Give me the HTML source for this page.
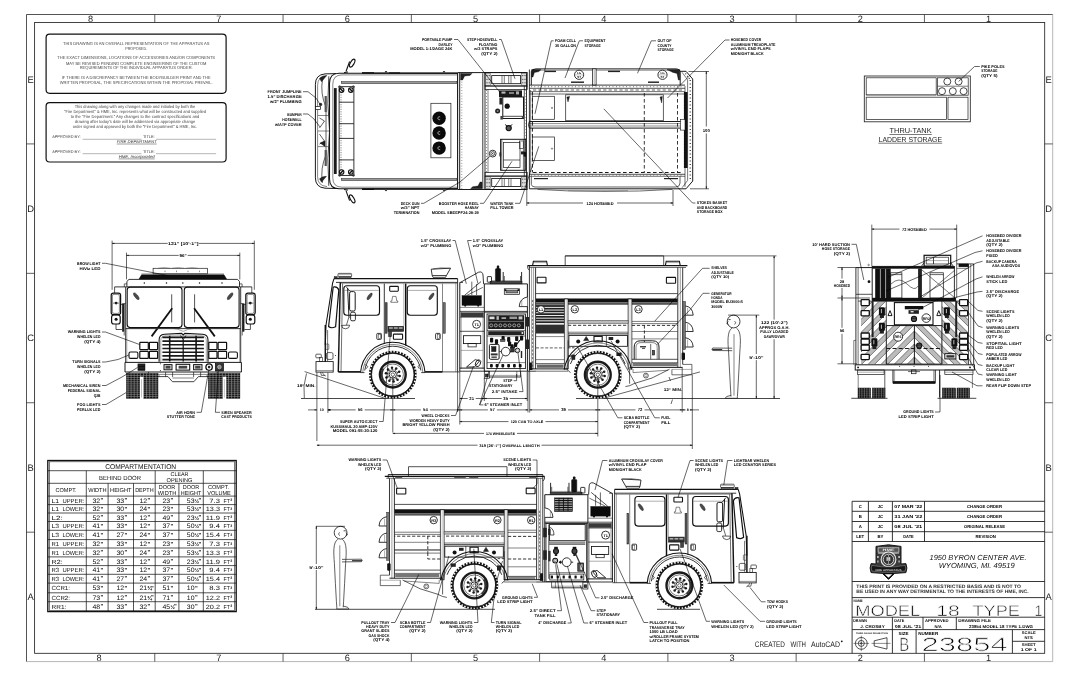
<!DOCTYPE html>
<html><head><meta charset="utf-8"><title>Model 18 Type 1</title>
<style>
html,body{margin:0;padding:0;background:#fff;}
body{width:1080px;height:675px;overflow:hidden;}
svg{display:block;font-family:"Liberation Sans",sans-serif;text-rendering:geometricPrecision;filter:grayscale(1);}
svg path,svg rect,svg circle,svg ellipse{vector-effect:none}
</style></head><body>
<svg width="1080" height="675" viewBox="0 0 1080 675">
<g>
<g id="frame">
<path d="M26.50 14.50L1052.70 14.50" stroke="#333" stroke-width="0.84"/>
<path d="M26.50 14.50L26.50 661.60" stroke="#333" stroke-width="0.84"/>
<path d="M1052.70 14.50L1052.70 661.60" stroke="#999" stroke-width="0.72"/>
<path d="M26.50 661.60L1052.70 661.60" stroke="#999" stroke-width="0.72"/>
<rect x="34.60" y="22.50" width="1010.10" height="630.80" stroke="#222" stroke-width="0.84" fill="none"/>
<path d="M154.78 14.50L154.78 22.50" stroke="#222" stroke-width="0.72"/>
<path d="M154.78 653.30L154.78 661.60" stroke="#222" stroke-width="0.72"/>
<path d="M283.05 14.50L283.05 22.50" stroke="#222" stroke-width="0.72"/>
<path d="M283.05 653.30L283.05 661.60" stroke="#222" stroke-width="0.72"/>
<path d="M411.33 14.50L411.33 22.50" stroke="#222" stroke-width="0.72"/>
<path d="M411.33 653.30L411.33 661.60" stroke="#222" stroke-width="0.72"/>
<path d="M539.60 14.50L539.60 22.50" stroke="#222" stroke-width="0.72"/>
<path d="M539.60 653.30L539.60 661.60" stroke="#222" stroke-width="0.72"/>
<path d="M667.88 14.50L667.88 22.50" stroke="#222" stroke-width="0.72"/>
<path d="M667.88 653.30L667.88 661.60" stroke="#222" stroke-width="0.72"/>
<path d="M796.15 14.50L796.15 22.50" stroke="#222" stroke-width="0.72"/>
<path d="M796.15 653.30L796.15 661.60" stroke="#222" stroke-width="0.72"/>
<path d="M924.43 14.50L924.43 22.50" stroke="#222" stroke-width="0.72"/>
<path d="M924.43 653.30L924.43 661.60" stroke="#222" stroke-width="0.72"/>
<path d="M26.50 143.92L34.60 143.92" stroke="#222" stroke-width="0.72"/>
<path d="M1044.70 143.92L1052.70 143.92" stroke="#222" stroke-width="0.72"/>
<path d="M26.50 273.34L34.60 273.34" stroke="#222" stroke-width="0.72"/>
<path d="M1044.70 273.34L1052.70 273.34" stroke="#222" stroke-width="0.72"/>
<path d="M26.50 402.76L34.60 402.76" stroke="#222" stroke-width="0.72"/>
<path d="M1044.70 402.76L1052.70 402.76" stroke="#222" stroke-width="0.72"/>
<path d="M26.50 532.18L34.60 532.18" stroke="#222" stroke-width="0.72"/>
<path d="M1044.70 532.18L1052.70 532.18" stroke="#222" stroke-width="0.72"/>
<text x="90.64" y="21.80" font-size="9.2" text-anchor="middle" fill="#222">8</text>
<text x="99.04" y="660.80" font-size="9.2" text-anchor="middle" fill="#222">8</text>
<text x="218.91" y="21.80" font-size="9.2" text-anchor="middle" fill="#222">7</text>
<text x="218.91" y="660.80" font-size="9.2" text-anchor="middle" fill="#222">7</text>
<text x="347.19" y="21.80" font-size="9.2" text-anchor="middle" fill="#222">6</text>
<text x="347.19" y="660.80" font-size="9.2" text-anchor="middle" fill="#222">6</text>
<text x="475.46" y="21.80" font-size="9.2" text-anchor="middle" fill="#222">5</text>
<text x="475.46" y="660.80" font-size="9.2" text-anchor="middle" fill="#222">5</text>
<text x="603.74" y="21.80" font-size="9.2" text-anchor="middle" fill="#222">4</text>
<text x="603.74" y="660.80" font-size="9.2" text-anchor="middle" fill="#222">4</text>
<text x="732.01" y="21.80" font-size="9.2" text-anchor="middle" fill="#222">3</text>
<text x="732.01" y="660.80" font-size="9.2" text-anchor="middle" fill="#222">3</text>
<text x="860.29" y="21.80" font-size="9.2" text-anchor="middle" fill="#222">2</text>
<text x="860.29" y="660.80" font-size="9.2" text-anchor="middle" fill="#222">2</text>
<text x="988.56" y="21.80" font-size="9.2" text-anchor="middle" fill="#222">1</text>
<text x="988.56" y="660.80" font-size="9.2" text-anchor="middle" fill="#222">1</text>
<text x="30.60" y="82.61" font-size="9.4" text-anchor="middle" fill="#222">E</text>
<text x="1048.70" y="82.61" font-size="9.4" text-anchor="middle" fill="#222">E</text>
<text x="30.60" y="212.03" font-size="9.4" text-anchor="middle" fill="#222">D</text>
<text x="1048.70" y="212.03" font-size="9.4" text-anchor="middle" fill="#222">D</text>
<text x="30.60" y="341.45" font-size="9.4" text-anchor="middle" fill="#222">C</text>
<text x="1048.70" y="341.45" font-size="9.4" text-anchor="middle" fill="#222">C</text>
<text x="30.60" y="470.87" font-size="9.4" text-anchor="middle" fill="#222">B</text>
<text x="1048.70" y="470.87" font-size="9.4" text-anchor="middle" fill="#222">B</text>
<text x="30.60" y="600.29" font-size="9.4" text-anchor="middle" fill="#222">A</text>
<text x="1048.70" y="600.29" font-size="9.4" text-anchor="middle" fill="#222">A</text>
<text x="754.80" y="647.40" font-size="8" textLength="30.20" lengthAdjust="spacingAndGlyphs" fill="#222">CREATED</text>
<text x="790.50" y="647.40" font-size="8" textLength="15.50" lengthAdjust="spacingAndGlyphs" fill="#222">WITH</text>
<text x="811.00" y="647.40" font-size="8" textLength="29.00" lengthAdjust="spacingAndGlyphs" fill="#222">AutoCAD</text>
<circle cx="841.80" cy="641.30" r="0.90" stroke="#000" stroke-width="0.00" fill="#111"/>
</g>
<g id="notes">
<rect x="46.10" y="34.10" width="180.00" height="59.20" stroke="#111" stroke-width="1.20" fill="none" rx="3.5"/>
<rect x="46.10" y="102.70" width="180.00" height="59.30" stroke="#111" stroke-width="1.20" fill="none" rx="3.5"/>
<text x="62.95" y="44.65" font-size="4.4" textLength="146.50" lengthAdjust="spacingAndGlyphs" fill="#444">THIS DRAWING IS AN OVERALL REPRESENTATION OF THE APPARATUS AS</text>
<text x="125.20" y="49.75" font-size="4.4" textLength="22.00" lengthAdjust="spacingAndGlyphs" fill="#444">PROPOSED.</text>
<text x="57.35" y="59.45" font-size="4.4" textLength="157.70" lengthAdjust="spacingAndGlyphs" fill="#444">THE EXACT DIMENSIONS, LOCATIONS OF ACCESSORIES AND/OR COMPONENTS</text>
<text x="65.95" y="64.55" font-size="4.4" textLength="140.50" lengthAdjust="spacingAndGlyphs" fill="#444">MAY BE REVISED PENDING COMPLETE ENGINEERING OF THE CUSTOM</text>
<text x="79.70" y="69.45" font-size="4.4" textLength="113.00" lengthAdjust="spacingAndGlyphs" fill="#444">REQUIREMENTS OF THE INDIVIDUAL APPARATUS ORDER.</text>
<text x="61.70" y="79.15" font-size="4.4" textLength="149.00" lengthAdjust="spacingAndGlyphs" fill="#444">IF THERE IS A DISCREPANCY BETWEEN THE BODYBUILDER PRINT AND THE</text>
<text x="59.70" y="84.25" font-size="4.4" textLength="153.00" lengthAdjust="spacingAndGlyphs" fill="#444">WRITTEN PROPOSAL, THE SPECIFICATIONS WITHIN THE PROPOSAL PREVAIL.</text>
<text x="74.65" y="108.40" font-size="4.4" textLength="120.70" lengthAdjust="spacingAndGlyphs" fill="#444">This drawing along with any changes made and initialed by both the</text>
<text x="64.00" y="113.10" font-size="4.4" textLength="142.00" lengthAdjust="spacingAndGlyphs" fill="#444">"Fire Department" &amp; HME, Inc. represents what will be constructed and supplied</text>
<text x="70.75" y="118.20" font-size="4.4" textLength="128.50" lengthAdjust="spacingAndGlyphs" fill="#444">to the "Fire Department." Any changes to the contract specifications and</text>
<text x="74.85" y="123.30" font-size="4.4" textLength="120.30" lengthAdjust="spacingAndGlyphs" fill="#444">drawing after today's date will be addressed via appropriate change</text>
<text x="72.80" y="128.30" font-size="4.4" textLength="124.40" lengthAdjust="spacingAndGlyphs" fill="#444">order signed and approved by both the "Fire Department" &amp; HME, Inc.</text>
<text x="52.20" y="138.40" font-size="4.2" textLength="28.40" lengthAdjust="spacingAndGlyphs" fill="#444">APPROVED BY:</text>
<text x="142.90" y="138.40" font-size="4.2" textLength="11.80" lengthAdjust="spacingAndGlyphs" fill="#444">TITLE:</text>
<path d="M82.60 139.30L141.50 139.30" stroke="#666" stroke-width="0.48"/>
<path d="M156.00 139.30L216.10 139.30" stroke="#666" stroke-width="0.48"/>
<text x="52.20" y="152.80" font-size="4.2" textLength="28.40" lengthAdjust="spacingAndGlyphs" fill="#444">APPROVED BY:</text>
<text x="142.90" y="152.80" font-size="4.2" textLength="11.80" lengthAdjust="spacingAndGlyphs" fill="#444">TITLE:</text>
<path d="M82.60 153.70L141.50 153.70" stroke="#666" stroke-width="0.48"/>
<path d="M156.00 153.70L216.10 153.70" stroke="#666" stroke-width="0.48"/>
<text x="116.70" y="143.00" font-size="4.2" font-style="italic" textLength="40.00" lengthAdjust="spacingAndGlyphs" fill="#333">FIRE DEPARTMENT</text>
<path d="M116.70 144.00L156.70 144.00" stroke="#333" stroke-width="0.48"/>
<text x="118.70" y="157.90" font-size="4.2" font-style="italic" textLength="36.00" lengthAdjust="spacingAndGlyphs" fill="#333">HME, Incorporated</text>
<path d="M118.70 158.90L154.70 158.90" stroke="#333" stroke-width="0.48"/>
</g>
<g id="table">
<rect x="47.80" y="460.50" width="188.40" height="151.10" stroke="#111" stroke-width="1.32" fill="none"/>
<rect x="49.30" y="461.80" width="185.40" height="148.80" stroke="#222" stroke-width="0.60" fill="none"/>
<path d="M47.80 470.70L236.20 470.70" stroke="#111" stroke-width="0.72"/>
<path d="M47.80 483.30L236.20 483.30" stroke="#111" stroke-width="0.72"/>
<path d="M47.80 496.10L236.20 496.10" stroke="#111" stroke-width="0.72"/>
<path d="M47.80 504.60L236.20 504.60" stroke="#111" stroke-width="0.72"/>
<path d="M47.80 513.00L236.20 513.00" stroke="#111" stroke-width="0.72"/>
<path d="M47.80 521.50L236.20 521.50" stroke="#111" stroke-width="0.72"/>
<path d="M47.80 530.30L236.20 530.30" stroke="#111" stroke-width="0.72"/>
<path d="M47.80 539.60L236.20 539.60" stroke="#111" stroke-width="0.72"/>
<path d="M47.80 548.00L236.20 548.00" stroke="#111" stroke-width="0.72"/>
<path d="M47.80 556.90L236.20 556.90" stroke="#111" stroke-width="0.72"/>
<path d="M47.80 565.60L236.20 565.60" stroke="#111" stroke-width="0.72"/>
<path d="M47.80 574.30L236.20 574.30" stroke="#111" stroke-width="0.72"/>
<path d="M47.80 583.10L236.20 583.10" stroke="#111" stroke-width="0.72"/>
<path d="M47.80 592.80L236.20 592.80" stroke="#111" stroke-width="0.72"/>
<path d="M47.80 601.70L236.20 601.70" stroke="#111" stroke-width="0.72"/>
<path d="M86.30 470.70L86.30 611.60" stroke="#111" stroke-width="0.72"/>
<path d="M108.10 483.30L108.10 611.60" stroke="#111" stroke-width="0.72"/>
<path d="M133.50 483.30L133.50 611.60" stroke="#111" stroke-width="0.72"/>
<path d="M155.20 470.70L155.20 611.60" stroke="#111" stroke-width="0.72"/>
<path d="M178.90 483.30L178.90 611.60" stroke="#111" stroke-width="0.72"/>
<path d="M203.30 470.70L203.30 611.60" stroke="#111" stroke-width="0.72"/>
<text x="140.70" y="468.90" font-size="7.0" text-anchor="middle" textLength="71.00" lengthAdjust="spacingAndGlyphs" fill="#111">COMPARTMENTATION</text>
<text x="120.00" y="479.60" font-size="6.0" text-anchor="middle" textLength="42.00" lengthAdjust="spacingAndGlyphs" fill="#111">BEHIND DOOR</text>
<text x="179.50" y="476.10" font-size="5.6" text-anchor="middle" textLength="18.00" lengthAdjust="spacingAndGlyphs" fill="#111">CLEAR</text>
<text x="179.50" y="482.00" font-size="5.6" text-anchor="middle" textLength="26.00" lengthAdjust="spacingAndGlyphs" fill="#111">OPENING</text>
<text x="66.00" y="492.40" font-size="5.7" text-anchor="middle" textLength="21.00" lengthAdjust="spacingAndGlyphs" fill="#111">COMPT.</text>
<text x="97.40" y="492.40" font-size="5.7" text-anchor="middle" textLength="18.50" lengthAdjust="spacingAndGlyphs" fill="#111">WIDTH</text>
<text x="120.80" y="492.40" font-size="5.7" text-anchor="middle" textLength="21.50" lengthAdjust="spacingAndGlyphs" fill="#111">HEIGHT</text>
<text x="144.40" y="492.40" font-size="5.7" text-anchor="middle" textLength="18.50" lengthAdjust="spacingAndGlyphs" fill="#111">DEPTH</text>
<text x="167.00" y="489.00" font-size="5.7" text-anchor="middle" textLength="16.50" lengthAdjust="spacingAndGlyphs" fill="#111">DOOR</text>
<text x="167.00" y="495.20" font-size="5.7" text-anchor="middle" textLength="18.50" lengthAdjust="spacingAndGlyphs" fill="#111">WIDTH</text>
<text x="191.00" y="489.00" font-size="5.7" text-anchor="middle" textLength="16.50" lengthAdjust="spacingAndGlyphs" fill="#111">DOOR</text>
<text x="191.00" y="495.20" font-size="5.7" text-anchor="middle" textLength="20.50" lengthAdjust="spacingAndGlyphs" fill="#111">HEIGHT</text>
<text x="218.50" y="489.00" font-size="5.7" text-anchor="middle" textLength="21.00" lengthAdjust="spacingAndGlyphs" fill="#111">COMPT.</text>
<text x="219.00" y="495.20" font-size="5.7" text-anchor="middle" textLength="23.50" lengthAdjust="spacingAndGlyphs" fill="#111">VOLUME</text>
<text x="51.50" y="502.65" font-size="6.0" textLength="7.60" lengthAdjust="spacingAndGlyphs" fill="#111">L1</text>
<text x="62.40" y="502.65" font-size="6.0" textLength="22.00" lengthAdjust="spacingAndGlyphs" fill="#111">UPPER:</text>
<text x="92.40" y="502.65" font-size="6.4" textLength="7.70" lengthAdjust="spacingAndGlyphs" fill="#111">32</text>
<text x="100.50" y="502.05" font-size="5.8" font-weight="bold" fill="#111">"</text>
<text x="116.40" y="502.65" font-size="6.4" textLength="7.70" lengthAdjust="spacingAndGlyphs" fill="#111">33</text>
<text x="124.50" y="502.05" font-size="5.8" font-weight="bold" fill="#111">"</text>
<text x="139.40" y="502.65" font-size="6.4" textLength="7.70" lengthAdjust="spacingAndGlyphs" fill="#111">12</text>
<text x="147.50" y="502.05" font-size="5.8" font-weight="bold" fill="#111">"</text>
<text x="162.40" y="502.65" font-size="6.4" textLength="7.70" lengthAdjust="spacingAndGlyphs" fill="#111">23</text>
<text x="170.50" y="502.05" font-size="5.8" font-weight="bold" fill="#111">"</text>
<text x="186.80" y="502.65" font-size="6.4" textLength="7.70" lengthAdjust="spacingAndGlyphs" fill="#111">53</text>
<text x="194.60" y="502.65" font-size="5.6" font-weight="bold" fill="#111">½</text>
<text x="198.50" y="502.05" font-size="5.8" font-weight="bold" fill="#111">"</text>
<text x="220.00" y="502.65" font-size="6.2" text-anchor="end" textLength="10.65" lengthAdjust="spacingAndGlyphs" fill="#111">7.3</text>
<text x="223.60" y="502.65" font-size="5.8" textLength="6.40" lengthAdjust="spacingAndGlyphs" fill="#111">FT</text>
<text x="230.20" y="501.05" font-size="3.6" font-weight="bold" fill="#111">3</text>
<text x="51.50" y="511.10" font-size="6.0" textLength="7.60" lengthAdjust="spacingAndGlyphs" fill="#111">L1</text>
<text x="62.40" y="511.10" font-size="6.0" textLength="22.00" lengthAdjust="spacingAndGlyphs" fill="#111">LOWER:</text>
<text x="92.40" y="511.10" font-size="6.4" textLength="7.70" lengthAdjust="spacingAndGlyphs" fill="#111">32</text>
<text x="100.50" y="510.50" font-size="5.8" font-weight="bold" fill="#111">"</text>
<text x="116.40" y="511.10" font-size="6.4" textLength="7.70" lengthAdjust="spacingAndGlyphs" fill="#111">30</text>
<text x="124.50" y="510.50" font-size="5.8" font-weight="bold" fill="#111">"</text>
<text x="139.40" y="511.10" font-size="6.4" textLength="7.70" lengthAdjust="spacingAndGlyphs" fill="#111">24</text>
<text x="147.50" y="510.50" font-size="5.8" font-weight="bold" fill="#111">"</text>
<text x="162.40" y="511.10" font-size="6.4" textLength="7.70" lengthAdjust="spacingAndGlyphs" fill="#111">23</text>
<text x="170.50" y="510.50" font-size="5.8" font-weight="bold" fill="#111">"</text>
<text x="186.80" y="511.10" font-size="6.4" textLength="7.70" lengthAdjust="spacingAndGlyphs" fill="#111">53</text>
<text x="194.60" y="511.10" font-size="5.6" font-weight="bold" fill="#111">½</text>
<text x="198.50" y="510.50" font-size="5.8" font-weight="bold" fill="#111">"</text>
<text x="220.00" y="511.10" font-size="6.2" text-anchor="end" textLength="14.20" lengthAdjust="spacingAndGlyphs" fill="#111">13.3</text>
<text x="223.60" y="511.10" font-size="5.8" textLength="6.40" lengthAdjust="spacingAndGlyphs" fill="#111">FT</text>
<text x="230.20" y="509.50" font-size="3.6" font-weight="bold" fill="#111">3</text>
<text x="51.50" y="519.55" font-size="6.0" textLength="11.10" lengthAdjust="spacingAndGlyphs" fill="#111">L2:</text>
<text x="92.40" y="519.55" font-size="6.4" textLength="7.70" lengthAdjust="spacingAndGlyphs" fill="#111">52</text>
<text x="100.50" y="518.95" font-size="5.8" font-weight="bold" fill="#111">"</text>
<text x="116.40" y="519.55" font-size="6.4" textLength="7.70" lengthAdjust="spacingAndGlyphs" fill="#111">33</text>
<text x="124.50" y="518.95" font-size="5.8" font-weight="bold" fill="#111">"</text>
<text x="139.40" y="519.55" font-size="6.4" textLength="7.70" lengthAdjust="spacingAndGlyphs" fill="#111">12</text>
<text x="147.50" y="518.95" font-size="5.8" font-weight="bold" fill="#111">"</text>
<text x="162.40" y="519.55" font-size="6.4" textLength="7.70" lengthAdjust="spacingAndGlyphs" fill="#111">49</text>
<text x="170.50" y="518.95" font-size="5.8" font-weight="bold" fill="#111">"</text>
<text x="186.80" y="519.55" font-size="6.4" textLength="7.70" lengthAdjust="spacingAndGlyphs" fill="#111">23</text>
<text x="194.60" y="519.55" font-size="5.6" font-weight="bold" fill="#111">½</text>
<text x="198.50" y="518.95" font-size="5.8" font-weight="bold" fill="#111">"</text>
<text x="220.00" y="519.55" font-size="6.2" text-anchor="end" textLength="14.20" lengthAdjust="spacingAndGlyphs" fill="#111">11.9</text>
<text x="223.60" y="519.55" font-size="5.8" textLength="6.40" lengthAdjust="spacingAndGlyphs" fill="#111">FT</text>
<text x="230.20" y="517.95" font-size="3.6" font-weight="bold" fill="#111">3</text>
<text x="51.50" y="528.20" font-size="6.0" textLength="7.60" lengthAdjust="spacingAndGlyphs" fill="#111">L3</text>
<text x="62.40" y="528.20" font-size="6.0" textLength="22.00" lengthAdjust="spacingAndGlyphs" fill="#111">UPPER:</text>
<text x="92.40" y="528.20" font-size="6.4" textLength="7.70" lengthAdjust="spacingAndGlyphs" fill="#111">41</text>
<text x="100.50" y="527.60" font-size="5.8" font-weight="bold" fill="#111">"</text>
<text x="116.40" y="528.20" font-size="6.4" textLength="7.70" lengthAdjust="spacingAndGlyphs" fill="#111">33</text>
<text x="124.50" y="527.60" font-size="5.8" font-weight="bold" fill="#111">"</text>
<text x="139.40" y="528.20" font-size="6.4" textLength="7.70" lengthAdjust="spacingAndGlyphs" fill="#111">12</text>
<text x="147.50" y="527.60" font-size="5.8" font-weight="bold" fill="#111">"</text>
<text x="162.40" y="528.20" font-size="6.4" textLength="7.70" lengthAdjust="spacingAndGlyphs" fill="#111">37</text>
<text x="170.50" y="527.60" font-size="5.8" font-weight="bold" fill="#111">"</text>
<text x="186.80" y="528.20" font-size="6.4" textLength="7.70" lengthAdjust="spacingAndGlyphs" fill="#111">50</text>
<text x="194.60" y="528.20" font-size="5.6" font-weight="bold" fill="#111">½</text>
<text x="198.50" y="527.60" font-size="5.8" font-weight="bold" fill="#111">"</text>
<text x="220.00" y="528.20" font-size="6.2" text-anchor="end" textLength="10.65" lengthAdjust="spacingAndGlyphs" fill="#111">9.4</text>
<text x="223.60" y="528.20" font-size="5.8" textLength="6.40" lengthAdjust="spacingAndGlyphs" fill="#111">FT</text>
<text x="230.20" y="526.60" font-size="3.6" font-weight="bold" fill="#111">3</text>
<text x="51.50" y="537.25" font-size="6.0" textLength="7.60" lengthAdjust="spacingAndGlyphs" fill="#111">L3</text>
<text x="62.40" y="537.25" font-size="6.0" textLength="22.00" lengthAdjust="spacingAndGlyphs" fill="#111">LOWER:</text>
<text x="92.40" y="537.25" font-size="6.4" textLength="7.70" lengthAdjust="spacingAndGlyphs" fill="#111">41</text>
<text x="100.50" y="536.65" font-size="5.8" font-weight="bold" fill="#111">"</text>
<text x="116.40" y="537.25" font-size="6.4" textLength="7.70" lengthAdjust="spacingAndGlyphs" fill="#111">27</text>
<text x="124.50" y="536.65" font-size="5.8" font-weight="bold" fill="#111">"</text>
<text x="139.40" y="537.25" font-size="6.4" textLength="7.70" lengthAdjust="spacingAndGlyphs" fill="#111">24</text>
<text x="147.50" y="536.65" font-size="5.8" font-weight="bold" fill="#111">"</text>
<text x="162.40" y="537.25" font-size="6.4" textLength="7.70" lengthAdjust="spacingAndGlyphs" fill="#111">37</text>
<text x="170.50" y="536.65" font-size="5.8" font-weight="bold" fill="#111">"</text>
<text x="186.80" y="537.25" font-size="6.4" textLength="7.70" lengthAdjust="spacingAndGlyphs" fill="#111">50</text>
<text x="194.60" y="537.25" font-size="5.6" font-weight="bold" fill="#111">½</text>
<text x="198.50" y="536.65" font-size="5.8" font-weight="bold" fill="#111">"</text>
<text x="220.00" y="537.25" font-size="6.2" text-anchor="end" textLength="14.20" lengthAdjust="spacingAndGlyphs" fill="#111">15.4</text>
<text x="223.60" y="537.25" font-size="5.8" textLength="6.40" lengthAdjust="spacingAndGlyphs" fill="#111">FT</text>
<text x="230.20" y="535.65" font-size="3.6" font-weight="bold" fill="#111">3</text>
<text x="51.50" y="546.10" font-size="6.0" textLength="7.60" lengthAdjust="spacingAndGlyphs" fill="#111">R1</text>
<text x="62.40" y="546.10" font-size="6.0" textLength="22.00" lengthAdjust="spacingAndGlyphs" fill="#111">UPPER:</text>
<text x="92.40" y="546.10" font-size="6.4" textLength="7.70" lengthAdjust="spacingAndGlyphs" fill="#111">32</text>
<text x="100.50" y="545.50" font-size="5.8" font-weight="bold" fill="#111">"</text>
<text x="116.40" y="546.10" font-size="6.4" textLength="7.70" lengthAdjust="spacingAndGlyphs" fill="#111">33</text>
<text x="124.50" y="545.50" font-size="5.8" font-weight="bold" fill="#111">"</text>
<text x="139.40" y="546.10" font-size="6.4" textLength="7.70" lengthAdjust="spacingAndGlyphs" fill="#111">12</text>
<text x="147.50" y="545.50" font-size="5.8" font-weight="bold" fill="#111">"</text>
<text x="162.40" y="546.10" font-size="6.4" textLength="7.70" lengthAdjust="spacingAndGlyphs" fill="#111">23</text>
<text x="170.50" y="545.50" font-size="5.8" font-weight="bold" fill="#111">"</text>
<text x="186.80" y="546.10" font-size="6.4" textLength="7.70" lengthAdjust="spacingAndGlyphs" fill="#111">53</text>
<text x="194.60" y="546.10" font-size="5.6" font-weight="bold" fill="#111">½</text>
<text x="198.50" y="545.50" font-size="5.8" font-weight="bold" fill="#111">"</text>
<text x="220.00" y="546.10" font-size="6.2" text-anchor="end" textLength="10.65" lengthAdjust="spacingAndGlyphs" fill="#111">7.3</text>
<text x="223.60" y="546.10" font-size="5.8" textLength="6.40" lengthAdjust="spacingAndGlyphs" fill="#111">FT</text>
<text x="230.20" y="544.50" font-size="3.6" font-weight="bold" fill="#111">3</text>
<text x="51.50" y="554.75" font-size="6.0" textLength="7.60" lengthAdjust="spacingAndGlyphs" fill="#111">R1</text>
<text x="62.40" y="554.75" font-size="6.0" textLength="22.00" lengthAdjust="spacingAndGlyphs" fill="#111">LOWER:</text>
<text x="92.40" y="554.75" font-size="6.4" textLength="7.70" lengthAdjust="spacingAndGlyphs" fill="#111">32</text>
<text x="100.50" y="554.15" font-size="5.8" font-weight="bold" fill="#111">"</text>
<text x="116.40" y="554.75" font-size="6.4" textLength="7.70" lengthAdjust="spacingAndGlyphs" fill="#111">30</text>
<text x="124.50" y="554.15" font-size="5.8" font-weight="bold" fill="#111">"</text>
<text x="139.40" y="554.75" font-size="6.4" textLength="7.70" lengthAdjust="spacingAndGlyphs" fill="#111">24</text>
<text x="147.50" y="554.15" font-size="5.8" font-weight="bold" fill="#111">"</text>
<text x="162.40" y="554.75" font-size="6.4" textLength="7.70" lengthAdjust="spacingAndGlyphs" fill="#111">23</text>
<text x="170.50" y="554.15" font-size="5.8" font-weight="bold" fill="#111">"</text>
<text x="186.80" y="554.75" font-size="6.4" textLength="7.70" lengthAdjust="spacingAndGlyphs" fill="#111">53</text>
<text x="194.60" y="554.75" font-size="5.6" font-weight="bold" fill="#111">½</text>
<text x="198.50" y="554.15" font-size="5.8" font-weight="bold" fill="#111">"</text>
<text x="220.00" y="554.75" font-size="6.2" text-anchor="end" textLength="14.20" lengthAdjust="spacingAndGlyphs" fill="#111">13.3</text>
<text x="223.60" y="554.75" font-size="5.8" textLength="6.40" lengthAdjust="spacingAndGlyphs" fill="#111">FT</text>
<text x="230.20" y="553.15" font-size="3.6" font-weight="bold" fill="#111">3</text>
<text x="51.50" y="563.55" font-size="6.0" textLength="11.10" lengthAdjust="spacingAndGlyphs" fill="#111">R2:</text>
<text x="92.40" y="563.55" font-size="6.4" textLength="7.70" lengthAdjust="spacingAndGlyphs" fill="#111">52</text>
<text x="100.50" y="562.95" font-size="5.8" font-weight="bold" fill="#111">"</text>
<text x="116.40" y="563.55" font-size="6.4" textLength="7.70" lengthAdjust="spacingAndGlyphs" fill="#111">33</text>
<text x="124.50" y="562.95" font-size="5.8" font-weight="bold" fill="#111">"</text>
<text x="139.40" y="563.55" font-size="6.4" textLength="7.70" lengthAdjust="spacingAndGlyphs" fill="#111">12</text>
<text x="147.50" y="562.95" font-size="5.8" font-weight="bold" fill="#111">"</text>
<text x="162.40" y="563.55" font-size="6.4" textLength="7.70" lengthAdjust="spacingAndGlyphs" fill="#111">49</text>
<text x="170.50" y="562.95" font-size="5.8" font-weight="bold" fill="#111">"</text>
<text x="186.80" y="563.55" font-size="6.4" textLength="7.70" lengthAdjust="spacingAndGlyphs" fill="#111">23</text>
<text x="194.60" y="563.55" font-size="5.6" font-weight="bold" fill="#111">½</text>
<text x="198.50" y="562.95" font-size="5.8" font-weight="bold" fill="#111">"</text>
<text x="220.00" y="563.55" font-size="6.2" text-anchor="end" textLength="14.20" lengthAdjust="spacingAndGlyphs" fill="#111">11.9</text>
<text x="223.60" y="563.55" font-size="5.8" textLength="6.40" lengthAdjust="spacingAndGlyphs" fill="#111">FT</text>
<text x="230.20" y="561.95" font-size="3.6" font-weight="bold" fill="#111">3</text>
<text x="51.50" y="572.25" font-size="6.0" textLength="7.60" lengthAdjust="spacingAndGlyphs" fill="#111">R3</text>
<text x="62.40" y="572.25" font-size="6.0" textLength="22.00" lengthAdjust="spacingAndGlyphs" fill="#111">UPPER:</text>
<text x="92.40" y="572.25" font-size="6.4" textLength="7.70" lengthAdjust="spacingAndGlyphs" fill="#111">41</text>
<text x="100.50" y="571.65" font-size="5.8" font-weight="bold" fill="#111">"</text>
<text x="116.40" y="572.25" font-size="6.4" textLength="7.70" lengthAdjust="spacingAndGlyphs" fill="#111">33</text>
<text x="124.50" y="571.65" font-size="5.8" font-weight="bold" fill="#111">"</text>
<text x="139.40" y="572.25" font-size="6.4" textLength="7.70" lengthAdjust="spacingAndGlyphs" fill="#111">12</text>
<text x="147.50" y="571.65" font-size="5.8" font-weight="bold" fill="#111">"</text>
<text x="162.40" y="572.25" font-size="6.4" textLength="7.70" lengthAdjust="spacingAndGlyphs" fill="#111">37</text>
<text x="170.50" y="571.65" font-size="5.8" font-weight="bold" fill="#111">"</text>
<text x="186.80" y="572.25" font-size="6.4" textLength="7.70" lengthAdjust="spacingAndGlyphs" fill="#111">50</text>
<text x="194.60" y="572.25" font-size="5.6" font-weight="bold" fill="#111">½</text>
<text x="198.50" y="571.65" font-size="5.8" font-weight="bold" fill="#111">"</text>
<text x="220.00" y="572.25" font-size="6.2" text-anchor="end" textLength="10.65" lengthAdjust="spacingAndGlyphs" fill="#111">9.4</text>
<text x="223.60" y="572.25" font-size="5.8" textLength="6.40" lengthAdjust="spacingAndGlyphs" fill="#111">FT</text>
<text x="230.20" y="570.65" font-size="3.6" font-weight="bold" fill="#111">3</text>
<text x="51.50" y="581.00" font-size="6.0" textLength="7.60" lengthAdjust="spacingAndGlyphs" fill="#111">R3</text>
<text x="62.40" y="581.00" font-size="6.0" textLength="22.00" lengthAdjust="spacingAndGlyphs" fill="#111">LOWER:</text>
<text x="92.40" y="581.00" font-size="6.4" textLength="7.70" lengthAdjust="spacingAndGlyphs" fill="#111">41</text>
<text x="100.50" y="580.40" font-size="5.8" font-weight="bold" fill="#111">"</text>
<text x="116.40" y="581.00" font-size="6.4" textLength="7.70" lengthAdjust="spacingAndGlyphs" fill="#111">27</text>
<text x="124.50" y="580.40" font-size="5.8" font-weight="bold" fill="#111">"</text>
<text x="139.40" y="581.00" font-size="6.4" textLength="7.70" lengthAdjust="spacingAndGlyphs" fill="#111">24</text>
<text x="147.50" y="580.40" font-size="5.8" font-weight="bold" fill="#111">"</text>
<text x="162.40" y="581.00" font-size="6.4" textLength="7.70" lengthAdjust="spacingAndGlyphs" fill="#111">37</text>
<text x="170.50" y="580.40" font-size="5.8" font-weight="bold" fill="#111">"</text>
<text x="186.80" y="581.00" font-size="6.4" textLength="7.70" lengthAdjust="spacingAndGlyphs" fill="#111">50</text>
<text x="194.60" y="581.00" font-size="5.6" font-weight="bold" fill="#111">½</text>
<text x="198.50" y="580.40" font-size="5.8" font-weight="bold" fill="#111">"</text>
<text x="220.00" y="581.00" font-size="6.2" text-anchor="end" textLength="14.20" lengthAdjust="spacingAndGlyphs" fill="#111">15.4</text>
<text x="223.60" y="581.00" font-size="5.8" textLength="6.40" lengthAdjust="spacingAndGlyphs" fill="#111">FT</text>
<text x="230.20" y="579.40" font-size="3.6" font-weight="bold" fill="#111">3</text>
<text x="51.50" y="590.25" font-size="6.0" textLength="18.50" lengthAdjust="spacingAndGlyphs" fill="#111">CCR1:</text>
<text x="92.40" y="590.25" font-size="6.4" textLength="7.70" lengthAdjust="spacingAndGlyphs" fill="#111">53</text>
<text x="100.50" y="589.65" font-size="5.8" font-weight="bold" fill="#111">"</text>
<text x="116.40" y="590.25" font-size="6.4" textLength="7.70" lengthAdjust="spacingAndGlyphs" fill="#111">12</text>
<text x="124.50" y="589.65" font-size="5.8" font-weight="bold" fill="#111">"</text>
<text x="139.40" y="590.25" font-size="6.4" textLength="7.70" lengthAdjust="spacingAndGlyphs" fill="#111">21</text>
<text x="147.20" y="590.25" font-size="5.6" font-weight="bold" fill="#111">¾</text>
<text x="151.10" y="589.65" font-size="5.8" font-weight="bold" fill="#111">"</text>
<text x="162.40" y="590.25" font-size="6.4" textLength="7.70" lengthAdjust="spacingAndGlyphs" fill="#111">51</text>
<text x="170.50" y="589.65" font-size="5.8" font-weight="bold" fill="#111">"</text>
<text x="186.80" y="590.25" font-size="6.4" textLength="7.70" lengthAdjust="spacingAndGlyphs" fill="#111">10</text>
<text x="194.90" y="589.65" font-size="5.8" font-weight="bold" fill="#111">"</text>
<text x="220.00" y="590.25" font-size="6.2" text-anchor="end" textLength="10.65" lengthAdjust="spacingAndGlyphs" fill="#111">8.3</text>
<text x="223.60" y="590.25" font-size="5.8" textLength="6.40" lengthAdjust="spacingAndGlyphs" fill="#111">FT</text>
<text x="230.20" y="588.65" font-size="3.6" font-weight="bold" fill="#111">3</text>
<text x="51.50" y="599.55" font-size="6.0" textLength="18.50" lengthAdjust="spacingAndGlyphs" fill="#111">CCR2:</text>
<text x="92.40" y="599.55" font-size="6.4" textLength="7.70" lengthAdjust="spacingAndGlyphs" fill="#111">73</text>
<text x="100.50" y="598.95" font-size="5.8" font-weight="bold" fill="#111">"</text>
<text x="116.40" y="599.55" font-size="6.4" textLength="7.70" lengthAdjust="spacingAndGlyphs" fill="#111">12</text>
<text x="124.50" y="598.95" font-size="5.8" font-weight="bold" fill="#111">"</text>
<text x="139.40" y="599.55" font-size="6.4" textLength="7.70" lengthAdjust="spacingAndGlyphs" fill="#111">21</text>
<text x="147.20" y="599.55" font-size="5.6" font-weight="bold" fill="#111">¾</text>
<text x="151.10" y="598.95" font-size="5.8" font-weight="bold" fill="#111">"</text>
<text x="162.40" y="599.55" font-size="6.4" textLength="7.70" lengthAdjust="spacingAndGlyphs" fill="#111">71</text>
<text x="170.50" y="598.95" font-size="5.8" font-weight="bold" fill="#111">"</text>
<text x="186.80" y="599.55" font-size="6.4" textLength="7.70" lengthAdjust="spacingAndGlyphs" fill="#111">10</text>
<text x="194.90" y="598.95" font-size="5.8" font-weight="bold" fill="#111">"</text>
<text x="220.00" y="599.55" font-size="6.2" text-anchor="end" textLength="14.20" lengthAdjust="spacingAndGlyphs" fill="#111">12.2</text>
<text x="223.60" y="599.55" font-size="5.8" textLength="6.40" lengthAdjust="spacingAndGlyphs" fill="#111">FT</text>
<text x="230.20" y="597.95" font-size="3.6" font-weight="bold" fill="#111">3</text>
<text x="51.50" y="608.65" font-size="6.0" textLength="14.80" lengthAdjust="spacingAndGlyphs" fill="#111">RR1:</text>
<text x="92.40" y="608.65" font-size="6.4" textLength="7.70" lengthAdjust="spacingAndGlyphs" fill="#111">48</text>
<text x="100.50" y="608.05" font-size="5.8" font-weight="bold" fill="#111">"</text>
<text x="116.40" y="608.65" font-size="6.4" textLength="7.70" lengthAdjust="spacingAndGlyphs" fill="#111">33</text>
<text x="124.50" y="608.05" font-size="5.8" font-weight="bold" fill="#111">"</text>
<text x="139.40" y="608.65" font-size="6.4" textLength="7.70" lengthAdjust="spacingAndGlyphs" fill="#111">32</text>
<text x="147.50" y="608.05" font-size="5.8" font-weight="bold" fill="#111">"</text>
<text x="162.40" y="608.65" font-size="6.4" textLength="7.70" lengthAdjust="spacingAndGlyphs" fill="#111">45</text>
<text x="170.20" y="608.65" font-size="5.6" font-weight="bold" fill="#111">½</text>
<text x="174.10" y="608.05" font-size="5.8" font-weight="bold" fill="#111">"</text>
<text x="186.80" y="608.65" font-size="6.4" textLength="7.70" lengthAdjust="spacingAndGlyphs" fill="#111">30</text>
<text x="194.90" y="608.05" font-size="5.8" font-weight="bold" fill="#111">"</text>
<text x="220.00" y="608.65" font-size="6.2" text-anchor="end" textLength="14.20" lengthAdjust="spacingAndGlyphs" fill="#111">20.2</text>
<text x="223.60" y="608.65" font-size="5.8" textLength="6.40" lengthAdjust="spacingAndGlyphs" fill="#111">FT</text>
<text x="230.20" y="607.05" font-size="3.6" font-weight="bold" fill="#111">3</text>
</g>
<g id="title">
<path d="M852.10 501.30L852.10 653.30" stroke="#111" stroke-width="0.84"/>
<path d="M852.10 501.30L1044.70 501.30" stroke="#111" stroke-width="0.84"/>
<path d="M852.10 511.30L1044.70 511.30" stroke="#111" stroke-width="0.84"/>
<path d="M852.10 521.50L1044.70 521.50" stroke="#111" stroke-width="0.84"/>
<path d="M852.10 531.70L1044.70 531.70" stroke="#111" stroke-width="0.84"/>
<path d="M852.10 541.50L1044.70 541.50" stroke="#111" stroke-width="0.84"/>
<path d="M852.10 581.50L1044.70 581.50" stroke="#111" stroke-width="0.84"/>
<path d="M852.10 597.60L1044.70 597.60" stroke="#111" stroke-width="0.84"/>
<path d="M852.10 617.20L1044.70 617.20" stroke="#111" stroke-width="0.84"/>
<path d="M852.10 629.60L1044.70 629.60" stroke="#111" stroke-width="0.84"/>
<path d="M868.40 501.30L868.40 541.50" stroke="#111" stroke-width="0.84"/>
<path d="M892.40 501.30L892.40 541.50" stroke="#111" stroke-width="0.84"/>
<path d="M924.50 501.30L924.50 541.50" stroke="#111" stroke-width="0.84"/>
<path d="M892.40 617.20L892.40 629.60" stroke="#111" stroke-width="0.84"/>
<path d="M923.00 617.20L923.00 629.60" stroke="#111" stroke-width="0.84"/>
<path d="M956.30 617.20L956.30 629.60" stroke="#111" stroke-width="0.84"/>
<path d="M892.40 629.60L892.40 653.30" stroke="#111" stroke-width="0.84"/>
<path d="M916.10 629.60L916.10 653.30" stroke="#111" stroke-width="0.84"/>
<path d="M1012.40 629.60L1012.40 653.30" stroke="#111" stroke-width="0.84"/>
<path d="M1012.40 641.30L1044.70 641.30" stroke="#111" stroke-width="0.84"/>
<text x="860.20" y="507.70" font-size="4.3" text-anchor="middle" font-weight="bold">C</text>
<text x="880.40" y="507.70" font-size="4.3" text-anchor="middle" font-weight="bold">JC</text>
<text x="894.30" y="507.70" font-size="4.3" font-weight="bold" textLength="28.00" lengthAdjust="spacingAndGlyphs">07 MAR '22</text>
<text x="967.00" y="507.70" font-size="4.3" font-weight="bold" textLength="35.00" lengthAdjust="spacingAndGlyphs">CHANGE ORDER</text>
<text x="860.20" y="517.80" font-size="4.3" text-anchor="middle" font-weight="bold">B</text>
<text x="880.40" y="517.80" font-size="4.3" text-anchor="middle" font-weight="bold">JC</text>
<text x="894.30" y="517.80" font-size="4.3" font-weight="bold" textLength="28.00" lengthAdjust="spacingAndGlyphs">31 JAN '22</text>
<text x="967.00" y="517.80" font-size="4.3" font-weight="bold" textLength="35.00" lengthAdjust="spacingAndGlyphs">CHANGE ORDER</text>
<text x="860.20" y="528.00" font-size="4.3" text-anchor="middle" font-weight="bold">A</text>
<text x="880.40" y="528.00" font-size="4.3" text-anchor="middle" font-weight="bold">JC</text>
<text x="894.30" y="528.00" font-size="4.3" font-weight="bold" textLength="28.00" lengthAdjust="spacingAndGlyphs">08 JUL '21</text>
<text x="964.00" y="528.00" font-size="4.3" font-weight="bold" textLength="41.00" lengthAdjust="spacingAndGlyphs">ORIGINAL RELEASE</text>
<text x="860.20" y="538.00" font-size="4.3" text-anchor="middle" font-weight="bold">LET</text>
<text x="880.40" y="538.00" font-size="4.3" text-anchor="middle" font-weight="bold">BY</text>
<text x="908.50" y="538.00" font-size="4.3" text-anchor="middle" font-weight="bold" textLength="10.50" lengthAdjust="spacingAndGlyphs">DATE</text>
<text x="975.45" y="538.00" font-size="4.3" font-weight="bold" textLength="20.50" lengthAdjust="spacingAndGlyphs">REVISION</text>
<text x="929.50" y="559.90" font-size="7.4" font-style="italic" textLength="97.20" lengthAdjust="spacingAndGlyphs" fill="#111">1950 BYRON CENTER AVE.</text>
<text x="938.70" y="567.70" font-size="7.4" font-style="italic" textLength="76.00" lengthAdjust="spacingAndGlyphs" fill="#111">WYOMING, MI. 49519</text>
<text x="856.30" y="587.60" font-size="4.9" font-weight="bold" textLength="164.70" lengthAdjust="spacingAndGlyphs" opacity="0.9" fill="#111">THIS PRINT IS PROVIDED ON A RESTRICTED BASIS AND IS NOT TO</text>
<text x="856.30" y="593.00" font-size="4.9" font-weight="bold" textLength="172.30" lengthAdjust="spacingAndGlyphs" opacity="0.9" fill="#111">BE USED IN ANY WAY DETRIMENTAL TO THE INTERESTS OF HME, INC.</text>
<text x="853.40" y="602.00" font-size="3.8" font-weight="bold" textLength="9.20" lengthAdjust="spacingAndGlyphs">NAME</text>
<text x="855.20" y="616.30" font-size="15.4" textLength="65.00" lengthAdjust="spacingAndGlyphs" stroke="#fff" stroke-width="0.55">MODEL</text>
<text x="936.20" y="616.30" font-size="15.4" textLength="23.50" lengthAdjust="spacingAndGlyphs" stroke="#fff" stroke-width="0.55">18</text>
<text x="972.50" y="616.30" font-size="15.4" textLength="47.50" lengthAdjust="spacingAndGlyphs" stroke="#fff" stroke-width="0.55">TYPE</text>
<text x="1034.50" y="616.30" font-size="15.4" textLength="8.00" lengthAdjust="spacingAndGlyphs" stroke="#fff" stroke-width="0.55">1</text>
<text x="853.20" y="621.90" font-size="4.2" font-weight="bold" textLength="13.80" lengthAdjust="spacingAndGlyphs">DRAWN</text>
<text x="860.20" y="627.60" font-size="4.2" font-weight="bold" textLength="24.50" lengthAdjust="spacingAndGlyphs">J. CROSBY</text>
<text x="894.20" y="621.90" font-size="4.2" font-weight="bold" textLength="10.20" lengthAdjust="spacingAndGlyphs">DATE</text>
<text x="894.70" y="627.60" font-size="4.2" font-weight="bold" textLength="26.50" lengthAdjust="spacingAndGlyphs">08 JUL '21</text>
<text x="925.00" y="621.90" font-size="4.2" font-weight="bold" textLength="23.50" lengthAdjust="spacingAndGlyphs">APPROVED</text>
<text x="938.20" y="627.60" font-size="4.2" text-anchor="middle" font-weight="bold">N/A</text>
<text x="958.20" y="621.90" font-size="4.2" font-weight="bold" textLength="32.80" lengthAdjust="spacingAndGlyphs">DRAWING FILE</text>
<text x="969.00" y="627.90" font-size="4.2" font-weight="bold" textLength="64.00" lengthAdjust="spacingAndGlyphs">23854 MODEL 18 TYPE 1.DWG</text>
<text x="898.40" y="634.60" font-size="4.3" font-weight="bold" textLength="10.00" lengthAdjust="spacingAndGlyphs">SIZE</text>
<text x="918.20" y="634.60" font-size="4.3" font-weight="bold" textLength="20.00" lengthAdjust="spacingAndGlyphs">NUMBER</text>
<text x="1028.70" y="634.20" font-size="3.9" text-anchor="middle" font-weight="bold" textLength="14.00" lengthAdjust="spacingAndGlyphs">SCALE</text>
<text x="1028.70" y="639.40" font-size="4.2" text-anchor="middle" font-weight="bold">NTS</text>
<text x="1028.70" y="646.20" font-size="3.9" text-anchor="middle" font-weight="bold" textLength="14.00" lengthAdjust="spacingAndGlyphs">SHEET</text>
<text x="1028.70" y="651.40" font-size="4.2" text-anchor="middle" font-weight="bold" textLength="16.00" lengthAdjust="spacingAndGlyphs">1 OF 1</text>
<text x="856.00" y="634.30" font-size="2.2" font-weight="bold" textLength="32.00" lengthAdjust="spacingAndGlyphs">THIRD ANGLE PROJECTION</text>
<text x="899.20" y="651.00" font-size="19.2" textLength="10.00" lengthAdjust="spacingAndGlyphs" stroke="#fff" stroke-width="0.7">B</text>
<text x="921.60" y="651.00" font-size="19.2" textLength="86.00" lengthAdjust="spacingAndGlyphs" stroke="#fff" stroke-width="0.7">23854</text>
<circle cx="861.30" cy="643.40" r="5.90" stroke="#111" stroke-width="0.72" fill="none"/>
<circle cx="861.30" cy="643.40" r="3.00" stroke="#111" stroke-width="0.72" fill="none"/>
<circle cx="861.30" cy="643.40" r="0.80" stroke="#111" stroke-width="0.60" fill="none"/>
<path d="M853.50 643.40L869.10 643.40" stroke="#111" stroke-width="0.48"/>
<path d="M861.30 635.60L861.30 651.20" stroke="#111" stroke-width="0.48"/>
<path d="M874.20 640.80L887.00 637.70L887.00 649.10L874.20 646.00Z" stroke="#111" stroke-width="0.72" fill="none"/>
<path d="M871.50 643.40L890.50 643.40" stroke="#111" stroke-width="0.48"/>
<path d="M876.0 546.4L888.5 544.8L901.0 546.4L901.0 564.0L905.9 563.6Q907.9 568.0 905.9 572.6L894.5 573.4L888.5 579.4L882.5 573.4L871.1 572.6Q869.1 568.0 871.1 563.6L876.0 564.0Z" stroke="#111" stroke-width="0.96" fill="#3a3a3a" />
<rect x="878.10" y="547.80" width="20.80" height="4.40" stroke="#eee" stroke-width="0.60" fill="#555"/>
<text x="888.50" y="551.20" font-size="3.4" text-anchor="middle" font-weight="bold" textLength="12.00" lengthAdjust="spacingAndGlyphs" fill="#eee">HME</text>
<path d="M878.10 553.40L898.90 553.40" stroke="#ddd" stroke-width="0.60"/>
<circle cx="888.50" cy="559.40" r="7.40" stroke="#eee" stroke-width="1.08" fill="#4a4a4a"/>
<circle cx="888.50" cy="559.40" r="5.20" stroke="#ddd" stroke-width="0.84" fill="#333"/>
<text x="888.50" y="561.40" font-size="6.0" text-anchor="middle" font-weight="bold" fill="#eee">H</text>
<path d="M888.50 555.00L888.50 564.00" stroke="#ccc" stroke-width="0.60"/>
<rect x="877.20" y="556.00" width="1.40" height="2.00" stroke="#000" stroke-width="0.00" fill="#ddd"/>
<rect x="877.20" y="560.50" width="1.40" height="2.00" stroke="#000" stroke-width="0.00" fill="#bbb"/>
<rect x="898.40" y="556.00" width="1.40" height="2.00" stroke="#000" stroke-width="0.00" fill="#ddd"/>
<rect x="898.40" y="560.50" width="1.40" height="2.00" stroke="#000" stroke-width="0.00" fill="#bbb"/>
<path d="M871.9 565.4L881.5 566.8L895.5 566.8L905.1 565.4Q906.3 568.0 905.1 571.0L895.5 572.0L881.5 572.0L871.9 571.0Q870.7 568.0 871.9 565.4Z" stroke="#bbb" stroke-width="0.36" fill="#161616" />
<text x="888.50" y="570.80" font-size="2.7" text-anchor="middle" font-weight="bold" textLength="26.00" lengthAdjust="spacingAndGlyphs" fill="#ddd">FIRE APPARATUS</text>
<path d="M883.30 573.60L888.50 578.40L893.70 573.60Z" stroke="#111" stroke-width="1.08" fill="#fff"/>
</g>
<g id="topview">
<path d="M457.6 73.3L339 73.3Q329.5 73.3 329.5 83.3L329.5 178.8Q329.5 188.8 339 188.8L457.6 188.8Z" stroke="#111" stroke-width="1.08" fill="none" />
<path d="M362.00 73.10L457.60 73.10" stroke="#111" stroke-width="1.44"/>
<path d="M362.00 189.00L457.60 189.00" stroke="#111" stroke-width="1.44"/>
<path d="M457.6 74.89999999999999L342 74.89999999999999Q332.8 74.89999999999999 332.8 84.3L332.8 177.8Q332.8 187.20000000000002 342 187.20000000000002L457.6 187.20000000000002" stroke="#333" stroke-width="0.60" fill="none" />
<path d="M336 73.6L325 73.89999999999999Q315.4 74.8 315.4 84.3L315.4 177.8Q315.4 187.3 325 188.20000000000002L336 188.5" stroke="#111" stroke-width="0.96" fill="none" />
<path d="M327 75.5Q317.6 76.3 317.6 85.3L317.6 176.8Q317.6 185.8 327 186.60000000000002" stroke="#333" stroke-width="0.60" fill="none" />
<path d="M322.5 79.3Q320 93.3 326 107.3L326 154.8Q320 168.8 322.5 182.8" stroke="#222" stroke-width="0.72" fill="none" />
<path d="M328.8 76.3Q326.5 103.3 329.6 131.05Q326.5 158.8 328.8 185.8" stroke="#222" stroke-width="0.84" fill="none" />
<path d="M319.5 78.3q3-3 7-2.5l-5 6z" stroke="#111" stroke-width="0.36" fill="#222" />
<path d="M319.5 178.8q3-3 7-2.5l-5 6z" stroke="#111" stroke-width="0.36" fill="#222" />
<rect x="315.60" y="106.60" width="5.00" height="3.00" stroke="#111" stroke-width="0.72" fill="#fff"/>
<circle cx="320.60" cy="104.40" r="1.60" stroke="#000" stroke-width="0.00" fill="#333"/>
<rect x="324.60" y="96.00" width="2.20" height="16.00" stroke="#000" stroke-width="0.00" fill="#555"/>
<rect x="324.60" y="150.00" width="2.20" height="16.00" stroke="#000" stroke-width="0.00" fill="#555"/>
<path d="M319.50 118.00L324.50 121.00L319.50 128.00" stroke="#222" stroke-width="0.72" fill="none"/>
<path d="M319.50 144.10L324.50 141.10L319.50 134.10" stroke="#222" stroke-width="0.72" fill="none"/>
<path d="M320.00 143.00L325.00 146.60L325.00 141.00Z" stroke="#000" stroke-width="0.36" fill="#222"/>
<path d="M318.00 115.50L330.00 115.50" stroke="#333" stroke-width="0.60"/>
<path d="M318.00 146.60L330.00 146.60" stroke="#333" stroke-width="0.60"/>
<path d="M318.00 131.00L329.00 131.00" stroke="#333" stroke-width="0.60"/>
<rect x="341.30" y="81.50" width="115.60" height="2.20" stroke="#222" stroke-width="0.48" fill="#999"/>
<rect x="341.30" y="178.40" width="115.60" height="2.20" stroke="#222" stroke-width="0.48" fill="#999"/>
<rect x="333.90" y="88.10" width="2.80" height="85.90" stroke="#000" stroke-width="0.00" fill="#1a1a1a"/>
<rect x="339.10" y="86.70" width="14.80" height="88.70" stroke="#111" stroke-width="0.84" fill="none"/>
<path d="M341.00 92.00L341.00 170.10" stroke="#333" stroke-width="0.60" stroke-dasharray="1.2 1.2"/>
<path d="M339.10 102.20L353.90 102.20" stroke="#111" stroke-width="0.84"/>
<path d="M339.10 123.70L353.90 123.70" stroke="#111" stroke-width="0.84"/>
<path d="M339.10 138.40L353.90 138.40" stroke="#111" stroke-width="0.84"/>
<path d="M339.10 159.90L353.90 159.90" stroke="#111" stroke-width="0.84"/>
<circle cx="341.60" cy="90.10" r="2.30" stroke="#111" stroke-width="1.08" fill="none"/>
<path d="M340.0 88.3L343.20000000000005 91.5" stroke="#111" stroke-width="1.44" fill="none" />
<circle cx="350.80" cy="90.10" r="2.30" stroke="#111" stroke-width="1.08" fill="none"/>
<path d="M349.2 88.3L352.40000000000003 91.5" stroke="#111" stroke-width="1.44" fill="none" />
<circle cx="339.60" cy="86.70" r="1.00" stroke="#111" stroke-width="0.60" fill="none"/>
<circle cx="353.40" cy="86.70" r="1.00" stroke="#111" stroke-width="0.60" fill="none"/>
<circle cx="341.60" cy="172.00" r="2.30" stroke="#111" stroke-width="1.08" fill="none"/>
<path d="M340.0 173.80000000000004L343.20000000000005 170.60000000000002" stroke="#111" stroke-width="1.44" fill="none" />
<circle cx="350.80" cy="172.00" r="2.30" stroke="#111" stroke-width="1.08" fill="none"/>
<path d="M349.2 173.80000000000004L352.40000000000003 170.60000000000002" stroke="#111" stroke-width="1.44" fill="none" />
<circle cx="339.60" cy="175.40" r="1.00" stroke="#111" stroke-width="0.60" fill="none"/>
<circle cx="353.40" cy="175.40" r="1.00" stroke="#111" stroke-width="0.60" fill="none"/>
<ellipse cx="352.20" cy="63.20" rx="1.80" ry="4.40" stroke="#111" stroke-width="1.20" fill="none" transform="rotate(30 352.20 63.20)"/>
<path d="M346.00 71.50L349.60 61.50" stroke="#111" stroke-width="1.08"/>
<path d="M344.00 72.60L348.00 72.00" stroke="#111" stroke-width="0.96"/>
<ellipse cx="352.20" cy="198.90" rx="1.80" ry="4.40" stroke="#111" stroke-width="1.20" fill="none" transform="rotate(-30 352.20 198.90)"/>
<path d="M346.00 190.60L349.60 200.60" stroke="#111" stroke-width="1.08"/>
<path d="M344.00 189.50L348.00 190.10" stroke="#111" stroke-width="0.96"/>
<rect x="385.20" y="71.30" width="1.60" height="2.00" stroke="#111" stroke-width="0.48" fill="#888"/>
<rect x="385.20" y="188.80" width="1.60" height="2.00" stroke="#111" stroke-width="0.48" fill="#888"/>
<rect x="443.20" y="71.30" width="1.60" height="2.00" stroke="#111" stroke-width="0.48" fill="#888"/>
<rect x="443.20" y="188.80" width="1.60" height="2.00" stroke="#111" stroke-width="0.48" fill="#888"/>
<path d="M362.00 72.70L374.00 72.70" stroke="#000" stroke-width="0.84"/>
<path d="M389.00 72.90L400.00 72.90" stroke="#000" stroke-width="0.84"/>
<path d="M362.00 189.40L374.00 189.40" stroke="#000" stroke-width="0.84"/>
<rect x="430.90" y="103.30" width="20.00" height="54.50" stroke="#222" stroke-width="0.72" fill="none"/>
<circle cx="439.10" cy="118.20" r="6.70" stroke="#000" stroke-width="0.00" fill="#0a0a0a"/>
<path d="M440.2 117.0a1.5 1.5 0 1 0 0 2.4" stroke="#eee" stroke-width="0.60" fill="none" />
<circle cx="439.10" cy="133.00" r="6.70" stroke="#000" stroke-width="0.00" fill="#0a0a0a"/>
<path d="M440.2 131.8a1.5 1.5 0 1 0 0 2.4" stroke="#eee" stroke-width="0.60" fill="none" />
<circle cx="439.10" cy="148.10" r="6.70" stroke="#000" stroke-width="0.00" fill="#0a0a0a"/>
<path d="M440.2 146.9a1.5 1.5 0 1 0 0 2.4" stroke="#eee" stroke-width="0.60" fill="none" />
<path d="M459.70 72.60L459.70 189.50" stroke="#111" stroke-width="0.96"/>
<path d="M461.80 73.30L461.80 188.80" stroke="#222" stroke-width="0.60" stroke-dasharray="0.8 2.0"/>
<path d="M457.60 72.60L527.20 72.60" stroke="#111" stroke-width="0.96"/>
<path d="M457.60 189.50L527.20 189.50" stroke="#111" stroke-width="0.96"/>
<path d="M460.60 73.40L472.00 73.40L470.00 75.40L464.60 76.00L462.60 80.00L460.60 80.00Z" stroke="#000" stroke-width="0.36" fill="#222"/>
<path d="M482.00 188.70L470.60 188.70L472.60 186.70L478.00 186.10L480.00 182.10L482.00 182.10Z" stroke="#000" stroke-width="0.36" fill="#222"/>
<path d="M482.80 73.30L482.80 188.80" stroke="#111" stroke-width="0.84"/>
<path d="M485.00 73.30L485.00 188.80" stroke="#111" stroke-width="0.84"/>
<path d="M488.00 89.60L488.00 172.50" stroke="#333" stroke-width="0.60"/>
<path d="M486.50 90.00L486.50 172.10" stroke="#222" stroke-width="0.60" stroke-dasharray="0.8 2.2"/>
<rect x="485.00" y="72.60" width="42.20" height="13.40" stroke="#111" stroke-width="0.84" fill="none"/>
<rect x="491.70" y="75.60" width="28.90" height="8.10" stroke="#111" stroke-width="0.84" fill="none"/>
<path d="M502.00 75.60L502.00 83.70" stroke="#222" stroke-width="0.60"/>
<path d="M504.30 75.60L504.30 83.70" stroke="#222" stroke-width="0.60"/>
<path d="M508.70 75.60L508.70 83.70" stroke="#222" stroke-width="0.60"/>
<path d="M511.00 75.60L511.00 83.70" stroke="#222" stroke-width="0.60"/>
<rect x="485.60" y="73.40" width="5.00" height="11.80" stroke="#222" stroke-width="0.36" fill="#ddd"/>
<circle cx="487.00" cy="75.60" r="0.55" stroke="#000" stroke-width="0.00" fill="#111"/>
<circle cx="489.20" cy="75.60" r="0.55" stroke="#000" stroke-width="0.00" fill="#111"/>
<circle cx="487.00" cy="79.20" r="0.55" stroke="#000" stroke-width="0.00" fill="#111"/>
<circle cx="489.20" cy="79.20" r="0.55" stroke="#000" stroke-width="0.00" fill="#111"/>
<circle cx="487.00" cy="82.80" r="0.55" stroke="#000" stroke-width="0.00" fill="#111"/>
<circle cx="489.20" cy="82.80" r="0.55" stroke="#000" stroke-width="0.00" fill="#111"/>
<rect x="521.40" y="73.40" width="5.00" height="11.80" stroke="#222" stroke-width="0.36" fill="#ddd"/>
<circle cx="522.80" cy="75.60" r="0.55" stroke="#000" stroke-width="0.00" fill="#111"/>
<circle cx="525.00" cy="75.60" r="0.55" stroke="#000" stroke-width="0.00" fill="#111"/>
<circle cx="522.80" cy="79.20" r="0.55" stroke="#000" stroke-width="0.00" fill="#111"/>
<circle cx="525.00" cy="79.20" r="0.55" stroke="#000" stroke-width="0.00" fill="#111"/>
<circle cx="522.80" cy="82.80" r="0.55" stroke="#000" stroke-width="0.00" fill="#111"/>
<circle cx="525.00" cy="82.80" r="0.55" stroke="#000" stroke-width="0.00" fill="#111"/>
<rect x="485.00" y="86.00" width="42.20" height="3.60" stroke="#111" stroke-width="0.72" fill="none"/>
<rect x="485.00" y="176.10" width="42.20" height="13.40" stroke="#111" stroke-width="0.84" fill="none"/>
<rect x="491.70" y="178.40" width="28.90" height="8.10" stroke="#111" stroke-width="0.84" fill="none"/>
<path d="M502.00 178.40L502.00 186.50" stroke="#222" stroke-width="0.60"/>
<path d="M504.30 178.40L504.30 186.50" stroke="#222" stroke-width="0.60"/>
<path d="M508.70 178.40L508.70 186.50" stroke="#222" stroke-width="0.60"/>
<path d="M511.00 178.40L511.00 186.50" stroke="#222" stroke-width="0.60"/>
<rect x="485.60" y="176.90" width="5.00" height="11.80" stroke="#222" stroke-width="0.36" fill="#ddd"/>
<circle cx="487.00" cy="179.10" r="0.55" stroke="#000" stroke-width="0.00" fill="#111"/>
<circle cx="489.20" cy="179.10" r="0.55" stroke="#000" stroke-width="0.00" fill="#111"/>
<circle cx="487.00" cy="182.70" r="0.55" stroke="#000" stroke-width="0.00" fill="#111"/>
<circle cx="489.20" cy="182.70" r="0.55" stroke="#000" stroke-width="0.00" fill="#111"/>
<circle cx="487.00" cy="186.30" r="0.55" stroke="#000" stroke-width="0.00" fill="#111"/>
<circle cx="489.20" cy="186.30" r="0.55" stroke="#000" stroke-width="0.00" fill="#111"/>
<rect x="521.40" y="176.90" width="5.00" height="11.80" stroke="#222" stroke-width="0.36" fill="#ddd"/>
<circle cx="522.80" cy="179.10" r="0.55" stroke="#000" stroke-width="0.00" fill="#111"/>
<circle cx="525.00" cy="179.10" r="0.55" stroke="#000" stroke-width="0.00" fill="#111"/>
<circle cx="522.80" cy="182.70" r="0.55" stroke="#000" stroke-width="0.00" fill="#111"/>
<circle cx="525.00" cy="182.70" r="0.55" stroke="#000" stroke-width="0.00" fill="#111"/>
<circle cx="522.80" cy="186.30" r="0.55" stroke="#000" stroke-width="0.00" fill="#111"/>
<circle cx="525.00" cy="186.30" r="0.55" stroke="#000" stroke-width="0.00" fill="#111"/>
<rect x="485.00" y="172.50" width="42.20" height="3.60" stroke="#111" stroke-width="0.72" fill="none"/>
<rect x="499.00" y="90.40" width="23.00" height="6.60" stroke="#000" stroke-width="0.00" fill="#1a1a1a"/>
<rect x="501.50" y="91.60" width="4.00" height="2.00" stroke="#000" stroke-width="0.00" fill="#bbb"/>
<rect x="509.00" y="92.20" width="5.00" height="1.60" stroke="#000" stroke-width="0.00" fill="#999"/>
<rect x="516.00" y="91.40" width="3.00" height="3.00" stroke="#000" stroke-width="0.00" fill="#aaa"/>
<rect x="502.80" y="97.00" width="20.70" height="21.50" stroke="#111" stroke-width="0.96" fill="none"/>
<path d="M502.80 116.30L523.50 116.30" stroke="#111" stroke-width="0.72"/>
<rect x="499.40" y="97.50" width="3.00" height="7.00" stroke="#000" stroke-width="0.00" fill="#222"/>
<circle cx="507.20" cy="106.20" r="2.60" stroke="#000" stroke-width="0.00" fill="#111"/>
<circle cx="497.60" cy="111.10" r="2.50" stroke="#000" stroke-width="0.00" fill="#222"/>
<circle cx="497.60" cy="111.10" r="1.00" stroke="#000" stroke-width="0.00" fill="#888"/>
<rect x="500.40" y="116.00" width="2.40" height="3.60" stroke="#000" stroke-width="0.00" fill="#444"/>
<rect x="521.80" y="116.00" width="2.40" height="2.40" stroke="#000" stroke-width="0.00" fill="#444"/>
<circle cx="508.70" cy="128.10" r="2.60" stroke="#111" stroke-width="1.08" fill="#555"/>
<path d="M505 124.5l3 2M512.4 124.5l-3 2" stroke="#111" stroke-width="0.84" fill="none" />
<rect x="500.60" y="139.30" width="25.10" height="31.00" stroke="#111" stroke-width="0.96" fill="none"/>
<rect x="503.60" y="142.50" width="16.40" height="25.00" stroke="#222" stroke-width="0.72" fill="none"/>
<path d="M503.60 160.00L520.00 160.00" stroke="#000" stroke-width="0.60"/>
<path d="M501.80 139.30L501.80 170.30" stroke="#000" stroke-width="0.60"/>
<rect x="519.40" y="141.00" width="4.00" height="7.50" stroke="#111" stroke-width="0.60" fill="none"/>
<rect x="521.00" y="151.40" width="3.60" height="3.00" stroke="#000" stroke-width="0.00" fill="#222"/>
<path d="M523.40 139.30L523.40 170.30" stroke="#333" stroke-width="0.60"/>
<rect x="499.40" y="152.40" width="1.80" height="4.00" stroke="#000" stroke-width="0.00" fill="#222"/>
<circle cx="492.70" cy="153.60" r="3.40" stroke="#111" stroke-width="0.84" fill="none"/>
<circle cx="492.70" cy="153.60" r="1.90" stroke="#111" stroke-width="0.72" fill="none"/>
<circle cx="492.70" cy="153.60" r="0.60" stroke="#000" stroke-width="0.00" fill="#111"/>
<path d="M524.30 86.00L524.30 176.10" stroke="#111" stroke-width="0.72"/>
<path d="M526.50 73.30L526.50 188.80" stroke="#111" stroke-width="0.84"/>
<path d="M525.40 90.00L525.40 172.10" stroke="#333" stroke-width="0.48" stroke-dasharray="0.8 2.2"/>
<rect x="523.60" y="152.00" width="2.60" height="4.60" stroke="#000" stroke-width="0.00" fill="#111"/>
<path d="M680 71.3L686 71.3L692.7 79.0L692.7 181.10000000000002L686 188.8L529.4 188.8" stroke="#111" stroke-width="0.96" fill="none" />
<path d="M529.40 69.50L529.40 188.80" stroke="#111" stroke-width="0.84"/>
<path d="M682 72.3L687.6 79.7L687.6 180.4L682 187.8" stroke="#222" stroke-width="0.60" fill="none" />
<path d="M685.00 86.00L685.00 186.80" stroke="#111" stroke-width="0.60"/>
<path d="M690.20 80.00L690.20 179.80" stroke="#111" stroke-width="1.08" stroke-dasharray="0.9 2.6"/>
<path d="M685.50 73.50L689.50 79.00" stroke="#111" stroke-width="1.08" stroke-dasharray="0.9 2.0"/>
<rect x="683.90" y="92.00" width="3.70" height="76.00" stroke="#000" stroke-width="0.00" fill="#111"/>
<path d="M683.40 92.00L683.40 168.00" stroke="#fff" stroke-width="0.72" stroke-dasharray="1.2 1.6"/>
<path d="M531.3 85.1L531.3 71.6Q532 68.9 536 68.9L676 68.9Q680.2 69.1 680.2 73L680.2 85.1" stroke="#111" stroke-width="0.96" fill="none" />
<path d="M533.00 70.40L678.00 70.40" stroke="#444" stroke-width="0.48"/>
<rect x="592.40" y="68.90" width="3.70" height="16.20" stroke="#111" stroke-width="0.72" fill="#fff"/>
<path d="M594.20 70.00L594.20 84.00" stroke="#555" stroke-width="0.48"/>
<circle cx="579.10" cy="74.80" r="4.60" stroke="#111" stroke-width="0.84" fill="#fff"/>
<text x="579.10" y="74.40" font-size="3.0" text-anchor="middle" font-weight="bold">LG</text>
<text x="579.10" y="77.60" font-size="3.0" text-anchor="middle" font-weight="bold">ST</text>
<path d="M574.70 74.90L583.50 74.90" stroke="#555" stroke-width="0.36"/>
<circle cx="662.50" cy="74.80" r="4.60" stroke="#111" stroke-width="0.84" fill="#fff"/>
<text x="662.50" y="74.40" font-size="3.0" text-anchor="middle" font-weight="bold">LG</text>
<text x="662.50" y="77.60" font-size="3.0" text-anchor="middle" font-weight="bold">ST</text>
<path d="M658.10 74.90L666.90 74.90" stroke="#555" stroke-width="0.36"/>
<path d="M545.00 71.40L556.00 71.40" stroke="#222" stroke-width="1.44"/>
<path d="M571.00 82.20L584.00 82.20" stroke="#222" stroke-width="1.44"/>
<path d="M608.00 71.40L620.00 71.40" stroke="#222" stroke-width="1.44"/>
<path d="M648.00 82.20L659.00 82.20" stroke="#222" stroke-width="1.44"/>
<path d="M531.60 69.60L541.00 69.60L539.00 71.60L534.40 72.60L533.00 77.00L531.60 77.00Z" stroke="#000" stroke-width="0.36" fill="#222"/>
<path d="M679.80 69.60L667.00 69.60L673.00 72.40L677.00 73.40L678.40 80.00L679.80 80.00Z" stroke="#000" stroke-width="0.36" fill="#222"/>
<path d="M529.40 85.10L685.00 85.10" stroke="#111" stroke-width="0.84"/>
<path d="M529.40 88.30L685.00 88.30" stroke="#111" stroke-width="0.72"/>
<path d="M529.40 91.60L685.00 91.60" stroke="#111" stroke-width="0.60"/>
<path d="M529.40 94.00L685.00 94.00" stroke="#111" stroke-width="0.60"/>
<path d="M533.00 90.00L683.00 90.00" stroke="#222" stroke-width="0.72" stroke-dasharray="3.2 2.2"/>
<path d="M532.40 92.00L532.40 172.50" stroke="#111" stroke-width="0.96" stroke-dasharray="3.6 2.4"/>
<path d="M530.60 90.00L530.60 172.00" stroke="#333" stroke-width="0.60"/>
<path d="M529.40 121.50L685.00 121.50" stroke="#111" stroke-width="0.96"/>
<path d="M529.40 123.60L685.00 123.60" stroke="#111" stroke-width="0.48"/>
<path d="M529.40 126.00L685.00 126.00" stroke="#111" stroke-width="0.48"/>
<path d="M529.40 128.10L685.00 128.10" stroke="#111" stroke-width="0.96"/>
<path d="M529.4 121.5q-2 3.3 0 6.6" stroke="#000" stroke-width="0.72" fill="none" />
<rect x="680.50" y="119.50" width="4.50" height="10.60" stroke="#111" stroke-width="0.60" fill="#fff"/>
<rect x="532.40" y="96.30" width="22.20" height="23.00" stroke="#222" stroke-width="0.72" fill="none"/>
<circle cx="552.00" cy="107.90" r="0.70" stroke="#222" stroke-width="0.48" fill="none"/>
<rect x="532.40" y="137.00" width="22.20" height="23.50" stroke="#222" stroke-width="0.72" fill="none"/>
<circle cx="552.00" cy="148.60" r="0.70" stroke="#222" stroke-width="0.48" fill="none"/>
<rect x="565.70" y="94.80" width="97.60" height="25.90" stroke="#222" stroke-width="0.72" fill="none"/>
<path d="M566.80 97.00L569.60 96.40L568.00 102.00Z" stroke="#000" stroke-width="0.36" fill="#222"/>
<path d="M660.00 97.00L662.40 96.40L661.60 103.00Z" stroke="#000" stroke-width="0.36" fill="#222"/>
<path d="M644.30 93.00L644.30 172.50" stroke="#111" stroke-width="0.84" stroke-dasharray="3.6 2.4"/>
<path d="M677.50 93.00L677.50 172.50" stroke="#111" stroke-width="0.84" stroke-dasharray="3.6 2.4"/>
<path d="M533.00 172.50L683.00 172.50" stroke="#111" stroke-width="0.96" stroke-dasharray="3.6 2.4"/>
<path d="M529.40 174.30L685.00 174.30" stroke="#111" stroke-width="0.72"/>
<path d="M529.40 176.30L685.00 176.30" stroke="#111" stroke-width="0.60"/>
<path d="M531.00 175.30L683.00 175.30" stroke="#222" stroke-width="0.60" stroke-dasharray="0.8 2.6"/>
<path d="M531.00 86.70L683.00 86.70" stroke="#222" stroke-width="0.72" stroke-dasharray="0.8 2.6"/>
<path d="M531.3 176.3L531.3 184.5Q531.6 186.8 535 187L676 187Q680 186.8 680 183L680 176.3" stroke="#222" stroke-width="0.72" fill="none" />
<path d="M534.00 178.60L548.00 178.60" stroke="#222" stroke-width="1.20"/>
<path d="M664.00 178.60L678.00 178.60" stroke="#222" stroke-width="1.20"/>
<path d="M537.5 189.4Q570 191.6 605 191.4Q640 191.6 672.5 189.4" stroke="#333" stroke-width="0.72" fill="none" />
<path d="M568 190.6L628 190.6" stroke="#666" stroke-width="0.60" fill="none" />
<path d="M526.80 203.00L583.00 203.00" stroke="#000" stroke-width="0.60"/>
<path d="M617.00 203.00L673.00 203.00" stroke="#000" stroke-width="0.60"/>
<text x="586.47" y="204.51" font-size="4.2" font-weight="bold" textLength="27.06" lengthAdjust="spacingAndGlyphs">124 HOSEBED</text>
<path d="M526.80 203.00L529.00 202.55L529.00 203.45Z" stroke="#000" stroke-width="0.24" fill="#000"/>
<path d="M673.00 203.00L670.80 202.55L670.80 203.45Z" stroke="#000" stroke-width="0.24" fill="#000"/>
<path d="M526.80 190.00L526.80 206.00" stroke="#000" stroke-width="0.60"/>
<path d="M673.00 190.00L673.00 206.00" stroke="#000" stroke-width="0.60"/>
<path d="M688.50 71.50L709.00 71.50" stroke="#000" stroke-width="0.60"/>
<path d="M690.00 188.80L709.00 188.80" stroke="#000" stroke-width="0.60"/>
<path d="M706.30 71.50L706.30 126.50" stroke="#000" stroke-width="0.60"/>
<path d="M706.30 133.50L706.30 188.80" stroke="#000" stroke-width="0.60"/>
<text x="702.72" y="131.51" font-size="4.2" font-weight="bold" textLength="7.16" lengthAdjust="spacingAndGlyphs">100</text>
<path d="M706.30 71.50L705.85 73.70L706.75 73.70Z" stroke="#000" stroke-width="0.24" fill="#000"/>
<path d="M706.30 188.80L705.85 186.60L706.75 186.60Z" stroke="#000" stroke-width="0.24" fill="#000"/>
<text x="421.99" y="40.94" font-size="4.0" font-weight="bold" textLength="30.51" lengthAdjust="spacingAndGlyphs">PORTABLE PUMP</text>
<text x="438.57" y="45.64" font-size="4.0" font-weight="bold" textLength="13.93" lengthAdjust="spacingAndGlyphs">DARLEY</text>
<text x="410.15" y="50.34" font-size="4.0" font-weight="bold" textLength="42.35" lengthAdjust="spacingAndGlyphs">MODEL 1-1/2AGE 24K</text>
<path d="M454.00 39.50L458.00 39.50L500.00 92.50" stroke="#000" stroke-width="0.60" fill="none"/>
<text x="466.99" y="40.94" font-size="4.0" font-weight="bold" textLength="30.51" lengthAdjust="spacingAndGlyphs">STEP HOSEWELL</text>
<text x="478.84" y="45.59" font-size="4.0" font-weight="bold" textLength="18.66" lengthAdjust="spacingAndGlyphs">FLOATING</text>
<text x="474.10" y="50.24" font-size="4.0" font-weight="bold" textLength="23.40" lengthAdjust="spacingAndGlyphs">w/2 STRAPS</text>
<text x="481.21" y="54.89" font-size="4.0" font-weight="bold" textLength="16.29" lengthAdjust="spacingAndGlyphs">(QTY 2)</text>
<path d="M499.00 39.50L501.30 39.50L515.00 78.80" stroke="#000" stroke-width="0.60" fill="none"/>
<text x="555.00" y="42.24" font-size="4.0" font-weight="bold" textLength="21.03" lengthAdjust="spacingAndGlyphs">FOAM CELL</text>
<text x="555.00" y="46.74" font-size="4.0" font-weight="bold" textLength="21.03" lengthAdjust="spacingAndGlyphs">30 GALLON</text>
<path d="M553.60 40.80L551.30 40.80L535.00 113.80" stroke="#000" stroke-width="0.60" fill="none"/>
<text x="584.50" y="42.24" font-size="4.0" font-weight="bold" textLength="21.03" lengthAdjust="spacingAndGlyphs">EQUIPMENT</text>
<text x="584.50" y="46.74" font-size="4.0" font-weight="bold" textLength="16.29" lengthAdjust="spacingAndGlyphs">STORAGE</text>
<path d="M583.00 40.80L579.30 40.80L565.00 78.00" stroke="#000" stroke-width="0.60" fill="none"/>
<text x="657.50" y="42.24" font-size="4.0" font-weight="bold" textLength="13.93" lengthAdjust="spacingAndGlyphs">OUT OF</text>
<text x="657.50" y="46.74" font-size="4.0" font-weight="bold" textLength="13.93" lengthAdjust="spacingAndGlyphs">COUNTY</text>
<text x="657.50" y="51.24" font-size="4.0" font-weight="bold" textLength="16.29" lengthAdjust="spacingAndGlyphs">STORAGE</text>
<path d="M656.00 40.80L651.30 40.80L637.50 73.30" stroke="#000" stroke-width="0.60" fill="none"/>
<text x="730.80" y="41.44" font-size="4.0" font-weight="bold" textLength="30.51" lengthAdjust="spacingAndGlyphs">HOSEBED COVER</text>
<text x="730.80" y="45.94" font-size="4.0" font-weight="bold" textLength="44.72" lengthAdjust="spacingAndGlyphs">ALUMINUM TREADPLATE</text>
<text x="730.80" y="50.44" font-size="4.0" font-weight="bold" textLength="39.98" lengthAdjust="spacingAndGlyphs">w/VINYL END FLAPS</text>
<text x="730.80" y="54.94" font-size="4.0" font-weight="bold" textLength="32.87" lengthAdjust="spacingAndGlyphs">MIDNIGHT BLACK</text>
<path d="M729.50 40.00L725.00 40.00L667.50 98.00" stroke="#000" stroke-width="0.60" fill="none"/>
<text x="267.59" y="93.19" font-size="4.15" font-weight="bold" textLength="34.11" lengthAdjust="spacingAndGlyphs">FRONT JUMPLINE</text>
<text x="267.59" y="98.19" font-size="4.15" font-weight="bold" textLength="34.11" lengthAdjust="spacingAndGlyphs">1.5" DISCHARGE</text>
<text x="270.05" y="103.19" font-size="4.15" font-weight="bold" textLength="31.65" lengthAdjust="spacingAndGlyphs">w/2" PLUMBING</text>
<path d="M303.00 91.70L308.00 91.70L316.00 98.00L320.50 105.00" stroke="#000" stroke-width="0.60" fill="none"/>
<text x="287.25" y="115.99" font-size="4.15" font-weight="bold" textLength="14.45" lengthAdjust="spacingAndGlyphs">BUMPER</text>
<text x="282.34" y="120.89" font-size="4.15" font-weight="bold" textLength="19.36" lengthAdjust="spacingAndGlyphs">HOSEWELL</text>
<text x="274.97" y="125.79" font-size="4.15" font-weight="bold" textLength="26.73" lengthAdjust="spacingAndGlyphs">w/ATP COVER</text>
<path d="M303.00 114.00L308.00 114.00L314.00 119.00L320.00 127.00" stroke="#000" stroke-width="0.60" fill="none"/>
<text x="400.84" y="204.74" font-size="4.0" font-weight="bold" textLength="18.66" lengthAdjust="spacingAndGlyphs">DECK GUN</text>
<text x="400.84" y="209.24" font-size="4.0" font-weight="bold" textLength="18.66" lengthAdjust="spacingAndGlyphs">w/3" NPT</text>
<text x="393.73" y="213.74" font-size="4.0" font-weight="bold" textLength="25.77" lengthAdjust="spacingAndGlyphs">TERMINATION</text>
<path d="M421.00 203.30L423.80 203.30L460.00 182.00L490.00 156.30" stroke="#000" stroke-width="0.60" fill="none"/>
<text x="438.82" y="204.74" font-size="4.0" font-weight="bold" textLength="39.98" lengthAdjust="spacingAndGlyphs">BOOSTER HOSE REEL</text>
<text x="464.87" y="209.24" font-size="4.0" font-weight="bold" textLength="13.93" lengthAdjust="spacingAndGlyphs">HANNAY</text>
<text x="431.72" y="213.74" font-size="4.0" font-weight="bold" textLength="47.08" lengthAdjust="spacingAndGlyphs">MODEL SBEEPF24-28-29</text>
<path d="M480.00 203.30L483.80 203.30L512.00 161.30" stroke="#000" stroke-width="0.60" fill="none"/>
<text x="490.20" y="204.74" font-size="4.0" font-weight="bold" textLength="23.40" lengthAdjust="spacingAndGlyphs">WATER TANK</text>
<text x="490.20" y="209.24" font-size="4.0" font-weight="bold" textLength="23.40" lengthAdjust="spacingAndGlyphs">FILL TOWER</text>
<path d="M515.00 203.30L520.00 203.30L538.80 146.30" stroke="#000" stroke-width="0.60" fill="none"/>
<text x="696.80" y="204.44" font-size="4.0" font-weight="bold" textLength="30.51" lengthAdjust="spacingAndGlyphs">STOKES BASKET</text>
<text x="696.80" y="208.94" font-size="4.0" font-weight="bold" textLength="30.51" lengthAdjust="spacingAndGlyphs">AND BACKBOARD</text>
<text x="696.80" y="213.44" font-size="4.0" font-weight="bold" textLength="25.77" lengthAdjust="spacingAndGlyphs">STORAGE BOX</text>
<path d="M695.40 203.00L692.50 203.00L603.80 108.80" stroke="#000" stroke-width="0.60" fill="none"/>
</g>
<g id="ladder">
<rect x="864.30" y="76.00" width="106.00" height="45.80" stroke="#222" stroke-width="0.84" fill="none"/>
<rect x="866.20" y="77.80" width="70.00" height="17.00" stroke="#222" stroke-width="0.72" fill="none"/>
<rect x="866.20" y="97.20" width="80.40" height="22.40" stroke="#222" stroke-width="0.72" fill="none"/>
<rect x="948.00" y="97.20" width="20.00" height="22.40" stroke="#222" stroke-width="0.72" fill="none"/>
<rect x="937.60" y="77.80" width="30.60" height="17.40" stroke="#222" stroke-width="0.72" fill="none"/>
<path d="M937.60 86.20L968.20 86.20" stroke="#222" stroke-width="0.60"/>
<circle cx="947.30" cy="81.50" r="3.50" stroke="#222" stroke-width="0.84" fill="none"/>
<circle cx="958.60" cy="81.50" r="3.50" stroke="#222" stroke-width="0.84" fill="none"/>
<circle cx="942.00" cy="91.20" r="3.50" stroke="#222" stroke-width="0.84" fill="none"/>
<circle cx="952.80" cy="91.20" r="3.50" stroke="#222" stroke-width="0.84" fill="none"/>
<circle cx="963.60" cy="91.20" r="3.50" stroke="#222" stroke-width="0.84" fill="none"/>
<path d="M866.20 95.60L936.20 95.60" stroke="#555" stroke-width="0.48"/>
<text x="910.60" y="133.20" font-size="7.2" text-anchor="middle" textLength="42.00" lengthAdjust="spacingAndGlyphs" fill="#222">THRU-TANK</text>
<path d="M889.40 134.50L931.80 134.50" stroke="#222" stroke-width="0.60"/>
<text x="910.30" y="141.80" font-size="7.2" text-anchor="middle" textLength="63.50" lengthAdjust="spacingAndGlyphs" fill="#222">LADDER STORAGE</text>
<path d="M878.40 143.20L942.20 143.20" stroke="#222" stroke-width="0.60"/>
<text x="981.20" y="67.94" font-size="4.0" font-weight="bold" textLength="23.40" lengthAdjust="spacingAndGlyphs">PIKE POLES</text>
<text x="981.20" y="72.24" font-size="4.0" font-weight="bold" textLength="16.29" lengthAdjust="spacingAndGlyphs">STORAGE</text>
<text x="981.20" y="76.54" font-size="4.0" font-weight="bold" textLength="16.29" lengthAdjust="spacingAndGlyphs">(QTY 5)</text>
<path d="M979.80 66.50L974.50 66.50L958.60 81.50" stroke="#000" stroke-width="0.60" fill="none"/>
</g>
<g id="front">
<path d="M112.10 243.40L167.70 243.40" stroke="#000" stroke-width="0.60"/>
<path d="M198.70 243.40L254.30 243.40" stroke="#000" stroke-width="0.60"/>
<text x="167.98" y="244.91" font-size="4.2" font-weight="bold" textLength="30.45" lengthAdjust="spacingAndGlyphs">121" [10'-1"]</text>
<path d="M112.10 243.40L114.30 242.95L114.30 243.85Z" stroke="#000" stroke-width="0.24" fill="#000"/>
<path d="M254.30 243.40L252.10 242.95L252.10 243.85Z" stroke="#000" stroke-width="0.24" fill="#000"/>
<path d="M126.50 255.40L178.70 255.40" stroke="#000" stroke-width="0.60"/>
<path d="M187.70 255.40L239.80 255.40" stroke="#000" stroke-width="0.60"/>
<text x="179.62" y="256.91" font-size="4.2" font-weight="bold" textLength="7.16" lengthAdjust="spacingAndGlyphs">96"</text>
<path d="M126.50 255.40L128.70 254.95L128.70 255.85Z" stroke="#000" stroke-width="0.24" fill="#000"/>
<path d="M239.80 255.40L237.60 254.95L237.60 255.85Z" stroke="#000" stroke-width="0.24" fill="#000"/>
<path d="M112.10 240.60L112.10 289.80" stroke="#000" stroke-width="0.60"/>
<path d="M254.30 240.60L254.30 289.80" stroke="#000" stroke-width="0.60"/>
<path d="M126.50 252.60L126.50 279.40" stroke="#000" stroke-width="0.60"/>
<path d="M239.80 252.60L239.80 279.40" stroke="#000" stroke-width="0.60"/>
<rect x="153.10" y="268.30" width="54.40" height="5.50" stroke="#222" stroke-width="0.72" fill="none"/>
<path d="M165.00 270.60L165.00 272.20" stroke="#444" stroke-width="0.60"/>
<path d="M176.50 270.60L176.50 272.20" stroke="#444" stroke-width="0.60"/>
<path d="M188.00 270.60L188.00 272.20" stroke="#444" stroke-width="0.60"/>
<path d="M199.50 270.60L199.50 272.20" stroke="#444" stroke-width="0.60"/>
<path d="M158 268.3q6-1.6 12 0M172 268.3q6-1.6 12 0M186 268.3q6-1.6 12 0" stroke="#555" stroke-width="0.48" fill="none" />
<path d="M139 279.1L141.6 274.7L224 274.7L226.6 279.1Z" stroke="#111" stroke-width="0.48" fill="#0d0d0d" />
<path d="M141.50 273.80L224.00 273.80" stroke="#444" stroke-width="0.48"/>
<path d="M126.9 286.9L126.9 281.4L129 279.4L237.4 279.4L239.5 281.4L239.5 286.9" stroke="#111" stroke-width="0.84" fill="none" />
<circle cx="144.30" cy="283.10" r="0.75" stroke="#000" stroke-width="0.00" fill="#111"/>
<circle cx="166.50" cy="283.10" r="0.75" stroke="#000" stroke-width="0.00" fill="#111"/>
<circle cx="182.80" cy="283.10" r="0.75" stroke="#000" stroke-width="0.00" fill="#111"/>
<circle cx="199.50" cy="283.10" r="0.75" stroke="#000" stroke-width="0.00" fill="#111"/>
<circle cx="222.00" cy="283.10" r="0.75" stroke="#000" stroke-width="0.00" fill="#111"/>
<path d="M114.60 286.90L251.80 286.90" stroke="#111" stroke-width="0.84"/>
<path d="M124.30 283.90L124.30 287.00" stroke="#000" stroke-width="0.60"/>
<path d="M242.10 283.90L242.10 287.00" stroke="#000" stroke-width="0.60"/>
<path d="M124.30 283.90L127.00 283.90" stroke="#000" stroke-width="0.60"/>
<path d="M239.50 283.90L242.10 283.90" stroke="#000" stroke-width="0.60"/>
<rect x="127.20" y="287.10" width="54.80" height="40.50" stroke="#111" stroke-width="1.08" fill="none" rx="3"/>
<rect x="184.30" y="287.10" width="54.80" height="40.50" stroke="#111" stroke-width="1.08" fill="none" rx="3"/>
<ellipse cx="136.30" cy="296.20" rx="1.60" ry="4.20" stroke="#222" stroke-width="0.36" fill="#4a4a4a" transform="rotate(-38 136.30 296.20)"/>
<ellipse cx="230.10" cy="296.20" rx="1.60" ry="4.20" stroke="#222" stroke-width="0.36" fill="#4a4a4a" transform="rotate(38 230.10 296.20)"/>
<path d="M171.70 294.30L171.70 322.40" stroke="#111" stroke-width="0.72"/>
<path d="M194.60 294.30L194.60 322.40" stroke="#111" stroke-width="0.72"/>
<path d="M172.20 308.30L151.60 336.40" stroke="#111" stroke-width="1.80"/>
<path d="M194.10 308.30L214.80 336.40" stroke="#111" stroke-width="1.80"/>
<path d="M125.70 287.00L125.70 362.40" stroke="#111" stroke-width="0.84"/>
<path d="M240.70 287.00L240.70 362.40" stroke="#111" stroke-width="0.84"/>
<path d="M126.80 328.00L126.80 362.00" stroke="#555" stroke-width="0.48"/>
<path d="M239.60 328.00L239.60 362.00" stroke="#555" stroke-width="0.48"/>
<path d="M125.70 328.60L240.70 328.60" stroke="#111" stroke-width="0.84"/>
<path d="M127 328.6L173 328.6Q178 328.6 183.2 331.4Q188.4 328.6 193.4 328.6L239.4 328.6" stroke="#444" stroke-width="0.48" fill="none" />
<rect x="111.20" y="293.10" width="9.40" height="21.60" stroke="#111" stroke-width="1.20" fill="none" rx="2.2"/>
<rect x="112.40" y="294.40" width="7.00" height="19.00" stroke="#333" stroke-width="0.60" fill="none" rx="1.6"/>
<rect x="111.60" y="315.00" width="8.60" height="9.00" stroke="#111" stroke-width="1.20" fill="none" rx="2.2"/>
<circle cx="116.10" cy="303.10" r="1.40" stroke="#000" stroke-width="0.00" fill="#111"/>
<circle cx="116.10" cy="319.20" r="1.50" stroke="#000" stroke-width="0.00" fill="#111"/>
<path d="M113.00 303.10L119.00 303.10" stroke="#333" stroke-width="0.60"/>
<rect x="122.30" y="303.90" width="1.90" height="27.40" stroke="#111" stroke-width="0.48" fill="#222"/>
<path d="M114.6 286.9L114.6 293M116.0 324L116.0 329.5L122.0 329.5" stroke="#111" stroke-width="0.72" fill="none" />
<path d="M120.60 304.60L125.70 303.40" stroke="#111" stroke-width="0.72"/>
<path d="M124.20 331.30L124.20 335.50" stroke="#000" stroke-width="0.60"/>
<rect x="245.80" y="293.10" width="9.40" height="21.60" stroke="#111" stroke-width="1.20" fill="none" rx="2.2"/>
<rect x="247.00" y="294.40" width="7.00" height="19.00" stroke="#333" stroke-width="0.60" fill="none" rx="1.6"/>
<rect x="246.20" y="315.00" width="8.60" height="9.00" stroke="#111" stroke-width="1.20" fill="none" rx="2.2"/>
<circle cx="250.30" cy="303.10" r="1.40" stroke="#000" stroke-width="0.00" fill="#111"/>
<circle cx="250.30" cy="319.20" r="1.50" stroke="#000" stroke-width="0.00" fill="#111"/>
<path d="M253.40 303.10L247.40 303.10" stroke="#333" stroke-width="0.60"/>
<rect x="242.20" y="303.90" width="1.90" height="27.40" stroke="#111" stroke-width="0.48" fill="#222"/>
<path d="M251.79999999999998 286.9L251.79999999999998 293M250.39999999999998 324L250.39999999999998 329.5L244.39999999999998 329.5" stroke="#111" stroke-width="0.72" fill="none" />
<path d="M245.80 304.60L240.70 303.40" stroke="#111" stroke-width="0.72"/>
<path d="M242.20 331.30L242.20 335.50" stroke="#000" stroke-width="0.60"/>
<path d="M159.1 361.7L159.1 340Q159.1 334.6 164.4 334.2L181.6 333.4L183.2 335L184.8 333.4L202.6 334.2Q208 334.6 208 340L208 361.7" stroke="#111" stroke-width="1.08" fill="none" />
<path d="M160.8 361.7L160.8 340.4Q160.8 336.2 165 335.9L201.8 335.9Q206.3 336.2 206.3 340.4L206.3 361.7" stroke="#444" stroke-width="0.48" fill="none" />
<path d="M162.40 337.40L203.90 337.40" stroke="#1a1a1a" stroke-width="1.56"/>
<path d="M162.40 341.10L203.90 341.10" stroke="#1a1a1a" stroke-width="1.56"/>
<path d="M162.40 344.80L203.90 344.80" stroke="#1a1a1a" stroke-width="1.56"/>
<path d="M162.40 348.50L203.90 348.50" stroke="#1a1a1a" stroke-width="1.56"/>
<path d="M162.40 352.20L203.90 352.20" stroke="#1a1a1a" stroke-width="1.56"/>
<path d="M162.40 355.90L203.90 355.90" stroke="#1a1a1a" stroke-width="1.56"/>
<path d="M162.40 359.60L203.90 359.60" stroke="#1a1a1a" stroke-width="1.56"/>
<path d="M169.70 335.80L169.70 361.40" stroke="#111" stroke-width="1.56"/>
<path d="M196.10 335.80L196.10 361.40" stroke="#111" stroke-width="1.56"/>
<path d="M180.6 335.6L183.2 339.6L185.8 335.6" stroke="#111" stroke-width="0.96" fill="none" />
<path d="M183.20 339.60L183.20 361.40" stroke="#111" stroke-width="1.20"/>
<rect x="139.80" y="342.40" width="8.50" height="7.20" stroke="#111" stroke-width="1.20" fill="none" rx="0.5"/>
<rect x="139.80" y="351.40" width="8.50" height="7.00" stroke="#111" stroke-width="1.20" fill="none" rx="0.5"/>
<rect x="149.40" y="342.40" width="8.20" height="7.20" stroke="#111" stroke-width="1.20" fill="none" rx="0.5"/>
<rect x="149.40" y="351.40" width="8.20" height="7.00" stroke="#111" stroke-width="1.20" fill="none" rx="0.5"/>
<rect x="129.00" y="352.00" width="8.90" height="6.40" stroke="#111" stroke-width="1.08" fill="none" rx="1.4"/>
<rect x="218.10" y="342.40" width="8.50" height="7.20" stroke="#111" stroke-width="1.20" fill="none" rx="0.5"/>
<rect x="218.10" y="351.40" width="8.50" height="7.00" stroke="#111" stroke-width="1.20" fill="none" rx="0.5"/>
<rect x="208.80" y="342.40" width="8.20" height="7.20" stroke="#111" stroke-width="1.20" fill="none" rx="0.5"/>
<rect x="208.80" y="351.40" width="8.20" height="7.00" stroke="#111" stroke-width="1.20" fill="none" rx="0.5"/>
<rect x="228.50" y="352.00" width="8.90" height="6.40" stroke="#111" stroke-width="1.08" fill="none" rx="1.4"/>
<path d="M125.00 362.40L241.40 362.40" stroke="#111" stroke-width="0.96"/>
<path d="M125 362.4L125 372L241.4 372L241.4 362.4" stroke="#111" stroke-width="0.96" fill="none" />
<rect x="137.90" y="363.90" width="7.10" height="6.70" stroke="#111" stroke-width="0.48" fill="#333"/>
<path d="M138.00 365.00L145.00 365.00" stroke="#000" stroke-width="0.60"/>
<path d="M138.00 366.50L145.00 366.50" stroke="#000" stroke-width="0.60"/>
<path d="M138.00 368.00L145.00 368.00" stroke="#000" stroke-width="0.60"/>
<path d="M138.00 369.50L145.00 369.50" stroke="#000" stroke-width="0.60"/>
<rect x="164.00" y="364.60" width="8.00" height="5.20" stroke="#111" stroke-width="0.96" fill="#ddd"/>
<rect x="165.60" y="365.80" width="4.80" height="2.80" stroke="#000" stroke-width="0.00" fill="#444"/>
<rect x="193.60" y="364.60" width="8.40" height="5.20" stroke="#111" stroke-width="0.96" fill="#ddd"/>
<rect x="195.20" y="365.80" width="5.20" height="2.80" stroke="#000" stroke-width="0.00" fill="#444"/>
<rect x="176.10" y="364.30" width="13.60" height="5.80" stroke="#111" stroke-width="1.08" fill="none"/>
<rect x="178.60" y="365.80" width="8.60" height="2.80" stroke="#000" stroke-width="0.00" fill="#444"/>
<circle cx="209.10" cy="367.10" r="3.20" stroke="#111" stroke-width="1.32" fill="none"/>
<circle cx="209.10" cy="367.10" r="1.30" stroke="#000" stroke-width="0.00" fill="#222"/>
<rect x="215.40" y="363.60" width="8.10" height="7.40" stroke="#111" stroke-width="0.72" fill="#333"/>
<circle cx="219.40" cy="367.00" r="1.80" stroke="#ddd" stroke-width="0.60" fill="#888"/>
<circle cx="160.40" cy="363.80" r="0.50" stroke="#000" stroke-width="0.00" fill="#111"/>
<circle cx="160.40" cy="370.60" r="0.50" stroke="#000" stroke-width="0.00" fill="#111"/>
<path d="M148 372L152 376.6L168 376.6L172.4 381.7L193.9 381.7L198.4 376.6L214 376.6L217.6 372" stroke="#222" stroke-width="0.84" fill="none" />
<path d="M150 374.4L216 374.4M172.4 378L193.9 378" stroke="#333" stroke-width="0.60" fill="none" />
<path d="M165.60 372.00L165.60 377.00" stroke="#222" stroke-width="0.72"/>
<path d="M172.60 372.00L172.60 377.00" stroke="#222" stroke-width="0.72"/>
<path d="M193.60 372.00L193.60 377.00" stroke="#222" stroke-width="0.72"/>
<path d="M200.60 372.00L200.60 377.00" stroke="#222" stroke-width="0.72"/>
<path d="M146 376q6 3 14 0M206 376q8 3 14 0" stroke="#333" stroke-width="0.72" fill="none" />
<rect x="126.50" y="373.20" width="31.50" height="25.30" stroke="#222" stroke-width="0.48" fill="#555"/>
<path d="M126.50 374.40L158.00 374.40" stroke="#000" stroke-width="0.84"/>
<path d="M126.50 376.50L158.00 376.50" stroke="#000" stroke-width="0.84"/>
<path d="M126.50 378.60L158.00 378.60" stroke="#000" stroke-width="0.84"/>
<path d="M126.50 380.70L158.00 380.70" stroke="#000" stroke-width="0.84"/>
<path d="M126.50 382.80L158.00 382.80" stroke="#000" stroke-width="0.84"/>
<path d="M126.50 384.90L158.00 384.90" stroke="#000" stroke-width="0.84"/>
<path d="M126.50 387.00L158.00 387.00" stroke="#000" stroke-width="0.84"/>
<path d="M126.50 389.10L158.00 389.10" stroke="#000" stroke-width="0.84"/>
<path d="M126.50 391.20L158.00 391.20" stroke="#000" stroke-width="0.84"/>
<path d="M126.50 393.30L158.00 393.30" stroke="#000" stroke-width="0.84"/>
<path d="M126.50 395.40L158.00 395.40" stroke="#000" stroke-width="0.84"/>
<path d="M126.50 397.50L158.00 397.50" stroke="#000" stroke-width="0.84"/>
<path d="M128.00 373.20L128.00 398.50" stroke="#999" stroke-width="0.60"/>
<path d="M131.10 373.20L131.10 398.50" stroke="#999" stroke-width="0.60"/>
<path d="M134.20 373.20L134.20 398.50" stroke="#999" stroke-width="0.60"/>
<path d="M137.30 373.20L137.30 398.50" stroke="#999" stroke-width="0.60"/>
<path d="M140.40 373.20L140.40 398.50" stroke="#999" stroke-width="0.60"/>
<path d="M143.50 373.20L143.50 398.50" stroke="#999" stroke-width="0.60"/>
<path d="M146.60 373.20L146.60 398.50" stroke="#999" stroke-width="0.60"/>
<path d="M149.70 373.20L149.70 398.50" stroke="#999" stroke-width="0.60"/>
<path d="M152.80 373.20L152.80 398.50" stroke="#999" stroke-width="0.60"/>
<path d="M155.90 373.20L155.90 398.50" stroke="#999" stroke-width="0.60"/>
<rect x="139.90" y="376.70" width="3.50" height="22.30" stroke="#000" stroke-width="0.00" fill="#fff"/>
<path d="M141.50 379.20L141.50 397.50" stroke="#999" stroke-width="0.60"/>
<rect x="208.40" y="373.20" width="31.50" height="25.30" stroke="#222" stroke-width="0.48" fill="#555"/>
<path d="M208.40 374.40L239.90 374.40" stroke="#000" stroke-width="0.84"/>
<path d="M208.40 376.50L239.90 376.50" stroke="#000" stroke-width="0.84"/>
<path d="M208.40 378.60L239.90 378.60" stroke="#000" stroke-width="0.84"/>
<path d="M208.40 380.70L239.90 380.70" stroke="#000" stroke-width="0.84"/>
<path d="M208.40 382.80L239.90 382.80" stroke="#000" stroke-width="0.84"/>
<path d="M208.40 384.90L239.90 384.90" stroke="#000" stroke-width="0.84"/>
<path d="M208.40 387.00L239.90 387.00" stroke="#000" stroke-width="0.84"/>
<path d="M208.40 389.10L239.90 389.10" stroke="#000" stroke-width="0.84"/>
<path d="M208.40 391.20L239.90 391.20" stroke="#000" stroke-width="0.84"/>
<path d="M208.40 393.30L239.90 393.30" stroke="#000" stroke-width="0.84"/>
<path d="M208.40 395.40L239.90 395.40" stroke="#000" stroke-width="0.84"/>
<path d="M208.40 397.50L239.90 397.50" stroke="#000" stroke-width="0.84"/>
<path d="M209.90 373.20L209.90 398.50" stroke="#999" stroke-width="0.60"/>
<path d="M213.00 373.20L213.00 398.50" stroke="#999" stroke-width="0.60"/>
<path d="M216.10 373.20L216.10 398.50" stroke="#999" stroke-width="0.60"/>
<path d="M219.20 373.20L219.20 398.50" stroke="#999" stroke-width="0.60"/>
<path d="M222.30 373.20L222.30 398.50" stroke="#999" stroke-width="0.60"/>
<path d="M225.40 373.20L225.40 398.50" stroke="#999" stroke-width="0.60"/>
<path d="M228.50 373.20L228.50 398.50" stroke="#999" stroke-width="0.60"/>
<path d="M231.60 373.20L231.60 398.50" stroke="#999" stroke-width="0.60"/>
<path d="M234.70 373.20L234.70 398.50" stroke="#999" stroke-width="0.60"/>
<path d="M237.80 373.20L237.80 398.50" stroke="#999" stroke-width="0.60"/>
<rect x="222.80" y="376.70" width="3.50" height="22.30" stroke="#000" stroke-width="0.00" fill="#fff"/>
<path d="M224.40 379.20L224.40 397.50" stroke="#999" stroke-width="0.60"/>
<text x="77.10" y="264.74" font-size="4.0" font-weight="bold" textLength="23.40" lengthAdjust="spacingAndGlyphs">BROW LIGHT</text>
<text x="79.47" y="269.74" font-size="4.0" font-weight="bold" textLength="21.03" lengthAdjust="spacingAndGlyphs">HiViz LED</text>
<path d="M102.00 263.30L105.50 263.30L167.50 275.50" stroke="#000" stroke-width="0.60" fill="none"/>
<text x="67.63" y="333.44" font-size="4.0" font-weight="bold" textLength="32.87" lengthAdjust="spacingAndGlyphs">WARNING LIGHTS</text>
<text x="77.10" y="338.24" font-size="4.0" font-weight="bold" textLength="23.40" lengthAdjust="spacingAndGlyphs">WHELEN LED</text>
<text x="84.21" y="343.04" font-size="4.0" font-weight="bold" textLength="16.29" lengthAdjust="spacingAndGlyphs">(QTY 4)</text>
<path d="M102.00 332.00L105.50 332.00L139.50 344.50" stroke="#000" stroke-width="0.60" fill="none"/>
<text x="72.36" y="363.44" font-size="4.0" font-weight="bold" textLength="28.14" lengthAdjust="spacingAndGlyphs">TURN SIGNALS</text>
<text x="77.10" y="368.24" font-size="4.0" font-weight="bold" textLength="23.40" lengthAdjust="spacingAndGlyphs">WHELEN LED</text>
<text x="84.21" y="373.04" font-size="4.0" font-weight="bold" textLength="16.29" lengthAdjust="spacingAndGlyphs">(QTY 2)</text>
<path d="M102.00 362.00L105.50 362.00L118.00 359.50L128.80 355.00" stroke="#000" stroke-width="0.60" fill="none"/>
<text x="62.89" y="386.94" font-size="4.0" font-weight="bold" textLength="37.61" lengthAdjust="spacingAndGlyphs">MECHANICAL SIREN</text>
<text x="67.63" y="391.74" font-size="4.0" font-weight="bold" textLength="32.87" lengthAdjust="spacingAndGlyphs">FEDERAL SIGNAL</text>
<text x="93.68" y="396.54" font-size="4.0" font-weight="bold" textLength="6.82" lengthAdjust="spacingAndGlyphs">Q2B</text>
<path d="M102.00 385.50L106.00 385.50L122.00 377.00L137.50 367.50" stroke="#000" stroke-width="0.60" fill="none"/>
<text x="77.10" y="405.94" font-size="4.0" font-weight="bold" textLength="23.40" lengthAdjust="spacingAndGlyphs">FOG LIGHTS</text>
<text x="77.10" y="410.74" font-size="4.0" font-weight="bold" textLength="23.40" lengthAdjust="spacingAndGlyphs">PERLUX LED</text>
<path d="M102.00 404.50L106.00 404.50L126.30 392.50" stroke="#000" stroke-width="0.60" fill="none"/>
<text x="176.34" y="413.74" font-size="4.0" font-weight="bold" textLength="18.66" lengthAdjust="spacingAndGlyphs">AIR HORN</text>
<text x="166.86" y="418.44" font-size="4.0" font-weight="bold" textLength="28.14" lengthAdjust="spacingAndGlyphs">STUTTER TONE</text>
<path d="M196.50 412.30L201.30 412.30L208.70 370.60" stroke="#000" stroke-width="0.60" fill="none"/>
<text x="221.30" y="413.74" font-size="4.0" font-weight="bold" textLength="30.51" lengthAdjust="spacingAndGlyphs">SIREN SPEAKER</text>
<text x="221.30" y="418.44" font-size="4.0" font-weight="bold" textLength="30.51" lengthAdjust="spacingAndGlyphs">CAST PRODUCTS</text>
<path d="M220.00 412.30L215.40 412.30L218.30 371.00" stroke="#000" stroke-width="0.60" fill="none"/>
</g>
<g id="rear">
<defs><clipPath id="rc1"><rect x="886.3" y="325.6" width="55.6" height="38.5"/></clipPath><clipPath id="rc2"><path d="M861 301.4H886.3V364.1H861ZM941.9 301.4H968V364.1H941.9Z"/></clipPath></defs>
<path d="M871.80 229.10L899.40 229.10" stroke="#000" stroke-width="0.60"/>
<path d="M929.40 229.10L956.70 229.10" stroke="#000" stroke-width="0.60"/>
<text x="902.12" y="230.61" font-size="4.2" font-weight="bold" textLength="24.57" lengthAdjust="spacingAndGlyphs">72 HOSEBED</text>
<path d="M871.80 229.10L874.00 228.65L874.00 229.55Z" stroke="#000" stroke-width="0.24" fill="#000"/>
<path d="M956.70 229.10L954.50 228.65L954.50 229.55Z" stroke="#000" stroke-width="0.24" fill="#000"/>
<path d="M871.80 224.60L871.80 266.10" stroke="#000" stroke-width="0.60"/>
<path d="M956.70 224.60L956.70 298.00" stroke="#000" stroke-width="0.60"/>
<path d="M837.50 267.50L872.00 267.50" stroke="#000" stroke-width="0.60"/>
<path d="M837.50 298.00L870.00 298.00" stroke="#000" stroke-width="0.60"/>
<path d="M837.50 363.80L857.00 363.80" stroke="#000" stroke-width="0.60"/>
<path d="M842.00 267.50L842.00 298.00" stroke="#000" stroke-width="0.60"/>
<path d="M842.00 267.50L841.55 269.70L842.45 269.70Z" stroke="#000" stroke-width="0.24" fill="#000"/>
<path d="M842.00 298.00L841.55 295.80L842.45 295.80Z" stroke="#000" stroke-width="0.24" fill="#000"/>
<rect x="832.00" y="278.60" width="20.00" height="9.40" stroke="#000" stroke-width="0.00" fill="#fff"/>
<text x="839.77" y="282.74" font-size="4.0" font-weight="bold" textLength="4.45" lengthAdjust="spacingAndGlyphs">28</text>
<text x="833.85" y="286.94" font-size="4.0" font-weight="bold" textLength="16.29" lengthAdjust="spacingAndGlyphs">HOSEBED</text>
<path d="M842.00 298.00L842.00 327.80" stroke="#000" stroke-width="0.60"/>
<path d="M842.00 333.80L842.00 363.80" stroke="#000" stroke-width="0.60"/>
<text x="839.66" y="332.31" font-size="4.2" font-weight="bold" textLength="4.68" lengthAdjust="spacingAndGlyphs">56</text>
<path d="M842.00 298.00L841.55 300.20L842.45 300.20Z" stroke="#000" stroke-width="0.24" fill="#000"/>
<path d="M842.00 363.80L841.55 361.60L842.45 361.60Z" stroke="#000" stroke-width="0.24" fill="#000"/>
<g clip-path="url(#rc1)">
<path d="M914.40 292.00L854.40 352.00L854.40 358.50L914.40 298.50Z" stroke="#222" stroke-width="0.54" fill="#bcbcbc"/>
<path d="M914.40 292.00L974.40 352.00L974.40 358.50L914.40 298.50Z" stroke="#222" stroke-width="0.54" fill="#bcbcbc"/>
<path d="M914.40 305.00L854.40 365.00L854.40 371.50L914.40 311.50Z" stroke="#222" stroke-width="0.54" fill="#bcbcbc"/>
<path d="M914.40 305.00L974.40 365.00L974.40 371.50L914.40 311.50Z" stroke="#222" stroke-width="0.54" fill="#bcbcbc"/>
<path d="M914.40 318.00L854.40 378.00L854.40 384.50L914.40 324.50Z" stroke="#222" stroke-width="0.54" fill="#bcbcbc"/>
<path d="M914.40 318.00L974.40 378.00L974.40 384.50L914.40 324.50Z" stroke="#222" stroke-width="0.54" fill="#bcbcbc"/>
<path d="M914.40 331.00L854.40 391.00L854.40 397.50L914.40 337.50Z" stroke="#222" stroke-width="0.54" fill="#bcbcbc"/>
<path d="M914.40 331.00L974.40 391.00L974.40 397.50L914.40 337.50Z" stroke="#222" stroke-width="0.54" fill="#bcbcbc"/>
<path d="M914.40 344.00L854.40 404.00L854.40 410.50L914.40 350.50Z" stroke="#222" stroke-width="0.54" fill="#bcbcbc"/>
<path d="M914.40 344.00L974.40 404.00L974.40 410.50L914.40 350.50Z" stroke="#222" stroke-width="0.54" fill="#bcbcbc"/>
<path d="M914.40 357.00L854.40 417.00L854.40 423.50L914.40 363.50Z" stroke="#222" stroke-width="0.54" fill="#bcbcbc"/>
<path d="M914.40 357.00L974.40 417.00L974.40 423.50L914.40 363.50Z" stroke="#222" stroke-width="0.54" fill="#bcbcbc"/>
<path d="M914.40 370.00L854.40 430.00L854.40 436.50L914.40 376.50Z" stroke="#222" stroke-width="0.54" fill="#bcbcbc"/>
<path d="M914.40 370.00L974.40 430.00L974.40 436.50L914.40 376.50Z" stroke="#222" stroke-width="0.54" fill="#bcbcbc"/>
<path d="M914.40 383.00L854.40 443.00L854.40 449.50L914.40 389.50Z" stroke="#222" stroke-width="0.54" fill="#bcbcbc"/>
<path d="M914.40 383.00L974.40 443.00L974.40 449.50L914.40 389.50Z" stroke="#222" stroke-width="0.54" fill="#bcbcbc"/>
<path d="M914.40 396.00L854.40 456.00L854.40 462.50L914.40 402.50Z" stroke="#222" stroke-width="0.54" fill="#bcbcbc"/>
<path d="M914.40 396.00L974.40 456.00L974.40 462.50L914.40 402.50Z" stroke="#222" stroke-width="0.54" fill="#bcbcbc"/>
<path d="M914.40 409.00L854.40 469.00L854.40 475.50L914.40 415.50Z" stroke="#222" stroke-width="0.54" fill="#bcbcbc"/>
<path d="M914.40 409.00L974.40 469.00L974.40 475.50L914.40 415.50Z" stroke="#222" stroke-width="0.54" fill="#bcbcbc"/>
<path d="M914.40 422.00L854.40 482.00L854.40 488.50L914.40 428.50Z" stroke="#222" stroke-width="0.54" fill="#bcbcbc"/>
<path d="M914.40 422.00L974.40 482.00L974.40 488.50L914.40 428.50Z" stroke="#222" stroke-width="0.54" fill="#bcbcbc"/>
<path d="M914.40 435.00L854.40 495.00L854.40 501.50L914.40 441.50Z" stroke="#222" stroke-width="0.54" fill="#bcbcbc"/>
<path d="M914.40 435.00L974.40 495.00L974.40 501.50L914.40 441.50Z" stroke="#222" stroke-width="0.54" fill="#bcbcbc"/>
</g>
<g clip-path="url(#rc2)">
<path d="M914.40 188.00L854.40 248.00L854.40 254.50L914.40 194.50Z" stroke="#222" stroke-width="0.54" fill="#bcbcbc"/>
<path d="M914.40 188.00L974.40 248.00L974.40 254.50L914.40 194.50Z" stroke="#222" stroke-width="0.54" fill="#bcbcbc"/>
<path d="M914.40 201.00L854.40 261.00L854.40 267.50L914.40 207.50Z" stroke="#222" stroke-width="0.54" fill="#bcbcbc"/>
<path d="M914.40 201.00L974.40 261.00L974.40 267.50L914.40 207.50Z" stroke="#222" stroke-width="0.54" fill="#bcbcbc"/>
<path d="M914.40 214.00L854.40 274.00L854.40 280.50L914.40 220.50Z" stroke="#222" stroke-width="0.54" fill="#bcbcbc"/>
<path d="M914.40 214.00L974.40 274.00L974.40 280.50L914.40 220.50Z" stroke="#222" stroke-width="0.54" fill="#bcbcbc"/>
<path d="M914.40 227.00L854.40 287.00L854.40 293.50L914.40 233.50Z" stroke="#222" stroke-width="0.54" fill="#bcbcbc"/>
<path d="M914.40 227.00L974.40 287.00L974.40 293.50L914.40 233.50Z" stroke="#222" stroke-width="0.54" fill="#bcbcbc"/>
<path d="M914.40 240.00L854.40 300.00L854.40 306.50L914.40 246.50Z" stroke="#222" stroke-width="0.54" fill="#bcbcbc"/>
<path d="M914.40 240.00L974.40 300.00L974.40 306.50L914.40 246.50Z" stroke="#222" stroke-width="0.54" fill="#bcbcbc"/>
<path d="M914.40 253.00L854.40 313.00L854.40 319.50L914.40 259.50Z" stroke="#222" stroke-width="0.54" fill="#bcbcbc"/>
<path d="M914.40 253.00L974.40 313.00L974.40 319.50L914.40 259.50Z" stroke="#222" stroke-width="0.54" fill="#bcbcbc"/>
<path d="M914.40 266.00L854.40 326.00L854.40 332.50L914.40 272.50Z" stroke="#222" stroke-width="0.54" fill="#bcbcbc"/>
<path d="M914.40 266.00L974.40 326.00L974.40 332.50L914.40 272.50Z" stroke="#222" stroke-width="0.54" fill="#bcbcbc"/>
<path d="M914.40 279.00L854.40 339.00L854.40 345.50L914.40 285.50Z" stroke="#222" stroke-width="0.54" fill="#bcbcbc"/>
<path d="M914.40 279.00L974.40 339.00L974.40 345.50L914.40 285.50Z" stroke="#222" stroke-width="0.54" fill="#bcbcbc"/>
<path d="M914.40 292.00L854.40 352.00L854.40 358.50L914.40 298.50Z" stroke="#222" stroke-width="0.54" fill="#bcbcbc"/>
<path d="M914.40 292.00L974.40 352.00L974.40 358.50L914.40 298.50Z" stroke="#222" stroke-width="0.54" fill="#bcbcbc"/>
<path d="M914.40 305.00L854.40 365.00L854.40 371.50L914.40 311.50Z" stroke="#222" stroke-width="0.54" fill="#bcbcbc"/>
<path d="M914.40 305.00L974.40 365.00L974.40 371.50L914.40 311.50Z" stroke="#222" stroke-width="0.54" fill="#bcbcbc"/>
<path d="M914.40 318.00L854.40 378.00L854.40 384.50L914.40 324.50Z" stroke="#222" stroke-width="0.54" fill="#bcbcbc"/>
<path d="M914.40 318.00L974.40 378.00L974.40 384.50L914.40 324.50Z" stroke="#222" stroke-width="0.54" fill="#bcbcbc"/>
<path d="M914.40 331.00L854.40 391.00L854.40 397.50L914.40 337.50Z" stroke="#222" stroke-width="0.54" fill="#bcbcbc"/>
<path d="M914.40 331.00L974.40 391.00L974.40 397.50L914.40 337.50Z" stroke="#222" stroke-width="0.54" fill="#bcbcbc"/>
<path d="M914.40 344.00L854.40 404.00L854.40 410.50L914.40 350.50Z" stroke="#222" stroke-width="0.54" fill="#bcbcbc"/>
<path d="M914.40 344.00L974.40 404.00L974.40 410.50L914.40 350.50Z" stroke="#222" stroke-width="0.54" fill="#bcbcbc"/>
<path d="M914.40 357.00L854.40 417.00L854.40 423.50L914.40 363.50Z" stroke="#222" stroke-width="0.54" fill="#bcbcbc"/>
<path d="M914.40 357.00L974.40 417.00L974.40 423.50L914.40 363.50Z" stroke="#222" stroke-width="0.54" fill="#bcbcbc"/>
<path d="M914.40 370.00L854.40 430.00L854.40 436.50L914.40 376.50Z" stroke="#222" stroke-width="0.54" fill="#bcbcbc"/>
<path d="M914.40 370.00L974.40 430.00L974.40 436.50L914.40 376.50Z" stroke="#222" stroke-width="0.54" fill="#bcbcbc"/>
<path d="M914.40 383.00L854.40 443.00L854.40 449.50L914.40 389.50Z" stroke="#222" stroke-width="0.54" fill="#bcbcbc"/>
<path d="M914.40 383.00L974.40 443.00L974.40 449.50L914.40 389.50Z" stroke="#222" stroke-width="0.54" fill="#bcbcbc"/>
<path d="M914.40 396.00L854.40 456.00L854.40 462.50L914.40 402.50Z" stroke="#222" stroke-width="0.54" fill="#bcbcbc"/>
<path d="M914.40 396.00L974.40 456.00L974.40 462.50L914.40 402.50Z" stroke="#222" stroke-width="0.54" fill="#bcbcbc"/>
<path d="M914.40 409.00L854.40 469.00L854.40 475.50L914.40 415.50Z" stroke="#222" stroke-width="0.54" fill="#bcbcbc"/>
<path d="M914.40 409.00L974.40 469.00L974.40 475.50L914.40 415.50Z" stroke="#222" stroke-width="0.54" fill="#bcbcbc"/>
<path d="M914.40 422.00L854.40 482.00L854.40 488.50L914.40 428.50Z" stroke="#222" stroke-width="0.54" fill="#bcbcbc"/>
<path d="M914.40 422.00L974.40 482.00L974.40 488.50L914.40 428.50Z" stroke="#222" stroke-width="0.54" fill="#bcbcbc"/>
<path d="M914.40 435.00L854.40 495.00L854.40 501.50L914.40 441.50Z" stroke="#222" stroke-width="0.54" fill="#bcbcbc"/>
<path d="M914.40 435.00L974.40 495.00L974.40 501.50L914.40 441.50Z" stroke="#222" stroke-width="0.54" fill="#bcbcbc"/>
</g>
<rect x="872.20" y="266.10" width="82.20" height="2.40" stroke="#111" stroke-width="0.36" fill="#111"/>
<rect x="872.20" y="298.00" width="83.70" height="3.10" stroke="#111" stroke-width="0.36" fill="#111"/>
<path d="M872.20 266.10L872.20 300.00" stroke="#111" stroke-width="0.96"/>
<path d="M954.40 266.10L954.40 298.00" stroke="#111" stroke-width="0.84"/>
<rect x="875.20" y="268.50" width="15.50" height="29.50" stroke="#000" stroke-width="0.00" fill="#111"/>
<path d="M880.40 269.00L880.40 298.00" stroke="#bbb" stroke-width="0.84"/>
<path d="M885.60 269.00L885.60 298.00" stroke="#bbb" stroke-width="0.84"/>
<rect x="918.10" y="268.50" width="3.80" height="29.50" stroke="#000" stroke-width="0.00" fill="#222"/>
<rect x="890.70" y="272.80" width="11.20" height="25.20" stroke="#111" stroke-width="0.72" fill="none"/>
<path d="M890.70 274.60L901.90 274.60" stroke="#000" stroke-width="0.60"/>
<rect x="930.00" y="272.80" width="13.30" height="25.20" stroke="#111" stroke-width="0.72" fill="none"/>
<path d="M930.00 274.60L943.30 274.60" stroke="#000" stroke-width="0.60"/>
<path d="M891 284q8-8 16 0t11 2" stroke="#222" stroke-width="0.60" fill="none" />
<path d="M922.00 270.00L955.00 298.00" stroke="#222" stroke-width="0.60"/>
<path d="M922.00 298.00L955.00 270.00" stroke="#222" stroke-width="0.60"/>
<rect x="924.10" y="255.30" width="26.60" height="10.80" stroke="#111" stroke-width="1.20" fill="none"/>
<rect x="926.20" y="257.20" width="22.40" height="6.80" stroke="#222" stroke-width="0.72" fill="none"/>
<path d="M933.50 257.20L933.50 264.00" stroke="#000" stroke-width="0.72"/>
<path d="M926.20 260.60L948.60 260.60" stroke="#555" stroke-width="0.48"/>
<path d="M921.60 266.10L924.10 262.60" stroke="#000" stroke-width="0.72" fill="none"/>
<path d="M953.20 266.10L950.70 262.60" stroke="#000" stroke-width="0.72" fill="none"/>
<rect x="958.90" y="263.90" width="9.60" height="3.00" stroke="#111" stroke-width="0.36" fill="#111"/>
<path d="M956.70 263.90L973.70 263.90" stroke="#111" stroke-width="0.72"/>
<path d="M968.50 263.90L968.50 364.80" stroke="#111" stroke-width="0.72"/>
<path d="M970.70 263.90L970.70 364.80" stroke="#111" stroke-width="0.48"/>
<path d="M973.70 263.90L973.70 364.80" stroke="#111" stroke-width="0.84"/>
<path d="M956.70 268.40L968.50 268.40" stroke="#333" stroke-width="0.60"/>
<path d="M855.90 267.60L872.20 267.60" stroke="#111" stroke-width="0.72"/>
<path d="M855.90 267.60L855.90 364.80" stroke="#111" stroke-width="0.84"/>
<path d="M858.10 267.60L858.10 364.80" stroke="#111" stroke-width="0.60"/>
<path d="M855.90 294.30L872.20 294.30" stroke="#111" stroke-width="0.72"/>
<circle cx="869.00" cy="281.70" r="1.40" stroke="#000" stroke-width="0.00" fill="#111"/>
<circle cx="868.60" cy="265.00" r="0.80" stroke="#222" stroke-width="0.48" fill="none"/>
<path d="M855.9 340.4L853.8 340.4L853.8 364.8" stroke="#222" stroke-width="0.60" fill="none" />
<path d="M858.10 301.10L968.50 301.10" stroke="#111" stroke-width="0.72"/>
<rect x="886.30" y="325.60" width="55.60" height="38.50" stroke="#111" stroke-width="0.96" fill="none"/>
<path d="M914.40 325.60L914.40 364.10" stroke="#111" stroke-width="0.96"/>
<path d="M886.30 348.50L941.90 348.50" stroke="#111" stroke-width="0.96" stroke-dasharray="4 2.2"/>
<path d="M886.30 301.10L886.30 325.60" stroke="#111" stroke-width="0.72"/>
<path d="M941.90 301.10L941.90 325.60" stroke="#111" stroke-width="0.72"/>
<rect x="871.60" y="301.10" width="2.00" height="36.00" stroke="#000" stroke-width="0.00" fill="#222"/>
<rect x="955.20" y="301.10" width="2.00" height="36.00" stroke="#000" stroke-width="0.00" fill="#222"/>
<rect x="894.40" y="302.60" width="38.60" height="22.20" stroke="#111" stroke-width="1.08" fill="#fff"/>
<rect x="904.80" y="306.00" width="18.50" height="3.30" stroke="#000" stroke-width="0.00" fill="#111"/>
<rect x="908.50" y="310.20" width="10.40" height="3.60" stroke="#000" stroke-width="0.00" fill="#222"/>
<rect x="910.60" y="311.00" width="3.00" height="1.40" stroke="#000" stroke-width="0.00" fill="#ddd"/>
<circle cx="926.30" cy="318.10" r="4.30" stroke="#111" stroke-width="0.84" fill="#fff"/>
<text x="926.30" y="319.60" font-size="3.6" text-anchor="middle" font-weight="bold">RR2</text>
<circle cx="898.10" cy="336.70" r="4.50" stroke="#111" stroke-width="0.84" fill="#fff"/>
<text x="898.10" y="338.20" font-size="3.6" text-anchor="middle" font-weight="bold">RR1</text>
<circle cx="914.00" cy="318.90" r="2.60" stroke="#111" stroke-width="1.08" fill="#555"/>
<path d="M912.00 318.30L916.00 318.30" stroke="#111" stroke-width="0.72"/>
<circle cx="919.20" cy="345.60" r="2.60" stroke="#111" stroke-width="1.08" fill="#555"/>
<path d="M917.20 345.00L921.20 345.00" stroke="#111" stroke-width="0.72"/>
<rect x="878.90" y="307.20" width="6.00" height="8.20" stroke="#000" stroke-width="0.00" fill="#111" rx="1.2"/>
<rect x="879.90" y="315.00" width="4.00" height="3.00" stroke="#000" stroke-width="0.00" fill="#222"/>
<rect x="880.90" y="309.00" width="0.90" height="4.20" stroke="#000" stroke-width="0.00" fill="#ccc"/>
<rect x="878.90" y="322.80" width="6.00" height="8.20" stroke="#000" stroke-width="0.00" fill="#111" rx="1.2"/>
<rect x="879.90" y="330.60" width="4.00" height="3.00" stroke="#000" stroke-width="0.00" fill="#222"/>
<rect x="880.90" y="324.60" width="0.90" height="4.20" stroke="#000" stroke-width="0.00" fill="#ccc"/>
<rect x="871.40" y="338.30" width="6.00" height="8.20" stroke="#000" stroke-width="0.00" fill="#111" rx="1.2"/>
<rect x="872.40" y="346.10" width="4.00" height="3.00" stroke="#000" stroke-width="0.00" fill="#222"/>
<rect x="873.40" y="340.10" width="0.90" height="4.20" stroke="#000" stroke-width="0.00" fill="#ccc"/>
<path d="M888.00 315.60L890.00 310.60L892.00 315.60Z" stroke="#111" stroke-width="0.96" fill="none"/>
<rect x="861.10" y="299.60" width="8.20" height="6.00" stroke="#111" stroke-width="1.32" fill="#fff" rx="0.8"/>
<rect x="861.10" y="310.70" width="8.20" height="5.20" stroke="#111" stroke-width="1.32" fill="#fff" rx="0.8"/>
<rect x="861.10" y="333.00" width="8.20" height="5.30" stroke="#111" stroke-width="1.32" fill="#fff" rx="0.8"/>
<rect x="861.10" y="339.00" width="8.20" height="5.40" stroke="#111" stroke-width="1.32" fill="#fff" rx="0.8"/>
<rect x="861.10" y="345.00" width="8.20" height="5.40" stroke="#111" stroke-width="1.32" fill="#fff" rx="0.8"/>
<rect x="861.10" y="354.40" width="8.20" height="5.20" stroke="#111" stroke-width="1.32" fill="#fff" rx="0.8"/>
<rect x="943.90" y="307.20" width="6.00" height="8.20" stroke="#000" stroke-width="0.00" fill="#111" rx="1.2"/>
<rect x="944.90" y="315.00" width="4.00" height="3.00" stroke="#000" stroke-width="0.00" fill="#222"/>
<rect x="945.90" y="309.00" width="0.90" height="4.20" stroke="#000" stroke-width="0.00" fill="#ccc"/>
<rect x="943.90" y="322.80" width="6.00" height="8.20" stroke="#000" stroke-width="0.00" fill="#111" rx="1.2"/>
<rect x="944.90" y="330.60" width="4.00" height="3.00" stroke="#000" stroke-width="0.00" fill="#222"/>
<rect x="945.90" y="324.60" width="0.90" height="4.20" stroke="#000" stroke-width="0.00" fill="#ccc"/>
<rect x="951.40" y="338.30" width="6.00" height="8.20" stroke="#000" stroke-width="0.00" fill="#111" rx="1.2"/>
<rect x="952.40" y="346.10" width="4.00" height="3.00" stroke="#000" stroke-width="0.00" fill="#222"/>
<rect x="953.40" y="340.10" width="0.90" height="4.20" stroke="#000" stroke-width="0.00" fill="#ccc"/>
<path d="M936.80 315.60L938.80 310.60L940.80 315.60Z" stroke="#111" stroke-width="0.96" fill="none"/>
<rect x="959.50" y="299.60" width="8.20" height="6.00" stroke="#111" stroke-width="1.32" fill="#fff" rx="0.8"/>
<rect x="959.50" y="310.70" width="8.20" height="5.20" stroke="#111" stroke-width="1.32" fill="#fff" rx="0.8"/>
<rect x="959.50" y="333.00" width="8.20" height="5.30" stroke="#111" stroke-width="1.32" fill="#fff" rx="0.8"/>
<rect x="959.50" y="339.00" width="8.20" height="5.40" stroke="#111" stroke-width="1.32" fill="#fff" rx="0.8"/>
<rect x="959.50" y="345.00" width="8.20" height="5.40" stroke="#111" stroke-width="1.32" fill="#fff" rx="0.8"/>
<rect x="959.50" y="354.40" width="8.20" height="5.20" stroke="#111" stroke-width="1.32" fill="#fff" rx="0.8"/>
<rect x="944.80" y="353.70" width="11.10" height="5.20" stroke="#111" stroke-width="0.96" fill="#fff"/>
<rect x="946.40" y="355.20" width="8.00" height="2.40" stroke="#000" stroke-width="0.00" fill="#333"/>
<path d="M947.5 353.7q3-2.6 6 0" stroke="#111" stroke-width="0.72" fill="none" />
<rect x="855.20" y="364.80" width="119.20" height="5.20" stroke="#111" stroke-width="0.96" fill="#fff"/>
<circle cx="858.10" cy="367.40" r="0.90" stroke="#000" stroke-width="0.00" fill="#111"/>
<circle cx="970.00" cy="367.40" r="0.90" stroke="#000" stroke-width="0.00" fill="#111"/>
<circle cx="899.60" cy="366.20" r="0.50" stroke="#000" stroke-width="0.00" fill="#111"/>
<circle cx="914.00" cy="366.20" r="0.50" stroke="#000" stroke-width="0.00" fill="#111"/>
<circle cx="928.50" cy="366.20" r="0.50" stroke="#000" stroke-width="0.00" fill="#111"/>
<rect x="857.40" y="370.00" width="26.70" height="4.40" stroke="#222" stroke-width="0.72" fill="none"/>
<rect x="944.80" y="370.00" width="28.20" height="4.40" stroke="#222" stroke-width="0.72" fill="none"/>
<path d="M857.40 372.20L884.10 372.20" stroke="#555" stroke-width="0.48"/>
<path d="M944.80 372.20L973.00 372.20" stroke="#555" stroke-width="0.48"/>
<path d="M893 370L893 383.3L935.2 383.3L935.2 370" stroke="#111" stroke-width="0.96" fill="none" />
<rect x="893.00" y="381.10" width="42.20" height="2.20" stroke="#000" stroke-width="0.00" fill="#111"/>
<path d="M894.60 370.00L894.60 381.00" stroke="#444" stroke-width="0.48"/>
<path d="M933.60 370.00L933.60 381.00" stroke="#444" stroke-width="0.48"/>
<rect x="911.50" y="370.00" width="4.50" height="3.70" stroke="#111" stroke-width="0.72" fill="none"/>
<path d="M908.00 371.60L920.00 371.60" stroke="#000" stroke-width="0.60"/>
<path d="M884.80 370.00L884.80 397.50" stroke="#222" stroke-width="0.72"/>
<path d="M939.60 370.00L939.60 397.50" stroke="#222" stroke-width="0.96"/>
<path d="M940.00 375.00L940.00 412.00" stroke="#000" stroke-width="0.60"/>
<path d="M858.20 374.40L858.20 388.00" stroke="#333" stroke-width="0.60"/>
<path d="M972.40 374.40L972.40 388.00" stroke="#333" stroke-width="0.60"/>
<rect x="858.00" y="388.00" width="12.50" height="10.00" stroke="#111" stroke-width="0.48" fill="#333"/>
<path d="M858.00 389.00L870.50 389.00" stroke="#000" stroke-width="0.72"/>
<path d="M858.00 390.90L870.50 390.90" stroke="#000" stroke-width="0.72"/>
<path d="M858.00 392.80L870.50 392.80" stroke="#000" stroke-width="0.72"/>
<path d="M858.00 394.70L870.50 394.70" stroke="#000" stroke-width="0.72"/>
<path d="M858.00 396.60L870.50 396.60" stroke="#000" stroke-width="0.72"/>
<path d="M859.40 388.00L859.40 398.00" stroke="#999" stroke-width="0.54"/>
<path d="M861.90 388.00L861.90 398.00" stroke="#999" stroke-width="0.54"/>
<path d="M864.40 388.00L864.40 398.00" stroke="#999" stroke-width="0.54"/>
<path d="M866.90 388.00L866.90 398.00" stroke="#999" stroke-width="0.54"/>
<path d="M869.40 388.00L869.40 398.00" stroke="#999" stroke-width="0.54"/>
<rect x="872.50" y="388.00" width="12.50" height="10.00" stroke="#111" stroke-width="0.48" fill="#333"/>
<path d="M872.50 389.00L885.00 389.00" stroke="#000" stroke-width="0.72"/>
<path d="M872.50 390.90L885.00 390.90" stroke="#000" stroke-width="0.72"/>
<path d="M872.50 392.80L885.00 392.80" stroke="#000" stroke-width="0.72"/>
<path d="M872.50 394.70L885.00 394.70" stroke="#000" stroke-width="0.72"/>
<path d="M872.50 396.60L885.00 396.60" stroke="#000" stroke-width="0.72"/>
<path d="M873.90 388.00L873.90 398.00" stroke="#999" stroke-width="0.54"/>
<path d="M876.40 388.00L876.40 398.00" stroke="#999" stroke-width="0.54"/>
<path d="M878.90 388.00L878.90 398.00" stroke="#999" stroke-width="0.54"/>
<path d="M881.40 388.00L881.40 398.00" stroke="#999" stroke-width="0.54"/>
<path d="M883.90 388.00L883.90 398.00" stroke="#999" stroke-width="0.54"/>
<rect x="942.50" y="388.00" width="13.00" height="10.00" stroke="#111" stroke-width="0.48" fill="#333"/>
<path d="M942.50 389.00L955.50 389.00" stroke="#000" stroke-width="0.72"/>
<path d="M942.50 390.90L955.50 390.90" stroke="#000" stroke-width="0.72"/>
<path d="M942.50 392.80L955.50 392.80" stroke="#000" stroke-width="0.72"/>
<path d="M942.50 394.70L955.50 394.70" stroke="#000" stroke-width="0.72"/>
<path d="M942.50 396.60L955.50 396.60" stroke="#000" stroke-width="0.72"/>
<path d="M943.90 388.00L943.90 398.00" stroke="#999" stroke-width="0.54"/>
<path d="M946.40 388.00L946.40 398.00" stroke="#999" stroke-width="0.54"/>
<path d="M948.90 388.00L948.90 398.00" stroke="#999" stroke-width="0.54"/>
<path d="M951.40 388.00L951.40 398.00" stroke="#999" stroke-width="0.54"/>
<path d="M953.90 388.00L953.90 398.00" stroke="#999" stroke-width="0.54"/>
<rect x="957.00" y="388.00" width="12.50" height="10.00" stroke="#111" stroke-width="0.48" fill="#333"/>
<path d="M957.00 389.00L969.50 389.00" stroke="#000" stroke-width="0.72"/>
<path d="M957.00 390.90L969.50 390.90" stroke="#000" stroke-width="0.72"/>
<path d="M957.00 392.80L969.50 392.80" stroke="#000" stroke-width="0.72"/>
<path d="M957.00 394.70L969.50 394.70" stroke="#000" stroke-width="0.72"/>
<path d="M957.00 396.60L969.50 396.60" stroke="#000" stroke-width="0.72"/>
<path d="M958.40 388.00L958.40 398.00" stroke="#999" stroke-width="0.54"/>
<path d="M960.90 388.00L960.90 398.00" stroke="#999" stroke-width="0.54"/>
<path d="M963.40 388.00L963.40 398.00" stroke="#999" stroke-width="0.54"/>
<path d="M965.90 388.00L965.90 398.00" stroke="#999" stroke-width="0.54"/>
<path d="M968.40 388.00L968.40 398.00" stroke="#999" stroke-width="0.54"/>
<path d="M851.30 398.30L887.50 398.30" stroke="#000" stroke-width="0.72"/>
<path d="M937.50 398.30L976.30 398.30" stroke="#000" stroke-width="0.72"/>
<text x="812.39" y="245.74" font-size="4.0" font-weight="bold" textLength="37.61" lengthAdjust="spacingAndGlyphs">10' HARD SUCTION</text>
<text x="821.86" y="250.14" font-size="4.0" font-weight="bold" textLength="28.14" lengthAdjust="spacingAndGlyphs">HOSE STORAGE</text>
<text x="833.71" y="254.54" font-size="4.0" font-weight="bold" textLength="16.29" lengthAdjust="spacingAndGlyphs">(QTY 2)</text>
<path d="M851.50 244.30L856.30 244.30L863.80 280.00" stroke="#000" stroke-width="0.60" fill="none"/>
<text x="986.30" y="237.24" font-size="4.0" font-weight="bold" textLength="35.24" lengthAdjust="spacingAndGlyphs">HOSEBED DIVIDER</text>
<text x="986.30" y="241.69" font-size="4.0" font-weight="bold" textLength="23.40" lengthAdjust="spacingAndGlyphs">ADJUSTABLE</text>
<text x="986.30" y="246.14" font-size="4.0" font-weight="bold" textLength="16.29" lengthAdjust="spacingAndGlyphs">(QTY 2)</text>
<path d="M982.50 235.80L887.50 277.50" stroke="#000" stroke-width="0.60" fill="none"/>
<text x="986.30" y="252.24" font-size="4.0" font-weight="bold" textLength="35.24" lengthAdjust="spacingAndGlyphs">HOSEBED DIVIDER</text>
<text x="986.30" y="256.69" font-size="4.0" font-weight="bold" textLength="11.56" lengthAdjust="spacingAndGlyphs">FIXED</text>
<path d="M982.50 250.80L975.00 252.50L886.00 291.00" stroke="#000" stroke-width="0.60" fill="none"/>
<text x="986.30" y="262.74" font-size="4.0" font-weight="bold" textLength="30.51" lengthAdjust="spacingAndGlyphs">BACKUP CAMERA</text>
<path d="M982.50 261.30L976.00 263.00L920.00 297.00" stroke="#000" stroke-width="0.60" fill="none"/>
<text x="986.30" y="278.24" font-size="4.0" font-weight="bold" textLength="28.14" lengthAdjust="spacingAndGlyphs">WHELEN ARROW</text>
<text x="986.30" y="282.69" font-size="4.0" font-weight="bold" textLength="21.03" lengthAdjust="spacingAndGlyphs">STICK LED</text>
<path d="M982.50 276.80L976.00 279.00L918.00 310.00" stroke="#000" stroke-width="0.60" fill="none"/>
<text x="986.30" y="292.74" font-size="4.0" font-weight="bold" textLength="32.87" lengthAdjust="spacingAndGlyphs">2.5" DISCHARGE</text>
<text x="986.30" y="297.19" font-size="4.0" font-weight="bold" textLength="16.29" lengthAdjust="spacingAndGlyphs">(QTY 2)</text>
<path d="M982.50 291.30L977.00 292.00L951.00 298.50" stroke="#000" stroke-width="0.60" fill="none"/>
<text x="986.30" y="312.74" font-size="4.0" font-weight="bold" textLength="28.14" lengthAdjust="spacingAndGlyphs">SCENE LIGHTS</text>
<text x="986.30" y="317.19" font-size="4.0" font-weight="bold" textLength="23.40" lengthAdjust="spacingAndGlyphs">WHELEN LED</text>
<text x="986.30" y="321.64" font-size="4.0" font-weight="bold" textLength="16.29" lengthAdjust="spacingAndGlyphs">(QTY 2)</text>
<path d="M982.50 311.30L978.00 310.50L968.00 301.00" stroke="#000" stroke-width="0.60" fill="none"/>
<text x="986.30" y="328.94" font-size="4.0" font-weight="bold" textLength="32.87" lengthAdjust="spacingAndGlyphs">WARNING LIGHTS</text>
<text x="986.30" y="333.39" font-size="4.0" font-weight="bold" textLength="23.40" lengthAdjust="spacingAndGlyphs">WHELEN LED</text>
<text x="986.30" y="337.84" font-size="4.0" font-weight="bold" textLength="16.29" lengthAdjust="spacingAndGlyphs">(QTY 2)</text>
<path d="M982.50 327.50L978.00 326.00L968.00 312.00" stroke="#000" stroke-width="0.60" fill="none"/>
<text x="986.30" y="344.74" font-size="4.0" font-weight="bold" textLength="35.24" lengthAdjust="spacingAndGlyphs">STOP/TAIL LIGHT</text>
<text x="986.30" y="349.19" font-size="4.0" font-weight="bold" textLength="16.29" lengthAdjust="spacingAndGlyphs">RED LED</text>
<path d="M982.50 343.30L978.00 342.50L968.00 335.00" stroke="#000" stroke-width="0.60" fill="none"/>
<text x="986.30" y="355.94" font-size="4.0" font-weight="bold" textLength="35.24" lengthAdjust="spacingAndGlyphs">POPULATED ARROW</text>
<text x="986.30" y="360.39" font-size="4.0" font-weight="bold" textLength="21.03" lengthAdjust="spacingAndGlyphs">AMBER LED</text>
<path d="M982.50 354.50L978.00 353.50L968.00 341.50" stroke="#000" stroke-width="0.60" fill="none"/>
<text x="986.30" y="366.94" font-size="4.0" font-weight="bold" textLength="28.14" lengthAdjust="spacingAndGlyphs">BACKUP LIGHT</text>
<text x="986.30" y="371.39" font-size="4.0" font-weight="bold" textLength="21.03" lengthAdjust="spacingAndGlyphs">CLEAR LED</text>
<path d="M982.50 365.50L978.00 364.50L968.00 348.00" stroke="#000" stroke-width="0.60" fill="none"/>
<text x="986.30" y="376.44" font-size="4.0" font-weight="bold" textLength="30.51" lengthAdjust="spacingAndGlyphs">WARNING LIGHT</text>
<text x="986.30" y="380.89" font-size="4.0" font-weight="bold" textLength="23.40" lengthAdjust="spacingAndGlyphs">WHELEN LED</text>
<path d="M982.50 375.00L978.00 374.00L968.00 357.50" stroke="#000" stroke-width="0.60" fill="none"/>
<text x="986.30" y="387.24" font-size="4.0" font-weight="bold" textLength="44.72" lengthAdjust="spacingAndGlyphs">REAR FLIP DOWN STEP</text>
<path d="M982.50 385.80L977.00 385.80L952.00 372.00" stroke="#000" stroke-width="0.60" fill="none"/>
<text x="992.00" y="267.19" font-size="4.0" font-weight="bold" textLength="28.14" lengthAdjust="spacingAndGlyphs">ASA AUDIOVOX</text>
<text x="903.29" y="413.44" font-size="4.0" font-weight="bold" textLength="30.51" lengthAdjust="spacingAndGlyphs">GROUND LIGHTS</text>
<text x="898.56" y="417.84" font-size="4.0" font-weight="bold" textLength="35.24" lengthAdjust="spacingAndGlyphs">LED STRIP LIGHT</text>
<path d="M935.00 412.00L940.00 412.00" stroke="#000" stroke-width="0.60" fill="none"/>
</g>
<g id="side1">
<path d="M301.00 398.50L415.00 398.50" stroke="#000" stroke-width="0.72"/>
<path d="M576.00 398.50L780.00 398.50" stroke="#000" stroke-width="0.72"/>
<path d="M304.60 371.60L384.00 398.00" stroke="#000" stroke-width="0.60"/>
<path d="M306.5 373.5Q302.6 386 304.3 398" stroke="#000" stroke-width="0.60" fill="none" />
<text x="297.00" y="386.64" font-size="4.0" font-weight="bold" textLength="18.66" lengthAdjust="spacingAndGlyphs">19° MIN.</text>
<path d="M604.40 398.00L700.00 371.90" stroke="#000" stroke-width="0.60"/>
<text x="663.70" y="390.74" font-size="4.0" font-weight="bold" textLength="18.66" lengthAdjust="spacingAndGlyphs">12° MIN.</text>
<path d="M669.00 377.00L670.50 381.00" stroke="#000" stroke-width="0.60"/>
<path d="M672.50 399.50L671.00 404.00" stroke="#000" stroke-width="0.60"/>
<circle cx="392.80" cy="374.60" r="22.50" stroke="#111" stroke-width="2.76" fill="none"/>
<circle cx="392.8" cy="374.6" r="23.1" stroke="#fff" stroke-width="1.8" fill="none" stroke-dasharray="1.45 1.75"/>
<circle cx="392.80" cy="374.60" r="21.20" stroke="#111" stroke-width="0.72" fill="none"/>
<circle cx="392.80" cy="374.60" r="12.90" stroke="#1a1a1a" stroke-width="2.40" fill="none"/>
<circle cx="392.80" cy="374.60" r="10.60" stroke="#444" stroke-width="0.72" fill="none"/>
<path d="M383.40 368.40A11.3 11.3 0 0 0 385.60 383.20" stroke="#333" stroke-width="1.80" fill="none" />
<circle cx="392.80" cy="374.60" r="3.60" stroke="#222" stroke-width="0.96" fill="none"/>
<circle cx="392.80" cy="374.60" r="1.70" stroke="#333" stroke-width="0.72" fill="none"/>
<circle cx="399.66" cy="375.99" r="1.25" stroke="#000" stroke-width="0.00" fill="#1a1a1a"/>
<path d="M397.31 375.51L399.07 375.87" stroke="#333" stroke-width="1.08"/>
<circle cx="397.53" cy="379.76" r="1.25" stroke="#000" stroke-width="0.00" fill="#1a1a1a"/>
<path d="M395.91 377.99L397.13 379.32" stroke="#333" stroke-width="1.08"/>
<circle cx="393.60" cy="381.55" r="1.25" stroke="#000" stroke-width="0.00" fill="#1a1a1a"/>
<path d="M393.32 379.17L393.53 380.96" stroke="#333" stroke-width="1.08"/>
<circle cx="389.36" cy="380.69" r="1.25" stroke="#000" stroke-width="0.00" fill="#1a1a1a"/>
<path d="M390.54 378.61L389.65 380.17" stroke="#333" stroke-width="1.08"/>
<circle cx="386.43" cy="377.51" r="1.25" stroke="#000" stroke-width="0.00" fill="#1a1a1a"/>
<path d="M388.62 376.51L386.98 377.26" stroke="#333" stroke-width="1.08"/>
<circle cx="385.94" cy="373.21" r="1.25" stroke="#000" stroke-width="0.00" fill="#1a1a1a"/>
<path d="M388.29 373.69L386.53 373.33" stroke="#333" stroke-width="1.08"/>
<circle cx="388.07" cy="369.44" r="1.25" stroke="#000" stroke-width="0.00" fill="#1a1a1a"/>
<path d="M389.69 371.21L388.47 369.88" stroke="#333" stroke-width="1.08"/>
<circle cx="392.00" cy="367.65" r="1.25" stroke="#000" stroke-width="0.00" fill="#1a1a1a"/>
<path d="M392.28 370.03L392.07 368.24" stroke="#333" stroke-width="1.08"/>
<circle cx="396.24" cy="368.51" r="1.25" stroke="#000" stroke-width="0.00" fill="#1a1a1a"/>
<path d="M395.06 370.59L395.95 369.03" stroke="#333" stroke-width="1.08"/>
<circle cx="399.17" cy="371.69" r="1.25" stroke="#000" stroke-width="0.00" fill="#1a1a1a"/>
<path d="M396.98 372.69L398.62 371.94" stroke="#333" stroke-width="1.08"/>
<circle cx="392.80" cy="374.60" r="4.90" stroke="#555" stroke-width="0.60" fill="none"/>
<circle cx="597.80" cy="374.70" r="22.50" stroke="#111" stroke-width="2.76" fill="none"/>
<circle cx="597.8" cy="374.7" r="23.1" stroke="#fff" stroke-width="1.8" fill="none" stroke-dasharray="1.45 1.75"/>
<circle cx="597.80" cy="374.70" r="21.20" stroke="#111" stroke-width="0.72" fill="none"/>
<circle cx="597.80" cy="374.70" r="12.90" stroke="#1a1a1a" stroke-width="2.40" fill="none"/>
<circle cx="597.80" cy="374.70" r="10.60" stroke="#444" stroke-width="0.72" fill="none"/>
<path d="M588.40 368.50A11.3 11.3 0 0 0 590.60 383.30" stroke="#333" stroke-width="1.80" fill="none" />
<circle cx="597.80" cy="374.70" r="3.60" stroke="#222" stroke-width="0.96" fill="none"/>
<circle cx="597.80" cy="374.70" r="1.70" stroke="#333" stroke-width="0.72" fill="none"/>
<circle cx="604.66" cy="376.09" r="1.25" stroke="#000" stroke-width="0.00" fill="#1a1a1a"/>
<path d="M602.31 375.61L604.07 375.97" stroke="#333" stroke-width="1.08"/>
<circle cx="602.53" cy="379.86" r="1.25" stroke="#000" stroke-width="0.00" fill="#1a1a1a"/>
<path d="M600.91 378.09L602.13 379.42" stroke="#333" stroke-width="1.08"/>
<circle cx="598.60" cy="381.65" r="1.25" stroke="#000" stroke-width="0.00" fill="#1a1a1a"/>
<path d="M598.32 379.27L598.53 381.06" stroke="#333" stroke-width="1.08"/>
<circle cx="594.36" cy="380.79" r="1.25" stroke="#000" stroke-width="0.00" fill="#1a1a1a"/>
<path d="M595.54 378.71L594.65 380.27" stroke="#333" stroke-width="1.08"/>
<circle cx="591.43" cy="377.61" r="1.25" stroke="#000" stroke-width="0.00" fill="#1a1a1a"/>
<path d="M593.62 376.61L591.98 377.36" stroke="#333" stroke-width="1.08"/>
<circle cx="590.94" cy="373.31" r="1.25" stroke="#000" stroke-width="0.00" fill="#1a1a1a"/>
<path d="M593.29 373.79L591.53 373.43" stroke="#333" stroke-width="1.08"/>
<circle cx="593.07" cy="369.54" r="1.25" stroke="#000" stroke-width="0.00" fill="#1a1a1a"/>
<path d="M594.69 371.31L593.47 369.98" stroke="#333" stroke-width="1.08"/>
<circle cx="597.00" cy="367.75" r="1.25" stroke="#000" stroke-width="0.00" fill="#1a1a1a"/>
<path d="M597.28 370.13L597.07 368.34" stroke="#333" stroke-width="1.08"/>
<circle cx="601.24" cy="368.61" r="1.25" stroke="#000" stroke-width="0.00" fill="#1a1a1a"/>
<path d="M600.06 370.69L600.95 369.13" stroke="#333" stroke-width="1.08"/>
<circle cx="604.17" cy="371.79" r="1.25" stroke="#000" stroke-width="0.00" fill="#1a1a1a"/>
<path d="M601.98 372.79L603.62 372.04" stroke="#333" stroke-width="1.08"/>
<circle cx="597.80" cy="374.70" r="4.90" stroke="#555" stroke-width="0.60" fill="none"/>
<path d="M334.00 278.60L457.60 278.60" stroke="#111" stroke-width="1.08"/>
<path d="M336.00 282.40L457.60 282.40" stroke="#111" stroke-width="0.84"/>
<path d="M341.00 283.60L457.00 283.60" stroke="#444" stroke-width="0.48"/>
<path d="M457.60 278.60L457.60 371.90" stroke="#111" stroke-width="0.84"/>
<path d="M455.80 282.40L455.80 371.90" stroke="#444" stroke-width="0.48"/>
<path d="M340.30 282.40L338.30 371.90" stroke="#111" stroke-width="1.44"/>
<path d="M342.60 283.60L341.00 371.90" stroke="#111" stroke-width="0.60"/>
<path d="M334 278.6L332.6 283L326 325L325.3 345" stroke="#111" stroke-width="1.08" fill="none" />
<path d="M333.2 287L328.6 326.5Q331 328.8 335.6 326.8L338.8 290Q337.5 286 333.2 287Z" stroke="#111" stroke-width="1.20" fill="none" />
<path d="M325.3 325L325.3 362" stroke="#111" stroke-width="1.44" fill="none" />
<path d="M327.6 330L327.6 361" stroke="#111" stroke-width="0.60" fill="none" />
<rect x="325.80" y="344.00" width="3.00" height="5.50" stroke="#333" stroke-width="0.60" fill="none" rx="0.8"/>
<rect x="326.50" y="352.60" width="6.50" height="6.80" stroke="#222" stroke-width="0.72" fill="none" rx="1.5"/>
<rect x="315.80" y="354.20" width="5.50" height="3.60" stroke="#222" stroke-width="0.72" fill="none" rx="0.8"/>
<rect x="319.50" y="357.50" width="2.80" height="4.00" stroke="#222" stroke-width="0.60" fill="none"/>
<circle cx="335.40" cy="355.60" r="0.50" stroke="#000" stroke-width="0.00" fill="#111"/>
<rect x="316.00" y="361.60" width="17.20" height="10.50" stroke="#111" stroke-width="0.84" fill="none"/>
<path d="M316.00 370.60L333.20 370.60" stroke="#444" stroke-width="0.60"/>
<path d="M320.60 372.10L321.40 375.40L325.00 375.40" stroke="#000" stroke-width="0.60" fill="none"/>
<path d="M322.50 372.10L323.20 374.20L326.00 376.20" stroke="#000" stroke-width="0.48" fill="none"/>
<rect x="343.80" y="285.70" width="35.70" height="29.60" stroke="#111" stroke-width="1.14" fill="none" rx="3"/>
<path d="M344.50 290.40L378.80 290.40" stroke="#555" stroke-width="0.48"/>
<ellipse cx="369.60" cy="296.40" rx="1.50" ry="4.00" stroke="#222" stroke-width="0.36" fill="#4a4a4a" transform="rotate(35 369.60 296.40)"/>
<ellipse cx="431.40" cy="296.40" rx="1.50" ry="4.00" stroke="#222" stroke-width="0.36" fill="#4a4a4a" transform="rotate(35 431.40 296.40)"/>
<rect x="349.60" y="291.60" width="5.60" height="19.40" stroke="#111" stroke-width="0.96" fill="none" rx="1.6"/>
<rect x="350.60" y="312.20" width="4.80" height="8.60" stroke="#111" stroke-width="0.84" fill="none" rx="1.4"/>
<path d="M347.60 288.00L349.00 318.00" stroke="#111" stroke-width="0.96"/>
<path d="M346.20 286.80L350.50 291.80" stroke="#111" stroke-width="0.72"/>
<path d="M341.5 325.4q0.6 3.6 4 3.4q4-0.2 4.2-3.6z" stroke="#222" stroke-width="0.72" fill="none" />
<path d="M348.60 318.00L346.50 325.00" stroke="#000" stroke-width="0.60"/>
<path d="M384.30 283.60L384.30 344.00" stroke="#111" stroke-width="0.84"/>
<path d="M405.70 283.60L405.70 345.50" stroke="#111" stroke-width="1.44"/>
<path d="M403.90 283.60L403.90 326.00" stroke="#444" stroke-width="0.48"/>
<path d="M442.50 283.60L442.50 371.90" stroke="#333" stroke-width="0.60"/>
<rect x="407.30" y="285.70" width="30.00" height="29.60" stroke="#111" stroke-width="1.14" fill="none" rx="3"/>
<path d="M408.00 290.40L436.60 290.40" stroke="#555" stroke-width="0.48"/>
<rect x="389.70" y="286.40" width="8.60" height="4.80" stroke="#111" stroke-width="1.08" fill="none" rx="0.6"/>
<path d="M392.6 296.4h3.4l0.8 4.6h1v1.3h-7v-1.3h1z" stroke="#333" stroke-width="0.60" fill="none" />
<rect x="385.40" y="302.70" width="1.70" height="30.50" stroke="#222" stroke-width="0.60" fill="#555"/>
<rect x="443.50" y="302.70" width="1.70" height="30.50" stroke="#222" stroke-width="0.60" fill="#777"/>
<rect x="388.00" y="326.30" width="15.60" height="5.00" stroke="#111" stroke-width="0.60" fill="#333"/>
<rect x="389.00" y="327.20" width="3.80" height="1.60" stroke="#000" stroke-width="0.00" fill="#aaa"/>
<rect x="393.90" y="327.20" width="3.80" height="1.60" stroke="#000" stroke-width="0.00" fill="#aaa"/>
<rect x="398.80" y="327.20" width="3.80" height="1.60" stroke="#000" stroke-width="0.00" fill="#aaa"/>
<rect x="388.50" y="331.50" width="3.20" height="5.20" stroke="#222" stroke-width="0.48" fill="#444"/>
<rect x="393.40" y="334.10" width="9.20" height="5.20" stroke="#111" stroke-width="1.08" fill="none" rx="0.6"/>
<rect x="376.80" y="333.40" width="4.60" height="6.00" stroke="#111" stroke-width="0.84" fill="none" rx="0.8"/>
<rect x="378.60" y="334.40" width="2.20" height="4.00" stroke="#333" stroke-width="0.48" fill="none"/>
<rect x="435.60" y="333.40" width="4.60" height="6.00" stroke="#111" stroke-width="0.84" fill="none" rx="0.8"/>
<rect x="437.40" y="334.40" width="2.20" height="4.00" stroke="#333" stroke-width="0.48" fill="none"/>
<rect x="338.00" y="273.40" width="13.60" height="3.40" stroke="#222" stroke-width="0.72" fill="none" rx="0.8"/>
<path d="M338.60 274.60L351.00 274.60" stroke="#555" stroke-width="0.48"/>
<rect x="339.00" y="276.80" width="12.00" height="1.60" stroke="#222" stroke-width="0.60" fill="#666"/>
<rect x="334.20" y="276.60" width="3.00" height="2.00" stroke="#222" stroke-width="0.48" fill="#333"/>
<path d="M431.2 269.2L450.6 268.2L446.4 275.6L432.2 275.6Z" stroke="#111" stroke-width="0.84" fill="none" />
<path d="M432.8 268.9q8-1.8 17 -0.6" stroke="#333" stroke-width="0.60" fill="none" />
<path d="M432.2 275.6L433 277.4L445.6 277.4L446.4 275.6" stroke="#111" stroke-width="0.72" fill="none" />
<path d="M360.56 372.60A32.3 32.3 0 0 1 425.04 372.60" stroke="#111" stroke-width="1.08" fill="none" />
<path d="M362.67 372.60A30.2 30.2 0 0 1 422.93 372.60" stroke="#333" stroke-width="0.60" fill="none" />
<path d="M364.70 370.50A28.4 28.4 0 0 1 420.90 370.50" stroke="#111" stroke-width="0.84" fill="none" />
<path d="M360.60 372.60L364.50 372.60" stroke="#000" stroke-width="0.72"/>
<path d="M421.20 372.60L425.10 372.60" stroke="#000" stroke-width="0.72"/>
<path d="M365.40 364.50L367.80 366.50L366.20 368.80" stroke="#000" stroke-width="0.60" fill="none"/>
<path d="M420.20 364.50L417.80 366.50L419.40 368.80" stroke="#000" stroke-width="0.60" fill="none"/>
<path d="M338.30 371.90L360.60 371.90" stroke="#111" stroke-width="1.68"/>
<path d="M425.10 371.90L442.50 371.90" stroke="#111" stroke-width="1.68"/>
<path d="M442.50 371.90L459.80 371.90" stroke="#111" stroke-width="0.72"/>
<path d="M459.80 282.40L459.80 371.20" stroke="#111" stroke-width="0.96"/>
<path d="M461.20 312.00L461.20 369.00" stroke="#444" stroke-width="0.48"/>
<path d="M484.30 283.90L484.30 371.20" stroke="#111" stroke-width="0.96"/>
<path d="M483.00 312.00L483.00 369.00" stroke="#444" stroke-width="0.48"/>
<path d="M459.80 282.40L463.00 282.40" stroke="#000" stroke-width="0.72"/>
<path d="M460.4 282.4L478.6 272.2Q482.6 271 483 275L483.6 284" stroke="#111" stroke-width="0.84" fill="none" />
<path d="M464.5 295.4L481 281.6" stroke="#111" stroke-width="0.72" fill="none" />
<path d="M466.8 295.4L482.8 287.4" stroke="#111" stroke-width="0.60" fill="none" />
<path d="M471.80 281.60L471.80 295.00" stroke="#000" stroke-width="0.60"/>
<path d="M476.60 284.00L476.60 295.00" stroke="#000" stroke-width="0.60"/>
<rect x="462.00" y="295.70" width="19.40" height="9.60" stroke="#111" stroke-width="0.48" fill="#0a0a0a"/>
<circle cx="465.20" cy="305.60" r="1.10" stroke="#000" stroke-width="0.00" fill="#111"/>
<circle cx="478.20" cy="305.60" r="1.10" stroke="#000" stroke-width="0.00" fill="#111"/>
<path d="M460.00 307.40L484.00 307.40" stroke="#333" stroke-width="0.60"/>
<path d="M460.00 311.40L484.00 311.40" stroke="#111" stroke-width="0.72"/>
<rect x="460.60" y="312.40" width="23.00" height="4.60" stroke="#000" stroke-width="0.00" fill="#3a3a3a"/>
<path d="M460.00 317.40L484.00 317.40" stroke="#333" stroke-width="0.60"/>
<circle cx="476.60" cy="324.30" r="4.00" stroke="#111" stroke-width="0.84" fill="none"/>
<text x="476.60" y="325.80" font-size="3.8" text-anchor="middle" font-weight="bold">T1</text>
<path d="M460.00 331.30L484.00 331.30" stroke="#111" stroke-width="0.72"/>
<rect x="463.50" y="335.70" width="17.20" height="7.90" stroke="#111" stroke-width="0.84" fill="none"/>
<rect x="468.00" y="343.60" width="8.20" height="3.30" stroke="#111" stroke-width="0.72" fill="none"/>
<path d="M461.00 350.40L483.00 350.40" stroke="#555" stroke-width="0.48"/>
<path d="M466.50 367.00L475.20 359.60L479.50 361.00L474.50 367.00Z" stroke="#111" stroke-width="0.84" fill="none"/>
<ellipse cx="478.00" cy="363.20" rx="2.40" ry="3.60" stroke="#111" stroke-width="0.84" fill="none" transform="rotate(25 478.00 363.20)"/>
<path d="M459.80 368.10L484.30 368.10" stroke="#111" stroke-width="0.96"/>
<path d="M459.80 371.20L536.00 371.20" stroke="#111" stroke-width="0.84"/>
<path d="M484.30 283.90L527.40 283.90" stroke="#111" stroke-width="0.96"/>
<path d="M527.40 283.90L527.40 371.20" stroke="#111" stroke-width="0.96"/>
<rect x="490.20" y="281.40" width="31.80" height="2.40" stroke="#111" stroke-width="0.60" fill="#444"/>
<path d="M492.00 280.60L520.00 280.60" stroke="#444" stroke-width="0.48"/>
<rect x="495.40" y="268.60" width="5.20" height="12.60" stroke="#111" stroke-width="0.48" fill="#111" rx="1"/>
<rect x="496.80" y="265.60" width="2.40" height="3.40" stroke="#000" stroke-width="0.00" fill="#111" rx="0.8"/>
<rect x="487.30" y="276.60" width="4.20" height="5.60" stroke="#111" stroke-width="0.84" fill="none" rx="0.5"/>
<path d="M503.20 272.00L503.20 281.40" stroke="#000" stroke-width="0.84"/>
<path d="M504.30 276.00L504.30 281.40" stroke="#000" stroke-width="0.60"/>
<path d="M521.60 272.00L521.60 281.40" stroke="#000" stroke-width="0.84"/>
<path d="M520.50 276.00L520.50 281.40" stroke="#000" stroke-width="0.60"/>
<rect x="504.30" y="288.80" width="15.20" height="5.50" stroke="#111" stroke-width="0.72" fill="none"/>
<rect x="506.00" y="290.20" width="11.80" height="2.70" stroke="#222" stroke-width="0.60" fill="#888"/>
<rect x="504.60" y="289.20" width="1.60" height="1.80" stroke="#000" stroke-width="0.00" fill="#111"/>
<rect x="517.60" y="289.20" width="1.60" height="1.80" stroke="#000" stroke-width="0.00" fill="#111"/>
<path d="M527.4 306.6h-8.2q0.6-8.4 8.2-9.6" stroke="#111" stroke-width="0.84" fill="#fff" />
<path d="M521.80 300.00L521.80 306.40" stroke="#555" stroke-width="0.48"/>
<path d="M484.30 311.40L527.40 311.40" stroke="#111" stroke-width="0.84"/>
<path d="M484.30 312.60L527.40 312.60" stroke="#111" stroke-width="0.60"/>
<rect x="487.00" y="314.00" width="38.40" height="54.60" stroke="#111" stroke-width="0.84" fill="none"/>
<rect x="488.20" y="315.20" width="36.00" height="13.80" stroke="#000" stroke-width="0.00" fill="#1c1c1c"/>
<circle cx="491.20" cy="325.40" r="1.50" stroke="#ddd" stroke-width="0.60" fill="#222"/>
<circle cx="495.80" cy="325.40" r="1.50" stroke="#ddd" stroke-width="0.60" fill="#222"/>
<circle cx="500.40" cy="325.40" r="1.50" stroke="#ddd" stroke-width="0.60" fill="#222"/>
<circle cx="505.00" cy="325.40" r="1.50" stroke="#ddd" stroke-width="0.60" fill="#222"/>
<circle cx="509.60" cy="325.40" r="1.50" stroke="#ddd" stroke-width="0.60" fill="#222"/>
<circle cx="514.20" cy="325.40" r="1.50" stroke="#ddd" stroke-width="0.60" fill="#222"/>
<circle cx="518.80" cy="325.40" r="1.50" stroke="#ddd" stroke-width="0.60" fill="#222"/>
<rect x="489.50" y="316.60" width="5.00" height="2.60" stroke="#000" stroke-width="0.00" fill="#ddd"/>
<rect x="496.50" y="316.20" width="2.40" height="3.60" stroke="#000" stroke-width="0.00" fill="#bbb"/>
<rect x="501.50" y="317.40" width="4.60" height="1.40" stroke="#000" stroke-width="0.00" fill="#ccc"/>
<rect x="509.50" y="316.60" width="7.60" height="2.40" stroke="#000" stroke-width="0.00" fill="#999"/>
<rect x="518.60" y="316.40" width="3.80" height="3.00" stroke="#000" stroke-width="0.00" fill="#ccc"/>
<path d="M488.20 321.40L524.20 321.40" stroke="#999" stroke-width="0.60"/>
<path d="M487.00 330.40L525.40 330.40" stroke="#111" stroke-width="0.60"/>
<rect x="488.20" y="331.20" width="36.00" height="3.80" stroke="#000" stroke-width="0.00" fill="#222"/>
<circle cx="522.40" cy="333.10" r="1.00" stroke="#000" stroke-width="0.00" fill="#eee"/>
<path d="M487.00 336.00L525.40 336.00" stroke="#111" stroke-width="0.60"/>
<rect x="490.00" y="337.70" width="3.20" height="4.80" stroke="#000" stroke-width="0.00" fill="#111" rx="0.8"/>
<rect x="494.90" y="339.20" width="3.20" height="4.80" stroke="#000" stroke-width="0.00" fill="#111" rx="0.8"/>
<rect x="507.10" y="337.10" width="3.20" height="4.80" stroke="#000" stroke-width="0.00" fill="#111" rx="0.8"/>
<rect x="515.10" y="336.30" width="3.20" height="4.80" stroke="#000" stroke-width="0.00" fill="#111" rx="0.8"/>
<rect x="510.50" y="344.20" width="3.20" height="4.80" stroke="#000" stroke-width="0.00" fill="#111" rx="0.8"/>
<rect x="520.00" y="335.70" width="3.20" height="4.80" stroke="#000" stroke-width="0.00" fill="#111" rx="0.8"/>
<rect x="501.50" y="336.10" width="3.20" height="4.80" stroke="#000" stroke-width="0.00" fill="#111" rx="0.8"/>
<rect x="514.00" y="342.20" width="3.20" height="4.80" stroke="#000" stroke-width="0.00" fill="#111" rx="0.8"/>
<rect x="508.00" y="341.50" width="3.20" height="4.80" stroke="#000" stroke-width="0.00" fill="#111" rx="0.8"/>
<path d="M520.00 340.00L513.00 349.00" stroke="#111" stroke-width="1.20"/>
<rect x="500.40" y="339.40" width="4.60" height="2.20" stroke="#222" stroke-width="0.48" fill="#666"/>
<rect x="489.40" y="344.40" width="9.70" height="14.90" stroke="#111" stroke-width="0.96" fill="none" rx="1.2"/>
<rect x="491.60" y="346.60" width="4.40" height="5.00" stroke="#111" stroke-width="0.48" fill="#222"/>
<rect x="490.80" y="353.40" width="6.80" height="2.00" stroke="#000" stroke-width="0.00" fill="#333"/>
<rect x="491.40" y="356.40" width="5.40" height="1.60" stroke="#000" stroke-width="0.00" fill="#555"/>
<circle cx="505.70" cy="351.60" r="4.30" stroke="#111" stroke-width="0.84" fill="none"/>
<path d="M499.40 351.60L501.40 351.60" stroke="#000" stroke-width="0.72"/>
<path d="M510.00 351.60L512.40 351.60" stroke="#000" stroke-width="0.72"/>
<rect x="510.60" y="347.40" width="3.60" height="4.60" stroke="#111" stroke-width="0.48" fill="#333"/>
<circle cx="517.40" cy="350.40" r="2.30" stroke="#111" stroke-width="0.96" fill="none"/>
<circle cx="517.40" cy="350.40" r="1.20" stroke="#555" stroke-width="0.48" fill="none"/>
<rect x="520.80" y="351.00" width="1.40" height="7.00" stroke="#000" stroke-width="0.00" fill="#222"/>
<path d="M487.00 362.60L525.40 362.60" stroke="#333" stroke-width="0.60"/>
<rect x="490.00" y="364.00" width="2.80" height="3.40" stroke="#000" stroke-width="0.00" fill="#111" rx="0.8"/>
<rect x="495.60" y="364.00" width="2.80" height="3.40" stroke="#000" stroke-width="0.00" fill="#111" rx="0.8"/>
<rect x="501.40" y="364.00" width="2.80" height="3.40" stroke="#000" stroke-width="0.00" fill="#111" rx="0.8"/>
<rect x="507.20" y="364.00" width="2.80" height="3.40" stroke="#000" stroke-width="0.00" fill="#111" rx="0.8"/>
<rect x="513.00" y="364.00" width="2.80" height="3.40" stroke="#000" stroke-width="0.00" fill="#111" rx="0.8"/>
<rect x="518.80" y="364.00" width="2.80" height="3.40" stroke="#000" stroke-width="0.00" fill="#111" rx="0.8"/>
<rect x="525.40" y="317.00" width="3.60" height="9.50" stroke="#000" stroke-width="0.00" fill="#222"/>
<rect x="525.40" y="339.50" width="3.60" height="9.50" stroke="#000" stroke-width="0.00" fill="#222"/>
<rect x="529.20" y="362.50" width="3.20" height="7.50" stroke="#000" stroke-width="0.00" fill="#111"/>
<rect x="484.30" y="371.20" width="5.00" height="7.00" stroke="#111" stroke-width="0.72" fill="none"/>
<rect x="485.40" y="374.00" width="2.80" height="2.80" stroke="#111" stroke-width="0.48" fill="#333"/>
<path d="M489.30 377.00L520.60 377.00" stroke="#111" stroke-width="0.84"/>
<path d="M489.30 375.40L520.60 375.40" stroke="#444" stroke-width="0.48"/>
<path d="M516.80 371.20L516.80 377.00" stroke="#000" stroke-width="0.48"/>
<path d="M520.60 371.20L520.60 377.00" stroke="#000" stroke-width="0.60"/>
<path d="M529.40 265.70L529.40 371.20" stroke="#111" stroke-width="0.84"/>
<path d="M531.60 267.50L531.60 369.00" stroke="#333" stroke-width="0.48"/>
<path d="M533.60 267.50L533.60 369.00" stroke="#333" stroke-width="0.48"/>
<path d="M535.60 267.50L535.60 369.00" stroke="#111" stroke-width="0.84"/>
<path d="M532.60 300.00L532.60 369.00" stroke="#222" stroke-width="0.60" stroke-dasharray="2.2 1.6"/>
<path d="M527.60 265.60L687.40 265.60" stroke="#111" stroke-width="1.08"/>
<path d="M529.40 267.50L686.00 267.50" stroke="#111" stroke-width="0.60"/>
<path d="M527.6 265.6q-0.4 3 1.6 4.6" stroke="#000" stroke-width="0.72" fill="none" />
<path d="M532.6 265.4L533.4 261.3L546.6 261.3L547.4 265.4" stroke="#111" stroke-width="1.08" fill="none" />
<path d="M534.00 262.60L546.00 262.60" stroke="#444" stroke-width="0.48"/>
<path d="M665.4 265.4L666.1999999999999 261.3L679.4 261.3L680.1999999999999 265.4" stroke="#111" stroke-width="1.08" fill="none" />
<path d="M666.80 262.60L678.80 262.60" stroke="#444" stroke-width="0.48"/>
<path d="M565.2 265.4L565.2 255.9L663.7 255.9L663.7 265.4" stroke="#111" stroke-width="0.72" fill="none" />
<path d="M535.60 293.60L677.80 293.60" stroke="#111" stroke-width="0.72"/>
<path d="M535.60 298.80L677.80 298.80" stroke="#111" stroke-width="0.72"/>
<rect x="537.10" y="277.30" width="8.90" height="5.60" stroke="#111" stroke-width="1.08" fill="none" rx="0.5"/>
<rect x="666.40" y="277.40" width="9.20" height="5.80" stroke="#111" stroke-width="1.08" fill="none" rx="0.5"/>
<path d="M677.80 267.50L677.80 367.40" stroke="#111" stroke-width="0.84"/>
<path d="M680.30 267.50L680.30 367.40" stroke="#333" stroke-width="0.48"/>
<path d="M682.70 267.50L682.70 364.40" stroke="#111" stroke-width="0.84"/>
<rect x="536.00" y="299.00" width="141.60" height="3.40" stroke="#000" stroke-width="0.00" fill="#111"/>
<rect x="536.00" y="302.40" width="141.60" height="2.40" stroke="#000" stroke-width="0.00" fill="#555"/>
<rect x="564.30" y="299.00" width="3.70" height="70.00" stroke="#111" stroke-width="0.72" fill="#fff"/>
<path d="M566.15 300.00L566.15 368.00" stroke="#666" stroke-width="0.36"/>
<rect x="628.10" y="299.00" width="3.80" height="70.00" stroke="#111" stroke-width="0.72" fill="#fff"/>
<path d="M630.00 300.00L630.00 368.00" stroke="#666" stroke-width="0.36"/>
<path d="M536.00 306.00L564.30 306.00" stroke="#222" stroke-width="1.80"/>
<path d="M536.00 308.70L564.30 308.70" stroke="#222" stroke-width="1.80"/>
<path d="M536.00 311.40L564.30 311.40" stroke="#222" stroke-width="1.80"/>
<path d="M536.00 314.10L564.30 314.10" stroke="#222" stroke-width="1.80"/>
<path d="M536.00 316.80L564.30 316.80" stroke="#222" stroke-width="1.80"/>
<path d="M536.00 319.50L564.30 319.50" stroke="#222" stroke-width="1.80"/>
<path d="M536.00 322.20L564.30 322.20" stroke="#222" stroke-width="1.80"/>
<rect x="536.00" y="324.60" width="28.30" height="8.90" stroke="#000" stroke-width="0.00" fill="#2e2e2e"/>
<path d="M536.00 336.60L564.30 336.60" stroke="#333" stroke-width="0.60"/>
<path d="M536.00 347.90L564.30 347.90" stroke="#222" stroke-width="0.72" stroke-dasharray="3 1.6"/>
<path d="M536.00 359.60L564.30 359.60" stroke="#333" stroke-width="0.60"/>
<path d="M536.00 363.70L564.30 363.70" stroke="#111" stroke-width="0.72"/>
<rect x="537.00" y="364.60" width="26.50" height="3.20" stroke="#000" stroke-width="0.00" fill="#666"/>
<circle cx="541.00" cy="309.40" r="3.70" stroke="#111" stroke-width="0.84" fill="#fff"/>
<text x="541.00" y="310.80" font-size="3.8" text-anchor="middle" font-weight="bold">L1</text>
<circle cx="574.80" cy="309.30" r="3.70" stroke="#111" stroke-width="0.84" fill="#fff"/>
<text x="574.80" y="310.70" font-size="3.8" text-anchor="middle" font-weight="bold">L2</text>
<rect x="568.00" y="320.40" width="60.10" height="2.90" stroke="#333" stroke-width="0.48" fill="#bbb"/>
<path d="M568.00 325.30L628.10 325.30" stroke="#111" stroke-width="0.84" stroke-dasharray="3.2 1.8"/>
<path d="M568.00 332.20L628.10 332.20" stroke="#222" stroke-width="0.60"/>
<path d="M568.00 333.90L628.10 333.90" stroke="#111" stroke-width="0.84"/>
<rect x="568.90" y="335.40" width="58.50" height="10.90" stroke="#111" stroke-width="0.84" fill="none"/>
<rect x="594.00" y="336.40" width="8.20" height="5.40" stroke="#111" stroke-width="1.08" fill="none"/>
<path d="M606.40 335.40L606.40 346.30" stroke="#000" stroke-width="0.60"/>
<rect x="608.60" y="337.00" width="4.60" height="3.00" stroke="#000" stroke-width="0.00" fill="#222"/>
<circle cx="578.20" cy="341.60" r="2.00" stroke="#000" stroke-width="0.00" fill="#111"/>
<circle cx="617.60" cy="341.60" r="2.00" stroke="#000" stroke-width="0.00" fill="#111"/>
<path d="M583.60 340.60L586.20 336.40L588.80 340.60Z" stroke="#111" stroke-width="0.48" fill="#222"/>
<path d="M568.00 347.80L575.00 347.80" stroke="#000" stroke-width="0.72" stroke-dasharray="2.5 1.5"/>
<path d="M568.00 356.00L572.00 356.00" stroke="#000" stroke-width="0.96"/>
<circle cx="638.50" cy="309.30" r="3.70" stroke="#111" stroke-width="0.84" fill="#fff"/>
<text x="638.50" y="310.70" font-size="3.8" text-anchor="middle" font-weight="bold">L3</text>
<path d="M631.90 321.40L677.80 321.40" stroke="#222" stroke-width="0.60"/>
<path d="M631.90 323.60L677.80 323.60" stroke="#222" stroke-width="0.60"/>
<path d="M631.90 325.40L677.80 325.40" stroke="#111" stroke-width="0.84" stroke-dasharray="3.2 1.8"/>
<path d="M631.90 331.50L677.80 331.50" stroke="#333" stroke-width="0.60"/>
<path d="M631.90 338.90L677.80 338.90" stroke="#333" stroke-width="0.60"/>
<path d="M644.40 325.40L644.40 342.00" stroke="#111" stroke-width="0.84" stroke-dasharray="3.2 1.8"/>
<path d="M634.2 359.3L634.2 347Q634.2 340.8 640.5 340.8L652.5 340.8Q659 340.8 659 347L659 359.3" stroke="#111" stroke-width="0.96" fill="none" />
<path d="M636 359.3L636 347.4Q636 342.6 641 342.6L652 342.6Q657.2 342.6 657.2 347.4L657.2 359.3" stroke="#333" stroke-width="0.60" fill="none" />
<path d="M650.70 344.00L650.70 359.30" stroke="#000" stroke-width="0.60"/>
<rect x="652.40" y="350.40" width="2.20" height="4.60" stroke="#111" stroke-width="0.60" fill="#555"/>
<path d="M640.00 346.80L646.00 346.80" stroke="#000" stroke-width="1.08"/>
<path d="M642.00 348.40L645.00 348.40" stroke="#000" stroke-width="0.72"/>
<path d="M631.90 359.30L677.80 359.30" stroke="#111" stroke-width="0.72"/>
<rect x="633.00" y="363.00" width="44.00" height="3.20" stroke="#000" stroke-width="0.00" fill="#777"/>
<path d="M631.90 362.60L677.80 362.60" stroke="#222" stroke-width="0.60"/>
<path d="M529.40 368.90L568.00 368.90" stroke="#111" stroke-width="0.96"/>
<path d="M629.60 367.40L682.70 367.40" stroke="#111" stroke-width="0.96"/>
<path d="M536.00 371.20L568.00 371.20" stroke="#111" stroke-width="0.60"/>
<path d="M564.20 369.50A34.0 34.0 0 0 1 631.40 369.50" stroke="#111" stroke-width="1.08" fill="none" />
<path d="M566.43 369.50A31.8 31.8 0 0 1 629.17 369.50" stroke="#333" stroke-width="0.60" fill="none" />
<path d="M570.42 364.00A29.4 29.4 0 0 1 625.18 364.00" stroke="#111" stroke-width="0.84" fill="none" />
<path d="M567.00 369.50L570.50 372.60" stroke="#000" stroke-width="0.72"/>
<rect x="571.40" y="354.60" width="3.80" height="5.20" stroke="#000" stroke-width="0.00" fill="#222"/>
<rect x="616.40" y="352.60" width="5.20" height="3.40" stroke="#000" stroke-width="0.00" fill="#222"/>
<path d="M568.10 340.40L568.10 369.00" stroke="#000" stroke-width="0.60"/>
<path d="M684 315.2L693.2 315.2Q692.6 306.59999999999997 684.6 305.8" stroke="#111" stroke-width="0.84" fill="none" />
<path d="M687.60 307.80L687.60 315.20" stroke="#555" stroke-width="0.48"/>
<path d="M684 331.5L693.2 331.5Q692.6 322.9 684.6 322.1" stroke="#111" stroke-width="0.84" fill="none" />
<path d="M687.60 324.10L687.60 331.50" stroke="#555" stroke-width="0.48"/>
<path d="M684 347.0L693.2 347.0Q692.6 338.4 684.6 337.6" stroke="#111" stroke-width="0.84" fill="none" />
<path d="M687.60 339.60L687.60 347.00" stroke="#555" stroke-width="0.48"/>
<rect x="682.90" y="301.50" width="2.60" height="48.00" stroke="#222" stroke-width="0.48" fill="#777"/>
<rect x="681.60" y="352.50" width="3.40" height="7.50" stroke="#000" stroke-width="0.00" fill="#111" rx="1.2"/>
<path d="M682.7 364.4L691.9 364.4L691.9 374.8L671.9 374.8L671.9 369.4" stroke="#333" stroke-width="0.72" fill="none" />
<path d="M671.90 369.40L691.90 369.40" stroke="#555" stroke-width="0.48"/>
<path d="M629.6 369.4L629.6 383.7M625.4 386.6Q630 386.2 634 383.6L652 378Q660 374 669.6 369.2" stroke="#222" stroke-width="0.72" fill="none" />
<circle cx="645.90" cy="375.60" r="2.40" stroke="#222" stroke-width="0.72" fill="none"/>
<circle cx="645.90" cy="375.60" r="1.20" stroke="#444" stroke-width="0.48" fill="none"/>
<path d="M633.00 369.00L633.00 372.60" stroke="#000" stroke-width="0.48"/>
<path d="M633.00 372.60L668.00 370.20" stroke="#000" stroke-width="0.48"/>
<ellipse cx="733.60" cy="321.50" rx="6.40" ry="6.40" stroke="#222" stroke-width="0.84" fill="none"/>
<path d="M730.60 319.60L728.40 319.60" stroke="#000" stroke-width="0.72"/>
<path d="M728.20 321.10L726.80 323.70L728.40 324.30" stroke="#000" stroke-width="0.60" fill="none"/>
<path d="M734.60 321.10q2.20 1.6 0 3.4" stroke="#000" stroke-width="0.60" fill="none" />
<path d="M732.00 328.10C727.00 331.10 727.80 342.10 728.60 352.10L729.60 372.10L730.60 390.10L731.00 396.60" stroke="#222" stroke-width="0.72" fill="none" />
<path d="M736.40 328.10C741.40 331.10 740.60 342.10 739.80 352.10L738.80 372.10L737.80 390.10L737.40 396.60" stroke="#222" stroke-width="0.72" fill="none" />
<path d="M734.00 334.10L734.00 395.60" stroke="#333" stroke-width="0.60"/>
<path d="M737.40 396.60L737.40 398.30L725.20 398.30Q725.20 396.20 731.00 395.40" stroke="#222" stroke-width="0.72" fill="none" />
<path d="M732.20 348.20L712.70 348.00Q711.20 349.30 712.70 350.50L732.20 350.70" stroke="#222" stroke-width="0.72" fill="none" />
<path d="M722.20 349.50L712.20 349.50" stroke="#333" stroke-width="1.20"/>
<path d="M728.00 315.10L759.30 315.10" stroke="#000" stroke-width="0.60"/>
<path d="M756.30 315.10L756.30 354.10" stroke="#000" stroke-width="0.60"/>
<path d="M756.30 360.10L756.30 398.50" stroke="#000" stroke-width="0.60"/>
<text x="749.18" y="358.61" font-size="4.2" font-weight="bold" textLength="14.24" lengthAdjust="spacingAndGlyphs">5'-10"</text>
<path d="M756.30 315.10L755.85 317.30L756.75 317.30Z" stroke="#000" stroke-width="0.24" fill="#000"/>
<path d="M756.30 398.50L755.85 396.30L756.75 396.30Z" stroke="#000" stroke-width="0.24" fill="#000"/>
<path d="M565.20 255.90L776.50 255.90" stroke="#000" stroke-width="0.60"/>
<path d="M774.10 255.90L774.10 398.50" stroke="#000" stroke-width="0.60"/>
<path d="M774.10 255.90L773.65 258.10L774.55 258.10Z" stroke="#000" stroke-width="0.24" fill="#000"/>
<path d="M774.10 398.50L773.65 396.30L774.55 396.30Z" stroke="#000" stroke-width="0.24" fill="#000"/>
<rect x="758.60" y="319.60" width="31.40" height="19.60" stroke="#000" stroke-width="0.00" fill="#fff"/>
<text x="760.99" y="324.24" font-size="4.0" font-weight="bold" textLength="26.63" lengthAdjust="spacingAndGlyphs">122 (10'-2")</text>
<text x="759.05" y="328.84" font-size="4.0" font-weight="bold" textLength="30.51" lengthAdjust="spacingAndGlyphs">APPROX O.A.H.</text>
<text x="760.23" y="333.44" font-size="4.0" font-weight="bold" textLength="28.14" lengthAdjust="spacingAndGlyphs">FULLY LOADED</text>
<text x="763.78" y="338.04" font-size="4.0" font-weight="bold" textLength="21.03" lengthAdjust="spacingAndGlyphs">GAWR/GVWR</text>
<text x="711.30" y="269.39" font-size="3.85" font-weight="bold" textLength="15.68" lengthAdjust="spacingAndGlyphs">SHELVES</text>
<text x="711.30" y="273.89" font-size="3.85" font-weight="bold" textLength="22.52" lengthAdjust="spacingAndGlyphs">ADJUSTABLE</text>
<text x="711.30" y="278.39" font-size="3.85" font-weight="bold" textLength="17.96" lengthAdjust="spacingAndGlyphs">(QTY 10)</text>
<path d="M709.60 268.30L702.50 268.30L654.80 321.10" stroke="#000" stroke-width="0.60" fill="none"/>
<text x="711.30" y="294.69" font-size="3.85" font-weight="bold" textLength="20.24" lengthAdjust="spacingAndGlyphs">GENERATOR</text>
<text x="711.30" y="298.99" font-size="3.85" font-weight="bold" textLength="11.12" lengthAdjust="spacingAndGlyphs">HONDA</text>
<text x="711.30" y="303.29" font-size="3.85" font-weight="bold" textLength="31.64" lengthAdjust="spacingAndGlyphs">MODEL EU3000iS</text>
<text x="711.30" y="307.59" font-size="3.85" font-weight="bold" textLength="11.12" lengthAdjust="spacingAndGlyphs">3000W</text>
<path d="M709.60 293.30L703.00 293.30L690.40 309.30L657.00 344.80" stroke="#000" stroke-width="0.60" fill="none"/>
<text x="420.79" y="241.94" font-size="4.0" font-weight="bold" textLength="30.51" lengthAdjust="spacingAndGlyphs">1.5" CROSSLAY</text>
<text x="420.79" y="246.94" font-size="4.0" font-weight="bold" textLength="30.51" lengthAdjust="spacingAndGlyphs">w/2" PLUMBING</text>
<path d="M452.60 240.50L455.20 240.50L466.30 283.80" stroke="#000" stroke-width="0.60" fill="none"/>
<text x="472.80" y="241.94" font-size="4.0" font-weight="bold" textLength="30.51" lengthAdjust="spacingAndGlyphs">1.5" CROSSLAY</text>
<text x="472.80" y="246.94" font-size="4.0" font-weight="bold" textLength="30.51" lengthAdjust="spacingAndGlyphs">w/2" PLUMBING</text>
<path d="M471.60 240.50L467.60 240.50L478.00 283.80" stroke="#000" stroke-width="0.60" fill="none"/>
<path d="M316.90 372.50L316.90 412.90" stroke="#000" stroke-width="0.60"/>
<path d="M327.90 372.50L327.90 412.90" stroke="#000" stroke-width="0.60"/>
<path d="M316.90 412.90L316.90 441.00" stroke="#000" stroke-width="0.60"/>
<path d="M392.80 376.00L392.80 432.50" stroke="#000" stroke-width="0.60"/>
<path d="M308.00 409.90L316.90 409.90" stroke="#000" stroke-width="0.60"/>
<path d="M316.90 409.90L314.70 409.45L314.70 410.35Z" stroke="#000" stroke-width="0.24" fill="#000"/>
<text x="321.70" y="411.10" font-size="3.6" text-anchor="middle" font-weight="bold">10</text>
<path d="M327.90 409.90L330.10 409.45L330.10 410.35Z" stroke="#000" stroke-width="0.24" fill="#000"/>
<path d="M327.90 409.90L331.00 409.90" stroke="#000" stroke-width="0.60"/>
<path d="M327.90 409.90L355.70 409.90" stroke="#000" stroke-width="0.60"/>
<path d="M364.70 409.90L392.80 409.90" stroke="#000" stroke-width="0.60"/>
<text x="357.86" y="411.41" font-size="4.2" font-weight="bold" textLength="4.68" lengthAdjust="spacingAndGlyphs">56</text>
<path d="M327.90 409.90L330.10 409.45L330.10 410.35Z" stroke="#000" stroke-width="0.24" fill="#000"/>
<path d="M392.80 409.90L390.60 409.45L390.60 410.35Z" stroke="#000" stroke-width="0.24" fill="#000"/>
<path d="M392.80 409.90L420.90 409.90" stroke="#000" stroke-width="0.60"/>
<path d="M429.90 409.90L459.80 409.90" stroke="#000" stroke-width="0.60"/>
<text x="423.06" y="411.41" font-size="4.2" font-weight="bold" textLength="4.68" lengthAdjust="spacingAndGlyphs">54</text>
<path d="M392.80 409.90L395.00 409.45L395.00 410.35Z" stroke="#000" stroke-width="0.24" fill="#000"/>
<path d="M459.80 409.90L457.60 409.45L457.60 410.35Z" stroke="#000" stroke-width="0.24" fill="#000"/>
<path d="M459.80 409.90L487.90 409.90" stroke="#000" stroke-width="0.60"/>
<path d="M496.90 409.90L528.00 409.90" stroke="#000" stroke-width="0.60"/>
<text x="490.06" y="411.41" font-size="4.2" font-weight="bold" textLength="4.68" lengthAdjust="spacingAndGlyphs">57</text>
<path d="M459.80 409.90L462.00 409.45L462.00 410.35Z" stroke="#000" stroke-width="0.24" fill="#000"/>
<path d="M528.00 409.90L525.80 409.45L525.80 410.35Z" stroke="#000" stroke-width="0.24" fill="#000"/>
<path d="M529.70 409.90L559.00 409.90" stroke="#000" stroke-width="0.60"/>
<path d="M568.00 409.90L597.80 409.90" stroke="#000" stroke-width="0.60"/>
<text x="561.16" y="411.41" font-size="4.2" font-weight="bold" textLength="4.68" lengthAdjust="spacingAndGlyphs">39</text>
<path d="M529.70 409.90L531.90 409.45L531.90 410.35Z" stroke="#000" stroke-width="0.24" fill="#000"/>
<path d="M597.80 409.90L595.60 409.45L595.60 410.35Z" stroke="#000" stroke-width="0.24" fill="#000"/>
<path d="M597.80 409.90L635.50 409.90" stroke="#000" stroke-width="0.60"/>
<path d="M644.50 409.90L682.20 409.90" stroke="#000" stroke-width="0.60"/>
<text x="637.66" y="411.41" font-size="4.2" font-weight="bold" textLength="4.68" lengthAdjust="spacingAndGlyphs">72</text>
<path d="M597.80 409.90L600.00 409.45L600.00 410.35Z" stroke="#000" stroke-width="0.24" fill="#000"/>
<path d="M682.20 409.90L680.00 409.45L680.00 410.35Z" stroke="#000" stroke-width="0.24" fill="#000"/>
<path d="M682.20 409.90L699.00 409.90" stroke="#000" stroke-width="0.60"/>
<path d="M682.20 409.90L684.40 409.45L684.40 410.35Z" stroke="#000" stroke-width="0.24" fill="#000"/>
<path d="M692.30 409.90L690.10 409.45L690.10 410.35Z" stroke="#000" stroke-width="0.24" fill="#000"/>
<rect x="685.60" y="407.90" width="4.20" height="4.00" stroke="#000" stroke-width="0.00" fill="#fff"/>
<text x="687.70" y="411.10" font-size="3.6" text-anchor="middle" font-weight="bold">8</text>
<path d="M459.80 371.20L459.80 424.50" stroke="#000" stroke-width="0.60"/>
<path d="M457.60 372.00L457.60 412.00" stroke="#000" stroke-width="0.60"/>
<path d="M528.00 371.20L528.00 412.50" stroke="#000" stroke-width="0.60"/>
<path d="M529.70 371.20L529.70 412.50" stroke="#000" stroke-width="0.60"/>
<path d="M597.80 376.00L597.80 436.50" stroke="#000" stroke-width="0.60"/>
<path d="M682.20 368.00L682.20 412.50" stroke="#000" stroke-width="0.60"/>
<path d="M692.30 375.00L692.30 449.00" stroke="#000" stroke-width="0.60"/>
<path d="M459.80 398.50L467.70 398.50" stroke="#000" stroke-width="0.60"/>
<path d="M475.70 398.50L484.30 398.50" stroke="#000" stroke-width="0.60"/>
<text x="469.36" y="400.01" font-size="4.2" font-weight="bold" textLength="4.68" lengthAdjust="spacingAndGlyphs">21</text>
<path d="M459.80 398.50L462.00 398.05L462.00 398.95Z" stroke="#000" stroke-width="0.24" fill="#000"/>
<path d="M484.30 398.50L482.10 398.05L482.10 398.95Z" stroke="#000" stroke-width="0.24" fill="#000"/>
<path d="M484.30 398.50L501.70 398.50" stroke="#000" stroke-width="0.60"/>
<path d="M509.70 398.50L527.20 398.50" stroke="#000" stroke-width="0.60"/>
<text x="503.36" y="400.01" font-size="4.2" font-weight="bold" textLength="4.68" lengthAdjust="spacingAndGlyphs">35</text>
<path d="M484.30 398.50L486.50 398.05L486.50 398.95Z" stroke="#000" stroke-width="0.24" fill="#000"/>
<path d="M527.20 398.50L525.00 398.05L525.00 398.95Z" stroke="#000" stroke-width="0.24" fill="#000"/>
<path d="M484.30 378.00L484.30 401.00" stroke="#000" stroke-width="0.60"/>
<path d="M527.20 372.00L527.20 401.00" stroke="#000" stroke-width="0.60"/>
<path d="M459.80 421.60L508.50 421.60" stroke="#000" stroke-width="0.60"/>
<path d="M545.50 421.60L597.80 421.60" stroke="#000" stroke-width="0.60"/>
<text x="510.70" y="422.93" font-size="3.7" font-weight="bold" textLength="32.60" lengthAdjust="spacingAndGlyphs">120 CAB TO AXLE</text>
<path d="M459.80 421.60L462.00 421.15L462.00 422.05Z" stroke="#000" stroke-width="0.24" fill="#000"/>
<path d="M597.80 421.60L595.60 421.15L595.60 422.05Z" stroke="#000" stroke-width="0.24" fill="#000"/>
<path d="M392.80 433.40L484.00 433.40" stroke="#000" stroke-width="0.60"/>
<path d="M517.00 433.40L597.80 433.40" stroke="#000" stroke-width="0.60"/>
<text x="486.01" y="434.77" font-size="3.8" font-weight="bold" textLength="28.98" lengthAdjust="spacingAndGlyphs">174 WHEELBASE</text>
<path d="M392.80 433.40L395.00 432.95L395.00 433.85Z" stroke="#000" stroke-width="0.24" fill="#000"/>
<path d="M597.80 433.40L595.60 432.95L595.60 433.85Z" stroke="#000" stroke-width="0.24" fill="#000"/>
<path d="M316.90 445.20L477.50 445.20" stroke="#000" stroke-width="0.60"/>
<path d="M541.50 445.20L692.30 445.20" stroke="#000" stroke-width="0.60"/>
<text x="479.26" y="446.57" font-size="3.8" font-weight="bold" textLength="60.48" lengthAdjust="spacingAndGlyphs">319 [26'-7"] OVERALL LENGTH</text>
<path d="M316.90 445.20L319.10 444.75L319.10 445.65Z" stroke="#000" stroke-width="0.24" fill="#000"/>
<path d="M692.30 445.20L690.10 444.75L690.10 445.65Z" stroke="#000" stroke-width="0.24" fill="#000"/>
<text x="503.21" y="382.14" font-size="4.0" font-weight="bold" textLength="9.19" lengthAdjust="spacingAndGlyphs">STEP</text>
<text x="489.00" y="386.64" font-size="4.0" font-weight="bold" textLength="23.40" lengthAdjust="spacingAndGlyphs">STATIONARY</text>
<path d="M513.60 380.70L516.60 380.70L516.60 374.00" stroke="#000" stroke-width="0.60" fill="none"/>
<text x="491.83" y="393.04" font-size="4.0" font-weight="bold" textLength="25.77" lengthAdjust="spacingAndGlyphs">2.5" INTAKE</text>
<path d="M519.00 391.60L523.00 391.60L518.00 353.00" stroke="#000" stroke-width="0.60" fill="none"/>
<text x="484.60" y="406.34" font-size="4.0" font-weight="bold" textLength="37.61" lengthAdjust="spacingAndGlyphs">6" STEAMER INLET</text>
<path d="M483.40 404.90L479.60 404.90L503.00 355.00" stroke="#000" stroke-width="0.60" fill="none"/>
<path d="M479.60 404.90L481.50 398.50L489.00 371.00" stroke="#000" stroke-width="0.60" fill="none"/>
<text x="421.46" y="416.94" font-size="4.0" font-weight="bold" textLength="28.14" lengthAdjust="spacingAndGlyphs">WHEEL CHOCKS</text>
<text x="409.62" y="421.54" font-size="4.0" font-weight="bold" textLength="39.98" lengthAdjust="spacingAndGlyphs">WORDEN HEAVY DUTY</text>
<text x="402.52" y="426.14" font-size="4.0" font-weight="bold" textLength="47.08" lengthAdjust="spacingAndGlyphs">BRIGHT YELLOW FINISH</text>
<text x="433.31" y="430.74" font-size="4.0" font-weight="bold" textLength="16.29" lengthAdjust="spacingAndGlyphs">(QTY 2)</text>
<path d="M451.00 415.50L455.60 415.50L473.50 366.00" stroke="#000" stroke-width="0.60" fill="none"/>
<text x="339.89" y="422.94" font-size="4.0" font-weight="bold" textLength="37.61" lengthAdjust="spacingAndGlyphs">SUPER AUTO EJECT</text>
<text x="330.42" y="427.54" font-size="4.0" font-weight="bold" textLength="47.08" lengthAdjust="spacingAndGlyphs">KUSSMAUL 20 AMP-120V</text>
<text x="332.78" y="432.14" font-size="4.0" font-weight="bold" textLength="44.72" lengthAdjust="spacingAndGlyphs">MODEL 091-55-20-120</text>
<path d="M379.00 421.50L383.20 421.50L390.20 336.00" stroke="#000" stroke-width="0.60" fill="none"/>
<text x="623.70" y="419.24" font-size="4.0" font-weight="bold" textLength="25.77" lengthAdjust="spacingAndGlyphs">SCBA BOTTLE</text>
<text x="623.70" y="423.84" font-size="4.0" font-weight="bold" textLength="25.77" lengthAdjust="spacingAndGlyphs">COMPARTMENT</text>
<text x="623.70" y="428.44" font-size="4.0" font-weight="bold" textLength="16.29" lengthAdjust="spacingAndGlyphs">(QTY 2)</text>
<path d="M622.40 417.80L617.80 417.80L577.80 347.40" stroke="#000" stroke-width="0.60" fill="none"/>
<text x="661.20" y="419.24" font-size="4.0" font-weight="bold" textLength="9.19" lengthAdjust="spacingAndGlyphs">FUEL</text>
<text x="661.20" y="423.84" font-size="4.0" font-weight="bold" textLength="9.19" lengthAdjust="spacingAndGlyphs">FILL</text>
<path d="M659.80 417.80L654.80 417.80L611.00 340.70" stroke="#000" stroke-width="0.60" fill="none"/>
</g>
<g id="side2">
<g transform="translate(1072.2,210.8) scale(-1,1)">
<circle cx="392.80" cy="374.60" r="22.50" stroke="#111" stroke-width="2.76" fill="none"/>
<circle cx="392.8" cy="374.6" r="23.1" stroke="#fff" stroke-width="1.8" fill="none" stroke-dasharray="1.45 1.75"/>
<circle cx="392.80" cy="374.60" r="21.20" stroke="#111" stroke-width="0.72" fill="none"/>
<circle cx="392.80" cy="374.60" r="12.90" stroke="#1a1a1a" stroke-width="2.40" fill="none"/>
<circle cx="392.80" cy="374.60" r="10.60" stroke="#444" stroke-width="0.72" fill="none"/>
<path d="M383.40 368.40A11.3 11.3 0 0 0 385.60 383.20" stroke="#333" stroke-width="1.80" fill="none" />
<circle cx="392.80" cy="374.60" r="3.60" stroke="#222" stroke-width="0.96" fill="none"/>
<circle cx="392.80" cy="374.60" r="1.70" stroke="#333" stroke-width="0.72" fill="none"/>
<circle cx="399.66" cy="375.99" r="1.25" stroke="#000" stroke-width="0.00" fill="#1a1a1a"/>
<path d="M397.31 375.51L399.07 375.87" stroke="#333" stroke-width="1.08"/>
<circle cx="397.53" cy="379.76" r="1.25" stroke="#000" stroke-width="0.00" fill="#1a1a1a"/>
<path d="M395.91 377.99L397.13 379.32" stroke="#333" stroke-width="1.08"/>
<circle cx="393.60" cy="381.55" r="1.25" stroke="#000" stroke-width="0.00" fill="#1a1a1a"/>
<path d="M393.32 379.17L393.53 380.96" stroke="#333" stroke-width="1.08"/>
<circle cx="389.36" cy="380.69" r="1.25" stroke="#000" stroke-width="0.00" fill="#1a1a1a"/>
<path d="M390.54 378.61L389.65 380.17" stroke="#333" stroke-width="1.08"/>
<circle cx="386.43" cy="377.51" r="1.25" stroke="#000" stroke-width="0.00" fill="#1a1a1a"/>
<path d="M388.62 376.51L386.98 377.26" stroke="#333" stroke-width="1.08"/>
<circle cx="385.94" cy="373.21" r="1.25" stroke="#000" stroke-width="0.00" fill="#1a1a1a"/>
<path d="M388.29 373.69L386.53 373.33" stroke="#333" stroke-width="1.08"/>
<circle cx="388.07" cy="369.44" r="1.25" stroke="#000" stroke-width="0.00" fill="#1a1a1a"/>
<path d="M389.69 371.21L388.47 369.88" stroke="#333" stroke-width="1.08"/>
<circle cx="392.00" cy="367.65" r="1.25" stroke="#000" stroke-width="0.00" fill="#1a1a1a"/>
<path d="M392.28 370.03L392.07 368.24" stroke="#333" stroke-width="1.08"/>
<circle cx="396.24" cy="368.51" r="1.25" stroke="#000" stroke-width="0.00" fill="#1a1a1a"/>
<path d="M395.06 370.59L395.95 369.03" stroke="#333" stroke-width="1.08"/>
<circle cx="399.17" cy="371.69" r="1.25" stroke="#000" stroke-width="0.00" fill="#1a1a1a"/>
<path d="M396.98 372.69L398.62 371.94" stroke="#333" stroke-width="1.08"/>
<circle cx="392.80" cy="374.60" r="4.90" stroke="#555" stroke-width="0.60" fill="none"/>
<circle cx="597.80" cy="374.70" r="22.50" stroke="#111" stroke-width="2.76" fill="none"/>
<circle cx="597.8" cy="374.7" r="23.1" stroke="#fff" stroke-width="1.8" fill="none" stroke-dasharray="1.45 1.75"/>
<circle cx="597.80" cy="374.70" r="21.20" stroke="#111" stroke-width="0.72" fill="none"/>
<circle cx="597.80" cy="374.70" r="12.90" stroke="#1a1a1a" stroke-width="2.40" fill="none"/>
<circle cx="597.80" cy="374.70" r="10.60" stroke="#444" stroke-width="0.72" fill="none"/>
<path d="M588.40 368.50A11.3 11.3 0 0 0 590.60 383.30" stroke="#333" stroke-width="1.80" fill="none" />
<circle cx="597.80" cy="374.70" r="3.60" stroke="#222" stroke-width="0.96" fill="none"/>
<circle cx="597.80" cy="374.70" r="1.70" stroke="#333" stroke-width="0.72" fill="none"/>
<circle cx="604.66" cy="376.09" r="1.25" stroke="#000" stroke-width="0.00" fill="#1a1a1a"/>
<path d="M602.31 375.61L604.07 375.97" stroke="#333" stroke-width="1.08"/>
<circle cx="602.53" cy="379.86" r="1.25" stroke="#000" stroke-width="0.00" fill="#1a1a1a"/>
<path d="M600.91 378.09L602.13 379.42" stroke="#333" stroke-width="1.08"/>
<circle cx="598.60" cy="381.65" r="1.25" stroke="#000" stroke-width="0.00" fill="#1a1a1a"/>
<path d="M598.32 379.27L598.53 381.06" stroke="#333" stroke-width="1.08"/>
<circle cx="594.36" cy="380.79" r="1.25" stroke="#000" stroke-width="0.00" fill="#1a1a1a"/>
<path d="M595.54 378.71L594.65 380.27" stroke="#333" stroke-width="1.08"/>
<circle cx="591.43" cy="377.61" r="1.25" stroke="#000" stroke-width="0.00" fill="#1a1a1a"/>
<path d="M593.62 376.61L591.98 377.36" stroke="#333" stroke-width="1.08"/>
<circle cx="590.94" cy="373.31" r="1.25" stroke="#000" stroke-width="0.00" fill="#1a1a1a"/>
<path d="M593.29 373.79L591.53 373.43" stroke="#333" stroke-width="1.08"/>
<circle cx="593.07" cy="369.54" r="1.25" stroke="#000" stroke-width="0.00" fill="#1a1a1a"/>
<path d="M594.69 371.31L593.47 369.98" stroke="#333" stroke-width="1.08"/>
<circle cx="597.00" cy="367.75" r="1.25" stroke="#000" stroke-width="0.00" fill="#1a1a1a"/>
<path d="M597.28 370.13L597.07 368.34" stroke="#333" stroke-width="1.08"/>
<circle cx="601.24" cy="368.61" r="1.25" stroke="#000" stroke-width="0.00" fill="#1a1a1a"/>
<path d="M600.06 370.69L600.95 369.13" stroke="#333" stroke-width="1.08"/>
<circle cx="604.17" cy="371.79" r="1.25" stroke="#000" stroke-width="0.00" fill="#1a1a1a"/>
<path d="M601.98 372.79L603.62 372.04" stroke="#333" stroke-width="1.08"/>
<circle cx="597.80" cy="374.70" r="4.90" stroke="#555" stroke-width="0.60" fill="none"/>
<path d="M334.00 278.60L457.60 278.60" stroke="#111" stroke-width="1.08"/>
<path d="M336.00 282.40L457.60 282.40" stroke="#111" stroke-width="0.84"/>
<path d="M341.00 283.60L457.00 283.60" stroke="#444" stroke-width="0.48"/>
<path d="M457.60 278.60L457.60 371.90" stroke="#111" stroke-width="0.84"/>
<path d="M455.80 282.40L455.80 371.90" stroke="#444" stroke-width="0.48"/>
<path d="M340.30 282.40L338.30 371.90" stroke="#111" stroke-width="1.44"/>
<path d="M342.60 283.60L341.00 371.90" stroke="#111" stroke-width="0.60"/>
<path d="M334 278.6L332.6 283L326 325L325.3 345" stroke="#111" stroke-width="1.08" fill="none" />
<path d="M333.2 287L328.6 326.5Q331 328.8 335.6 326.8L338.8 290Q337.5 286 333.2 287Z" stroke="#111" stroke-width="1.20" fill="none" />
<path d="M325.3 325L325.3 362" stroke="#111" stroke-width="1.44" fill="none" />
<path d="M327.6 330L327.6 361" stroke="#111" stroke-width="0.60" fill="none" />
<rect x="325.80" y="344.00" width="3.00" height="5.50" stroke="#333" stroke-width="0.60" fill="none" rx="0.8"/>
<rect x="326.50" y="352.60" width="6.50" height="6.80" stroke="#222" stroke-width="0.72" fill="none" rx="1.5"/>
<rect x="315.80" y="354.20" width="5.50" height="3.60" stroke="#222" stroke-width="0.72" fill="none" rx="0.8"/>
<rect x="319.50" y="357.50" width="2.80" height="4.00" stroke="#222" stroke-width="0.60" fill="none"/>
<circle cx="335.40" cy="355.60" r="0.50" stroke="#000" stroke-width="0.00" fill="#111"/>
<rect x="316.00" y="361.60" width="17.20" height="10.50" stroke="#111" stroke-width="0.84" fill="none"/>
<path d="M316.00 370.60L333.20 370.60" stroke="#444" stroke-width="0.60"/>
<path d="M320.60 372.10L321.40 375.40L325.00 375.40" stroke="#000" stroke-width="0.60" fill="none"/>
<path d="M322.50 372.10L323.20 374.20L326.00 376.20" stroke="#000" stroke-width="0.48" fill="none"/>
<rect x="343.80" y="285.70" width="35.70" height="29.60" stroke="#111" stroke-width="1.14" fill="none" rx="3"/>
<path d="M344.50 290.40L378.80 290.40" stroke="#555" stroke-width="0.48"/>
<ellipse cx="369.60" cy="296.40" rx="1.50" ry="4.00" stroke="#222" stroke-width="0.36" fill="#4a4a4a" transform="rotate(35 369.60 296.40)"/>
<ellipse cx="431.40" cy="296.40" rx="1.50" ry="4.00" stroke="#222" stroke-width="0.36" fill="#4a4a4a" transform="rotate(35 431.40 296.40)"/>
<rect x="349.60" y="291.60" width="5.60" height="19.40" stroke="#111" stroke-width="0.96" fill="none" rx="1.6"/>
<rect x="350.60" y="312.20" width="4.80" height="8.60" stroke="#111" stroke-width="0.84" fill="none" rx="1.4"/>
<path d="M347.60 288.00L349.00 318.00" stroke="#111" stroke-width="0.96"/>
<path d="M346.20 286.80L350.50 291.80" stroke="#111" stroke-width="0.72"/>
<path d="M341.5 325.4q0.6 3.6 4 3.4q4-0.2 4.2-3.6z" stroke="#222" stroke-width="0.72" fill="none" />
<path d="M348.60 318.00L346.50 325.00" stroke="#000" stroke-width="0.60"/>
<path d="M384.30 283.60L384.30 344.00" stroke="#111" stroke-width="0.84"/>
<path d="M405.70 283.60L405.70 345.50" stroke="#111" stroke-width="1.44"/>
<path d="M403.90 283.60L403.90 326.00" stroke="#444" stroke-width="0.48"/>
<path d="M442.50 283.60L442.50 371.90" stroke="#333" stroke-width="0.60"/>
<rect x="407.30" y="285.70" width="30.00" height="29.60" stroke="#111" stroke-width="1.14" fill="none" rx="3"/>
<path d="M408.00 290.40L436.60 290.40" stroke="#555" stroke-width="0.48"/>
<rect x="389.70" y="286.40" width="8.60" height="4.80" stroke="#111" stroke-width="1.08" fill="none" rx="0.6"/>
<path d="M392.6 296.4h3.4l0.8 4.6h1v1.3h-7v-1.3h1z" stroke="#333" stroke-width="0.60" fill="none" />
<rect x="385.40" y="302.70" width="1.70" height="30.50" stroke="#222" stroke-width="0.60" fill="#555"/>
<rect x="443.50" y="302.70" width="1.70" height="30.50" stroke="#222" stroke-width="0.60" fill="#777"/>
<rect x="388.00" y="326.30" width="15.60" height="5.00" stroke="#111" stroke-width="0.60" fill="#333"/>
<rect x="389.00" y="327.20" width="3.80" height="1.60" stroke="#000" stroke-width="0.00" fill="#aaa"/>
<rect x="393.90" y="327.20" width="3.80" height="1.60" stroke="#000" stroke-width="0.00" fill="#aaa"/>
<rect x="398.80" y="327.20" width="3.80" height="1.60" stroke="#000" stroke-width="0.00" fill="#aaa"/>
<rect x="388.50" y="331.50" width="3.20" height="5.20" stroke="#222" stroke-width="0.48" fill="#444"/>
<rect x="393.40" y="334.10" width="9.20" height="5.20" stroke="#111" stroke-width="1.08" fill="none" rx="0.6"/>
<rect x="376.80" y="333.40" width="4.60" height="6.00" stroke="#111" stroke-width="0.84" fill="none" rx="0.8"/>
<rect x="378.60" y="334.40" width="2.20" height="4.00" stroke="#333" stroke-width="0.48" fill="none"/>
<rect x="435.60" y="333.40" width="4.60" height="6.00" stroke="#111" stroke-width="0.84" fill="none" rx="0.8"/>
<rect x="437.40" y="334.40" width="2.20" height="4.00" stroke="#333" stroke-width="0.48" fill="none"/>
<rect x="338.00" y="273.40" width="13.60" height="3.40" stroke="#222" stroke-width="0.72" fill="none" rx="0.8"/>
<path d="M338.60 274.60L351.00 274.60" stroke="#555" stroke-width="0.48"/>
<rect x="339.00" y="276.80" width="12.00" height="1.60" stroke="#222" stroke-width="0.60" fill="#666"/>
<rect x="334.20" y="276.60" width="3.00" height="2.00" stroke="#222" stroke-width="0.48" fill="#333"/>
<path d="M431.2 269.2L450.6 268.2L446.4 275.6L432.2 275.6Z" stroke="#111" stroke-width="0.84" fill="none" />
<path d="M432.8 268.9q8-1.8 17 -0.6" stroke="#333" stroke-width="0.60" fill="none" />
<path d="M432.2 275.6L433 277.4L445.6 277.4L446.4 275.6" stroke="#111" stroke-width="0.72" fill="none" />
<path d="M360.56 372.60A32.3 32.3 0 0 1 425.04 372.60" stroke="#111" stroke-width="1.08" fill="none" />
<path d="M362.67 372.60A30.2 30.2 0 0 1 422.93 372.60" stroke="#333" stroke-width="0.60" fill="none" />
<path d="M364.70 370.50A28.4 28.4 0 0 1 420.90 370.50" stroke="#111" stroke-width="0.84" fill="none" />
<path d="M360.60 372.60L364.50 372.60" stroke="#000" stroke-width="0.72"/>
<path d="M421.20 372.60L425.10 372.60" stroke="#000" stroke-width="0.72"/>
<path d="M365.40 364.50L367.80 366.50L366.20 368.80" stroke="#000" stroke-width="0.60" fill="none"/>
<path d="M420.20 364.50L417.80 366.50L419.40 368.80" stroke="#000" stroke-width="0.60" fill="none"/>
<path d="M338.30 371.90L360.60 371.90" stroke="#111" stroke-width="1.68"/>
<path d="M425.10 371.90L442.50 371.90" stroke="#111" stroke-width="1.68"/>
<path d="M442.50 371.90L459.80 371.90" stroke="#111" stroke-width="0.72"/>
<path d="M459.80 282.40L459.80 371.20" stroke="#111" stroke-width="0.96"/>
<path d="M461.20 312.00L461.20 369.00" stroke="#444" stroke-width="0.48"/>
<path d="M484.30 283.90L484.30 371.20" stroke="#111" stroke-width="0.96"/>
<path d="M483.00 312.00L483.00 369.00" stroke="#444" stroke-width="0.48"/>
<path d="M459.80 282.40L463.00 282.40" stroke="#000" stroke-width="0.72"/>
<path d="M460.4 282.4L478.6 272.2Q482.6 271 483 275L483.6 284" stroke="#111" stroke-width="0.84" fill="none" />
<path d="M464.5 295.4L481 281.6" stroke="#111" stroke-width="0.72" fill="none" />
<path d="M466.8 295.4L482.8 287.4" stroke="#111" stroke-width="0.60" fill="none" />
<path d="M471.80 281.60L471.80 295.00" stroke="#000" stroke-width="0.60"/>
<path d="M476.60 284.00L476.60 295.00" stroke="#000" stroke-width="0.60"/>
<rect x="462.00" y="295.70" width="19.40" height="9.60" stroke="#111" stroke-width="0.48" fill="#0a0a0a"/>
<circle cx="465.20" cy="305.60" r="1.10" stroke="#000" stroke-width="0.00" fill="#111"/>
<circle cx="478.20" cy="305.60" r="1.10" stroke="#000" stroke-width="0.00" fill="#111"/>
<path d="M460.00 307.40L484.00 307.40" stroke="#333" stroke-width="0.60"/>
<path d="M460.00 311.40L484.00 311.40" stroke="#111" stroke-width="0.72"/>
<rect x="460.60" y="312.40" width="23.00" height="4.60" stroke="#000" stroke-width="0.00" fill="#3a3a3a"/>
<path d="M460.00 317.40L484.00 317.40" stroke="#333" stroke-width="0.60"/>
<circle cx="466.60" cy="324.30" r="4.00" stroke="#111" stroke-width="0.84" fill="none"/>
</g>
<text x="605.60" y="536.60" font-size="3.8" text-anchor="middle" font-weight="bold">T1</text>
<g transform="translate(1072.2,210.8) scale(-1,1)">
<path d="M460.00 331.30L484.00 331.30" stroke="#111" stroke-width="0.72"/>
<rect x="463.50" y="335.70" width="17.20" height="7.90" stroke="#111" stroke-width="0.84" fill="none"/>
<rect x="468.00" y="343.60" width="8.20" height="3.30" stroke="#111" stroke-width="0.72" fill="none"/>
<path d="M461.00 350.40L483.00 350.40" stroke="#555" stroke-width="0.48"/>
<path d="M466.50 367.00L475.20 359.60L479.50 361.00L474.50 367.00Z" stroke="#111" stroke-width="0.84" fill="none"/>
<ellipse cx="478.00" cy="363.20" rx="2.40" ry="3.60" stroke="#111" stroke-width="0.84" fill="none" transform="rotate(25 478.00 363.20)"/>
<path d="M459.80 368.10L484.30 368.10" stroke="#111" stroke-width="0.96"/>
<path d="M459.80 371.20L536.00 371.20" stroke="#111" stroke-width="0.84"/>
<path d="M484.30 283.90L527.40 283.90" stroke="#111" stroke-width="0.96"/>
<path d="M527.40 283.90L527.40 371.20" stroke="#111" stroke-width="0.96"/>
<rect x="490.20" y="281.40" width="31.80" height="2.40" stroke="#111" stroke-width="0.60" fill="#444"/>
<path d="M492.00 280.60L520.00 280.60" stroke="#444" stroke-width="0.48"/>
<rect x="495.40" y="268.60" width="5.20" height="12.60" stroke="#111" stroke-width="0.48" fill="#111" rx="1"/>
<rect x="496.80" y="265.60" width="2.40" height="3.40" stroke="#000" stroke-width="0.00" fill="#111" rx="0.8"/>
<rect x="487.30" y="276.60" width="4.20" height="5.60" stroke="#111" stroke-width="0.84" fill="none" rx="0.5"/>
<path d="M503.20 272.00L503.20 281.40" stroke="#000" stroke-width="0.84"/>
<path d="M504.30 276.00L504.30 281.40" stroke="#000" stroke-width="0.60"/>
<path d="M521.60 272.00L521.60 281.40" stroke="#000" stroke-width="0.84"/>
<path d="M520.50 276.00L520.50 281.40" stroke="#000" stroke-width="0.60"/>
<rect x="499.60" y="287.10" width="18.20" height="13.30" stroke="#111" stroke-width="0.60" fill="#fff"/>
<path d="M499.80 287.90L517.60 287.90" stroke="#111" stroke-width="1.20"/>
<path d="M499.80 289.65L517.60 289.65" stroke="#111" stroke-width="1.20"/>
<path d="M499.80 291.40L517.60 291.40" stroke="#111" stroke-width="1.20"/>
<path d="M499.80 293.15L517.60 293.15" stroke="#111" stroke-width="1.20"/>
<path d="M499.80 294.90L517.60 294.90" stroke="#111" stroke-width="1.20"/>
<path d="M499.80 296.65L517.60 296.65" stroke="#111" stroke-width="1.20"/>
<path d="M499.80 298.40L517.60 298.40" stroke="#111" stroke-width="1.20"/>
<path d="M499.80 300.15L517.60 300.15" stroke="#111" stroke-width="1.20"/>
<path d="M504.20 287.10L504.20 300.40" stroke="#111" stroke-width="0.84"/>
<path d="M508.70 287.10L508.70 300.40" stroke="#111" stroke-width="0.84"/>
<path d="M513.20 287.10L513.20 300.40" stroke="#111" stroke-width="0.84"/>
<path d="M527.4 306.6h-8.2q0.6-8.4 8.2-9.6" stroke="#111" stroke-width="0.84" fill="#fff" />
<path d="M521.80 300.00L521.80 306.40" stroke="#555" stroke-width="0.48"/>
<path d="M484.30 311.40L527.40 311.40" stroke="#111" stroke-width="0.84"/>
<path d="M484.30 312.60L527.40 312.60" stroke="#111" stroke-width="0.60"/>
<rect x="485.60" y="312.60" width="40.60" height="58.00" stroke="#111" stroke-width="0.72" fill="none"/>
<rect x="487.00" y="313.60" width="35.60" height="16.30" stroke="#111" stroke-width="0.84" fill="none"/>
<path d="M487.00 331.40L523.00 331.40" stroke="#111" stroke-width="0.72"/>
<path d="M487.00 333.60L523.00 333.60" stroke="#111" stroke-width="0.72"/>
<rect x="487.00" y="331.40" width="36.00" height="2.20" stroke="#000" stroke-width="0.00" fill="#999"/>
<path d="M523.40 313.60L523.40 368.00" stroke="#111" stroke-width="0.72"/>
<rect x="514.40" y="336.00" width="3.60" height="2.20" stroke="#000" stroke-width="0.00" fill="#111"/>
<circle cx="516.20" cy="340.40" r="2.50" stroke="#111" stroke-width="1.08" fill="#444"/>
<rect x="515.00" y="342.60" width="2.40" height="2.60" stroke="#000" stroke-width="0.00" fill="#222"/>
<rect x="495.90" y="336.00" width="3.60" height="2.20" stroke="#000" stroke-width="0.00" fill="#111"/>
<circle cx="497.70" cy="340.40" r="2.50" stroke="#111" stroke-width="1.08" fill="#444"/>
<rect x="496.50" y="342.60" width="2.40" height="2.60" stroke="#000" stroke-width="0.00" fill="#222"/>
<circle cx="517.00" cy="349.80" r="2.40" stroke="#111" stroke-width="1.08" fill="none"/>
<circle cx="517.00" cy="349.80" r="1.10" stroke="#444" stroke-width="0.60" fill="none"/>
<path d="M496.80 343.00L492.40 353.00" stroke="#111" stroke-width="0.72"/>
<circle cx="505.50" cy="351.40" r="4.40" stroke="#111" stroke-width="0.84" fill="none"/>
<path d="M499.00 351.40L501.00 351.40" stroke="#000" stroke-width="0.84"/>
<path d="M510.00 351.40L513.00 351.40" stroke="#000" stroke-width="0.84"/>
<path d="M511.20 350.00L513.40 351.40L511.20 352.80Z" stroke="#000" stroke-width="0.48" fill="#222"/>
<rect x="488.60" y="352.20" width="5.80" height="8.20" stroke="#111" stroke-width="0.72" fill="#555"/>
<rect x="489.80" y="353.60" width="2.00" height="5.40" stroke="#000" stroke-width="0.00" fill="#eee"/>
<rect x="521.60" y="318.00" width="2.40" height="6.20" stroke="#000" stroke-width="0.00" fill="#222"/>
<rect x="521.60" y="340.00" width="2.40" height="10.50" stroke="#000" stroke-width="0.00" fill="#333"/>
<path d="M522 316.6q-3.6 1.6-3.8 7.6h3.8" stroke="#111" stroke-width="0.72" fill="none" />
<path d="M487.00 361.80L523.00 361.80" stroke="#333" stroke-width="0.60"/>
<rect x="488.40" y="363.30" width="34.00" height="5.90" stroke="#111" stroke-width="0.72" fill="none"/>
<rect x="489.60" y="364.80" width="2.20" height="2.80" stroke="#000" stroke-width="0.00" fill="#111" rx="0.5"/>
<rect x="495.50" y="364.80" width="2.20" height="2.80" stroke="#000" stroke-width="0.00" fill="#111" rx="0.5"/>
<rect x="501.50" y="364.80" width="2.20" height="2.80" stroke="#000" stroke-width="0.00" fill="#111" rx="0.5"/>
<rect x="507.40" y="364.80" width="2.20" height="2.80" stroke="#000" stroke-width="0.00" fill="#111" rx="0.5"/>
<rect x="513.30" y="364.80" width="2.20" height="2.80" stroke="#000" stroke-width="0.00" fill="#111" rx="0.5"/>
<rect x="519.20" y="364.80" width="2.20" height="2.80" stroke="#000" stroke-width="0.00" fill="#111" rx="0.5"/>
<rect x="525.40" y="317.00" width="3.60" height="9.50" stroke="#000" stroke-width="0.00" fill="#222"/>
<rect x="525.40" y="339.50" width="3.60" height="9.50" stroke="#000" stroke-width="0.00" fill="#222"/>
<rect x="529.20" y="362.50" width="3.20" height="7.50" stroke="#000" stroke-width="0.00" fill="#111"/>
<rect x="484.30" y="371.20" width="5.00" height="7.00" stroke="#111" stroke-width="0.72" fill="none"/>
<rect x="485.40" y="374.00" width="2.80" height="2.80" stroke="#111" stroke-width="0.48" fill="#333"/>
<path d="M489.30 377.00L520.60 377.00" stroke="#111" stroke-width="0.84"/>
<path d="M489.30 375.40L520.60 375.40" stroke="#444" stroke-width="0.48"/>
<path d="M516.80 371.20L516.80 377.00" stroke="#000" stroke-width="0.48"/>
<path d="M520.60 371.20L520.60 377.00" stroke="#000" stroke-width="0.60"/>
<path d="M529.40 265.70L529.40 371.20" stroke="#111" stroke-width="0.84"/>
<path d="M531.60 267.50L531.60 369.00" stroke="#333" stroke-width="0.48"/>
<path d="M533.60 267.50L533.60 369.00" stroke="#333" stroke-width="0.48"/>
<path d="M535.60 267.50L535.60 369.00" stroke="#111" stroke-width="0.84"/>
<path d="M532.60 300.00L532.60 369.00" stroke="#222" stroke-width="0.60" stroke-dasharray="2.2 1.6"/>
<path d="M527.60 265.60L687.40 265.60" stroke="#111" stroke-width="1.08"/>
<path d="M529.40 267.50L686.00 267.50" stroke="#111" stroke-width="0.60"/>
<path d="M527.6 265.6q-0.4 3 1.6 4.6" stroke="#000" stroke-width="0.72" fill="none" />
<path d="M529.40 263.80L684.00 263.80" stroke="#111" stroke-width="0.96"/>
<path d="M529.40 263.80L529.40 265.60" stroke="#000" stroke-width="0.72"/>
<path d="M684.00 263.80L684.00 267.50" stroke="#000" stroke-width="0.72"/>
<path d="M536.00 266.30L543.00 266.30" stroke="#222" stroke-width="1.20"/>
<path d="M594.00 266.30L603.00 266.30" stroke="#222" stroke-width="1.20"/>
<path d="M606.50 266.30L618.00 266.30" stroke="#222" stroke-width="1.20"/>
<path d="M670.00 266.30L677.00 266.30" stroke="#222" stroke-width="1.20"/>
<path d="M565.2 265.4L565.2 255.9L663.7 255.9L663.7 265.4" stroke="#111" stroke-width="0.72" fill="none" />
<path d="M535.60 293.60L677.80 293.60" stroke="#111" stroke-width="0.72"/>
<path d="M535.60 298.80L677.80 298.80" stroke="#111" stroke-width="0.72"/>
<rect x="537.10" y="277.30" width="8.90" height="5.60" stroke="#111" stroke-width="1.08" fill="none" rx="0.5"/>
<rect x="666.40" y="277.40" width="9.20" height="5.80" stroke="#111" stroke-width="1.08" fill="none" rx="0.5"/>
<path d="M677.80 267.50L677.80 367.40" stroke="#111" stroke-width="0.84"/>
<path d="M680.30 267.50L680.30 367.40" stroke="#333" stroke-width="0.48"/>
<path d="M682.70 267.50L682.70 364.40" stroke="#111" stroke-width="0.84"/>
<rect x="536.00" y="299.00" width="141.60" height="3.40" stroke="#000" stroke-width="0.00" fill="#111"/>
<rect x="536.00" y="302.40" width="141.60" height="2.40" stroke="#000" stroke-width="0.00" fill="#555"/>
<rect x="564.30" y="299.00" width="3.70" height="70.00" stroke="#111" stroke-width="0.72" fill="#fff"/>
<path d="M566.15 300.00L566.15 368.00" stroke="#666" stroke-width="0.36"/>
<rect x="628.10" y="299.00" width="3.80" height="70.00" stroke="#111" stroke-width="0.72" fill="#fff"/>
<path d="M630.00 300.00L630.00 368.00" stroke="#666" stroke-width="0.36"/>
<path d="M536.00 319.40L564.30 319.40" stroke="#222" stroke-width="0.60"/>
<path d="M536.00 321.60L564.30 321.60" stroke="#222" stroke-width="0.60"/>
<path d="M536.00 325.60L564.30 325.60" stroke="#111" stroke-width="0.84" stroke-dasharray="3.2 1.8"/>
<path d="M536.00 337.20L564.30 337.20" stroke="#333" stroke-width="0.60"/>
<path d="M536.00 348.20L564.30 348.20" stroke="#111" stroke-width="0.84" stroke-dasharray="3.2 1.8"/>
<path d="M536.00 356.00L564.30 356.00" stroke="#333" stroke-width="0.60"/>
<path d="M536.00 365.60L564.30 365.60" stroke="#111" stroke-width="0.72"/>
<rect x="537.00" y="366.20" width="26.50" height="2.40" stroke="#000" stroke-width="0.00" fill="#888"/>
<circle cx="541.00" cy="309.40" r="3.70" stroke="#111" stroke-width="0.84" fill="#fff"/>
</g>
<text x="531.20" y="521.60" font-size="3.8" text-anchor="middle" font-weight="bold">R1</text>
<g transform="translate(1072.2,210.8) scale(-1,1)">
<circle cx="574.80" cy="309.30" r="3.70" stroke="#111" stroke-width="0.84" fill="#fff"/>
</g>
<text x="497.40" y="521.50" font-size="3.8" text-anchor="middle" font-weight="bold">R2</text>
<g transform="translate(1072.2,210.8) scale(-1,1)">
<rect x="568.00" y="320.40" width="60.10" height="2.90" stroke="#333" stroke-width="0.48" fill="#bbb"/>
<path d="M568.00 325.30L628.10 325.30" stroke="#111" stroke-width="0.84" stroke-dasharray="3.2 1.8"/>
<path d="M568.00 332.20L628.10 332.20" stroke="#222" stroke-width="0.60"/>
<path d="M568.00 333.90L628.10 333.90" stroke="#111" stroke-width="0.84"/>
<rect x="568.90" y="335.40" width="58.50" height="10.90" stroke="#111" stroke-width="0.84" fill="none"/>
<rect x="594.00" y="336.40" width="8.20" height="5.40" stroke="#111" stroke-width="1.08" fill="none"/>
<path d="M606.40 335.40L606.40 346.30" stroke="#000" stroke-width="0.60"/>
<rect x="608.60" y="337.00" width="4.60" height="3.00" stroke="#000" stroke-width="0.00" fill="#222"/>
<circle cx="578.20" cy="341.60" r="2.00" stroke="#000" stroke-width="0.00" fill="#111"/>
<circle cx="617.60" cy="341.60" r="2.00" stroke="#000" stroke-width="0.00" fill="#111"/>
<path d="M583.60 340.60L586.20 336.40L588.80 340.60Z" stroke="#111" stroke-width="0.48" fill="#222"/>
<path d="M568.00 347.80L575.00 347.80" stroke="#000" stroke-width="0.72" stroke-dasharray="2.5 1.5"/>
<path d="M568.00 356.00L572.00 356.00" stroke="#000" stroke-width="0.96"/>
<circle cx="638.50" cy="309.30" r="3.70" stroke="#111" stroke-width="0.84" fill="#fff"/>
</g>
<text x="433.70" y="521.50" font-size="3.8" text-anchor="middle" font-weight="bold">R3</text>
<g transform="translate(1072.2,210.8) scale(-1,1)">
<path d="M631.90 321.40L677.80 321.40" stroke="#222" stroke-width="0.60"/>
<path d="M631.90 323.60L677.80 323.60" stroke="#222" stroke-width="0.60"/>
<path d="M631.90 325.40L677.80 325.40" stroke="#111" stroke-width="0.84" stroke-dasharray="3.2 1.8"/>
<path d="M631.90 331.50L677.80 331.50" stroke="#333" stroke-width="0.60"/>
<path d="M631.90 338.90L677.80 338.90" stroke="#333" stroke-width="0.60"/>
<path d="M644.40 325.40L644.40 342.00" stroke="#111" stroke-width="0.84" stroke-dasharray="3.2 1.8"/>
<path d="M631.90 339.40L677.80 339.40" stroke="#222" stroke-width="0.60"/>
<path d="M631.90 342.30L677.80 342.30" stroke="#222" stroke-width="0.60"/>
<path d="M631.90 348.20L644.40 348.20" stroke="#111" stroke-width="0.84" stroke-dasharray="3.2 1.8"/>
<path d="M644.40 342.00L644.40 348.20" stroke="#111" stroke-width="0.84" stroke-dasharray="3.2 1.8"/>
<path d="M631.90 359.30L677.80 359.30" stroke="#111" stroke-width="0.72"/>
<rect x="633.00" y="363.00" width="44.00" height="3.20" stroke="#000" stroke-width="0.00" fill="#777"/>
<path d="M631.90 362.60L677.80 362.60" stroke="#222" stroke-width="0.60"/>
<path d="M529.40 368.90L568.00 368.90" stroke="#111" stroke-width="0.96"/>
<path d="M629.60 367.40L682.70 367.40" stroke="#111" stroke-width="0.96"/>
<path d="M536.00 371.20L568.00 371.20" stroke="#111" stroke-width="0.60"/>
<path d="M564.20 369.50A34.0 34.0 0 0 1 631.40 369.50" stroke="#111" stroke-width="1.08" fill="none" />
<path d="M566.43 369.50A31.8 31.8 0 0 1 629.17 369.50" stroke="#333" stroke-width="0.60" fill="none" />
<path d="M570.42 364.00A29.4 29.4 0 0 1 625.18 364.00" stroke="#111" stroke-width="0.84" fill="none" />
<path d="M567.00 369.50L570.50 372.60" stroke="#000" stroke-width="0.72"/>
<rect x="571.40" y="354.60" width="3.80" height="5.20" stroke="#000" stroke-width="0.00" fill="#222"/>
<rect x="616.40" y="352.60" width="5.20" height="3.40" stroke="#000" stroke-width="0.00" fill="#222"/>
<path d="M568.10 340.40L568.10 369.00" stroke="#000" stroke-width="0.60"/>
<path d="M684 315.2L693.2 315.2Q692.6 306.59999999999997 684.6 305.8" stroke="#111" stroke-width="0.84" fill="none" />
<path d="M687.60 307.80L687.60 315.20" stroke="#555" stroke-width="0.48"/>
<path d="M684 331.5L693.2 331.5Q692.6 322.9 684.6 322.1" stroke="#111" stroke-width="0.84" fill="none" />
<path d="M687.60 324.10L687.60 331.50" stroke="#555" stroke-width="0.48"/>
<path d="M684 347.0L693.2 347.0Q692.6 338.4 684.6 337.6" stroke="#111" stroke-width="0.84" fill="none" />
<path d="M687.60 339.60L687.60 347.00" stroke="#555" stroke-width="0.48"/>
<rect x="682.90" y="301.50" width="2.60" height="48.00" stroke="#222" stroke-width="0.48" fill="#777"/>
<rect x="681.60" y="352.50" width="3.40" height="7.50" stroke="#000" stroke-width="0.00" fill="#111" rx="1.2"/>
<path d="M682.7 364.4L691.9 364.4L691.9 374.8L671.9 374.8L671.9 369.4" stroke="#333" stroke-width="0.72" fill="none" />
<path d="M671.90 369.40L691.90 369.40" stroke="#555" stroke-width="0.48"/>
<path d="M629.6 369.4L629.6 383.7M625.4 386.6Q630 386.2 634 383.6L652 378Q660 374 669.6 369.2" stroke="#222" stroke-width="0.72" fill="none" />
<circle cx="645.90" cy="375.60" r="2.40" stroke="#222" stroke-width="0.72" fill="none"/>
<circle cx="645.90" cy="375.60" r="1.20" stroke="#444" stroke-width="0.48" fill="none"/>
<path d="M633.00 369.00L633.00 372.60" stroke="#000" stroke-width="0.48"/>
<path d="M633.00 372.60L668.00 370.20" stroke="#000" stroke-width="0.48"/>
</g>
<path d="M315.00 609.30L495.00 609.30" stroke="#000" stroke-width="0.72"/>
<path d="M657.00 609.30L700.00 609.30" stroke="#000" stroke-width="0.72"/>
<ellipse cx="340.60" cy="532.70" rx="6.40" ry="6.40" stroke="#222" stroke-width="0.84" fill="none"/>
<path d="M343.60 530.80L345.80 530.80" stroke="#000" stroke-width="0.72"/>
<path d="M346.00 532.30L347.40 534.90L345.80 535.50" stroke="#000" stroke-width="0.60" fill="none"/>
<path d="M339.60 532.30q-2.20 1.6 0 3.4" stroke="#000" stroke-width="0.60" fill="none" />
<path d="M337.80 539.30C332.80 542.30 333.60 553.30 334.40 563.30L335.40 583.30L336.40 601.30L336.80 607.30" stroke="#222" stroke-width="0.72" fill="none" />
<path d="M342.20 539.30C347.20 542.30 346.40 553.30 345.60 563.30L344.60 583.30L343.60 601.30L343.20 607.30" stroke="#222" stroke-width="0.72" fill="none" />
<path d="M339.80 545.30L339.80 606.30" stroke="#333" stroke-width="0.60"/>
<path d="M336.80 607.30L336.80 609.00L349.00 609.00Q349.00 606.90 343.20 606.10" stroke="#222" stroke-width="0.72" fill="none" />
<path d="M342.00 559.40L361.50 559.20Q363.00 560.50 361.50 561.70L342.00 561.90" stroke="#222" stroke-width="0.72" fill="none" />
<path d="M352.00 560.70L362.00 560.70" stroke="#333" stroke-width="1.20"/>
<path d="M316.00 526.30L345.00 526.30" stroke="#000" stroke-width="0.60"/>
<path d="M316.30 526.30L316.30 564.00" stroke="#000" stroke-width="0.60"/>
<path d="M316.30 570.00L316.30 609.30" stroke="#000" stroke-width="0.60"/>
<text x="309.18" y="568.51" font-size="4.2" font-weight="bold" textLength="14.24" lengthAdjust="spacingAndGlyphs">5'-10"</text>
<path d="M316.30 526.30L315.85 528.50L316.75 528.50Z" stroke="#000" stroke-width="0.24" fill="#000"/>
<path d="M316.30 609.30L315.85 607.10L316.75 607.10Z" stroke="#000" stroke-width="0.24" fill="#000"/>
<text x="348.43" y="461.44" font-size="4.0" font-weight="bold" textLength="32.87" lengthAdjust="spacingAndGlyphs">WARNING LIGHTS</text>
<text x="357.90" y="465.94" font-size="4.0" font-weight="bold" textLength="23.40" lengthAdjust="spacingAndGlyphs">WHELEN LED</text>
<text x="365.01" y="470.44" font-size="4.0" font-weight="bold" textLength="16.29" lengthAdjust="spacingAndGlyphs">(QTY 2)</text>
<path d="M382.60 460.00L387.00 460.00L397.50 488.80" stroke="#000" stroke-width="0.60" fill="none"/>
<text x="503.16" y="461.44" font-size="4.0" font-weight="bold" textLength="28.14" lengthAdjust="spacingAndGlyphs">SCENE LIGHTS</text>
<text x="507.90" y="465.94" font-size="4.0" font-weight="bold" textLength="23.40" lengthAdjust="spacingAndGlyphs">WHELEN LED</text>
<text x="515.01" y="470.44" font-size="4.0" font-weight="bold" textLength="16.29" lengthAdjust="spacingAndGlyphs">(QTY 2)</text>
<path d="M532.60 460.00L537.00 460.00L537.00 484.00L533.00 488.50" stroke="#000" stroke-width="0.60" fill="none"/>
<text x="608.80" y="461.94" font-size="4.0" font-weight="bold" textLength="54.19" lengthAdjust="spacingAndGlyphs">ALUMINUM CROSSLAY COVER</text>
<text x="608.80" y="466.44" font-size="4.0" font-weight="bold" textLength="37.61" lengthAdjust="spacingAndGlyphs">w/VINYL END FLAP</text>
<text x="608.80" y="470.94" font-size="4.0" font-weight="bold" textLength="32.87" lengthAdjust="spacingAndGlyphs">MIDNIGHT BLACK</text>
<path d="M607.40 460.50L602.50 460.50L595.00 490.00" stroke="#000" stroke-width="0.60" fill="none"/>
<text x="695.00" y="461.94" font-size="4.0" font-weight="bold" textLength="28.14" lengthAdjust="spacingAndGlyphs">SCENE LIGHTS</text>
<text x="695.00" y="466.44" font-size="4.0" font-weight="bold" textLength="23.40" lengthAdjust="spacingAndGlyphs">WHELEN LED</text>
<text x="695.00" y="470.94" font-size="4.0" font-weight="bold" textLength="16.29" lengthAdjust="spacingAndGlyphs">(QTY 2)</text>
<path d="M693.60 460.50L690.00 460.50L678.00 497.50" stroke="#000" stroke-width="0.60" fill="none"/>
<text x="733.80" y="461.94" font-size="4.0" font-weight="bold" textLength="35.24" lengthAdjust="spacingAndGlyphs">LIGHTBAR WHELEN</text>
<text x="733.80" y="466.44" font-size="4.0" font-weight="bold" textLength="42.35" lengthAdjust="spacingAndGlyphs">LED CENATOR SERIES</text>
<path d="M732.40 460.50L727.50 460.50L723.80 485.00" stroke="#000" stroke-width="0.60" fill="none"/>
<text x="361.36" y="623.94" font-size="4.0" font-weight="bold" textLength="28.14" lengthAdjust="spacingAndGlyphs">PULLOUT TRAY</text>
<text x="366.10" y="628.19" font-size="4.0" font-weight="bold" textLength="23.40" lengthAdjust="spacingAndGlyphs">HEAVY DUTY</text>
<text x="361.36" y="632.44" font-size="4.0" font-weight="bold" textLength="28.14" lengthAdjust="spacingAndGlyphs">GRANT SLIDES</text>
<text x="368.47" y="636.69" font-size="4.0" font-weight="bold" textLength="21.03" lengthAdjust="spacingAndGlyphs">GAS SHOCK</text>
<text x="373.21" y="640.94" font-size="4.0" font-weight="bold" textLength="16.29" lengthAdjust="spacingAndGlyphs">(QTY 4)</text>
<path d="M391.00 622.50L395.00 622.50L418.80 574.30" stroke="#000" stroke-width="0.60" fill="none"/>
<text x="399.73" y="623.94" font-size="4.0" font-weight="bold" textLength="25.77" lengthAdjust="spacingAndGlyphs">SCBA BOTTLE</text>
<text x="399.73" y="628.19" font-size="4.0" font-weight="bold" textLength="25.77" lengthAdjust="spacingAndGlyphs">COMPARTMENT</text>
<text x="409.21" y="632.44" font-size="4.0" font-weight="bold" textLength="16.29" lengthAdjust="spacingAndGlyphs">(QTY 2)</text>
<path d="M427.00 622.50L430.50 622.50L448.80 556.00" stroke="#000" stroke-width="0.60" fill="none"/>
<text x="439.63" y="623.94" font-size="4.0" font-weight="bold" textLength="32.87" lengthAdjust="spacingAndGlyphs">WARNING LIGHTS</text>
<text x="449.10" y="628.19" font-size="4.0" font-weight="bold" textLength="23.40" lengthAdjust="spacingAndGlyphs">WHELEN LED</text>
<text x="456.21" y="632.44" font-size="4.0" font-weight="bold" textLength="16.29" lengthAdjust="spacingAndGlyphs">(QTY 2)</text>
<path d="M474.00 622.50L478.00 622.50L473.80 548.80" stroke="#000" stroke-width="0.60" fill="none"/>
<text x="495.80" y="623.94" font-size="4.0" font-weight="bold" textLength="25.77" lengthAdjust="spacingAndGlyphs">TURN SIGNAL</text>
<text x="495.80" y="628.19" font-size="4.0" font-weight="bold" textLength="23.40" lengthAdjust="spacingAndGlyphs">WHELEN LED</text>
<text x="495.80" y="632.44" font-size="4.0" font-weight="bold" textLength="16.29" lengthAdjust="spacingAndGlyphs">(QTY 2)</text>
<path d="M494.50 622.50L491.30 622.50L495.50 585.00L502.50 561.00" stroke="#000" stroke-width="0.60" fill="none"/>
<text x="502.09" y="598.74" font-size="4.0" font-weight="bold" textLength="30.51" lengthAdjust="spacingAndGlyphs">GROUND LIGHTS</text>
<text x="497.36" y="603.04" font-size="4.0" font-weight="bold" textLength="35.24" lengthAdjust="spacingAndGlyphs">LED STRIP LIGHT</text>
<path d="M534.00 597.30L537.60 597.30L532.20 583.70" stroke="#000" stroke-width="0.60" fill="none"/>
<text x="529.83" y="612.14" font-size="4.0" font-weight="bold" textLength="25.77" lengthAdjust="spacingAndGlyphs">2.5" DIRECT</text>
<text x="534.57" y="616.74" font-size="4.0" font-weight="bold" textLength="21.03" lengthAdjust="spacingAndGlyphs">TANK FILL</text>
<path d="M557.00 610.70L561.50 610.70L555.60 564.40" stroke="#000" stroke-width="0.60" fill="none"/>
<text x="538.16" y="624.44" font-size="4.0" font-weight="bold" textLength="28.14" lengthAdjust="spacingAndGlyphs">4" DISCHARGE</text>
<path d="M567.60 623.00L571.30 623.00L556.60 563.00" stroke="#000" stroke-width="0.60" fill="none"/>
<text x="589.50" y="624.44" font-size="4.0" font-weight="bold" textLength="37.61" lengthAdjust="spacingAndGlyphs">6" STEAMER INLET</text>
<path d="M588.20 623.00L583.80 623.00L567.50 566.50" stroke="#000" stroke-width="0.60" fill="none"/>
<text x="596.60" y="612.14" font-size="4.0" font-weight="bold" textLength="9.19" lengthAdjust="spacingAndGlyphs">STEP</text>
<text x="596.60" y="616.44" font-size="4.0" font-weight="bold" textLength="23.40" lengthAdjust="spacingAndGlyphs">STATIONARY</text>
<path d="M595.20 610.70L591.10 610.70L580.00 585.20" stroke="#000" stroke-width="0.60" fill="none"/>
<text x="600.70" y="599.24" font-size="4.0" font-weight="bold" textLength="32.87" lengthAdjust="spacingAndGlyphs">2.5" DISCHARGE</text>
<path d="M599.40 597.80L595.60 597.80L589.50 584.00L576.00 554.00" stroke="#000" stroke-width="0.60" fill="none"/>
<text x="649.50" y="623.94" font-size="4.0" font-weight="bold" textLength="28.14" lengthAdjust="spacingAndGlyphs">PULLOUT FULL</text>
<text x="649.50" y="628.54" font-size="4.0" font-weight="bold" textLength="35.24" lengthAdjust="spacingAndGlyphs">TRANSVERSE TRAY</text>
<text x="649.50" y="633.14" font-size="4.0" font-weight="bold" textLength="28.14" lengthAdjust="spacingAndGlyphs">1000 LB LOAD</text>
<text x="649.50" y="637.74" font-size="4.0" font-weight="bold" textLength="49.45" lengthAdjust="spacingAndGlyphs">w/ROLLER FRAME SYSTEM</text>
<text x="649.50" y="642.34" font-size="4.0" font-weight="bold" textLength="39.98" lengthAdjust="spacingAndGlyphs">LATCH TO POSITION</text>
<path d="M648.20 622.50L643.80 622.50L612.00 553.80" stroke="#000" stroke-width="0.60" fill="none"/>
<text x="711.30" y="622.74" font-size="4.0" font-weight="bold" textLength="32.87" lengthAdjust="spacingAndGlyphs">WARNING LIGHTS</text>
<text x="711.30" y="627.74" font-size="4.0" font-weight="bold" textLength="42.35" lengthAdjust="spacingAndGlyphs">WHELEN LED (QTY 2)</text>
<path d="M710.00 621.30L706.30 621.30L680.00 548.80" stroke="#000" stroke-width="0.60" fill="none"/>
<text x="766.30" y="622.74" font-size="4.0" font-weight="bold" textLength="30.51" lengthAdjust="spacingAndGlyphs">GROUND LIGHTS</text>
<text x="766.30" y="627.74" font-size="4.0" font-weight="bold" textLength="35.24" lengthAdjust="spacingAndGlyphs">LED STRIP LIGHT</text>
<path d="M765.00 621.30L760.00 621.30L723.80 585.00" stroke="#000" stroke-width="0.60" fill="none"/>
<text x="767.00" y="603.24" font-size="4.0" font-weight="bold" textLength="21.03" lengthAdjust="spacingAndGlyphs">TOW HOOKS</text>
<text x="767.00" y="607.84" font-size="4.0" font-weight="bold" textLength="16.29" lengthAdjust="spacingAndGlyphs">(QTY 2)</text>
<path d="M765.60 601.80L761.30 601.80L750.00 587.50" stroke="#000" stroke-width="0.60" fill="none"/>
</g>
</g>
</svg>
</body></html>
